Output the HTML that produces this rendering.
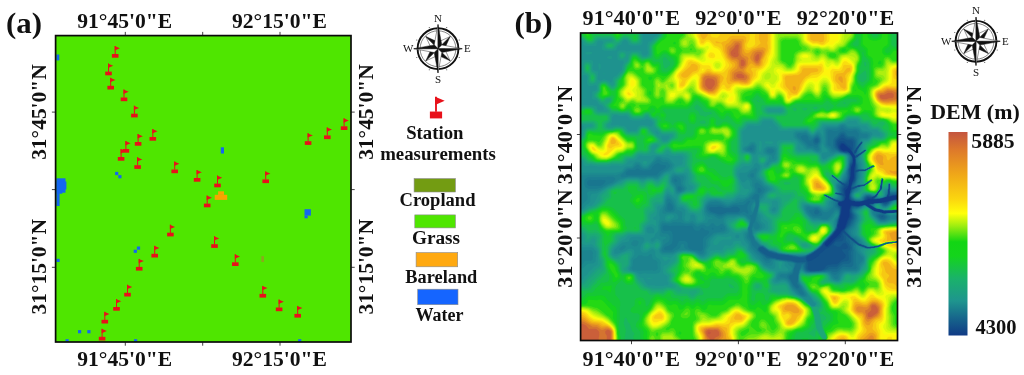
<!DOCTYPE html>
<html lang="en"><head><meta charset="utf-8"><title>Study area</title>
<style>html,body{margin:0;padding:0;background:#fff}svg{display:block}</style></head><body>
<svg width="1024" height="375" viewBox="0 0 1024 375">
<rect width="1024" height="375" fill="#fff"/>
<rect x="55.6" y="35.6" width="295.4" height="306.4" fill="#4fe600"/>
<rect x="56.4" y="54.5" width="2.9" height="5.9" fill="#1467f0"/>
<rect x="56.4" y="178.3" width="9.1" height="14.4" fill="#1467f0"/>
<rect x="56.4" y="181.5" width="10.0" height="8.0" fill="#1467f0"/>
<rect x="56.4" y="192.7" width="3.2" height="13.3" fill="#1467f0"/>
<rect x="56.4" y="190" width="5.9" height="3.7" fill="#1467f0"/>
<rect x="115.1" y="171.9" width="3.2" height="3.2" fill="#1467f0"/>
<rect x="118.3" y="175.1" width="3.2" height="3.2" fill="#1467f0"/>
<rect x="220.8" y="147.3" width="3.2" height="6.2" fill="#1467f0"/>
<rect x="304.5" y="209.2" width="6.4" height="6.4" fill="#1467f0"/>
<rect x="304.5" y="215.6" width="3.2" height="2.7" fill="#1467f0"/>
<rect x="136.9" y="246.5" width="3.2" height="3.2" fill="#1467f0"/>
<rect x="133.7" y="249.7" width="3.2" height="3.2" fill="#1467f0"/>
<rect x="56.4" y="258.8" width="3.2" height="3.2" fill="#1467f0"/>
<rect x="78" y="330.1" width="3.2" height="3.2" fill="#1467f0"/>
<rect x="87.3" y="330.1" width="3.2" height="3.2" fill="#1467f0"/>
<rect x="65.5" y="339.2" width="3.2" height="2.4" fill="#1467f0"/>
<rect x="134" y="339.2" width="3.2" height="2.4" fill="#1467f0"/>
<rect x="298.1" y="339.2" width="3.2" height="2.4" fill="#1467f0"/>
<rect x="214.7" y="194.8" width="12.5" height="5.1" fill="#f7a400"/><rect x="218.1" y="191.3" width="5.9" height="3.6" fill="#f7a400"/>
<rect x="261.3" y="256.1" width="2.7" height="5.9" fill="#8aaa1c"/>
<rect x="111.90" y="54.00" width="6.60" height="3.70" fill="#e8111a"/><rect x="114.70" y="46.00" width="1.00" height="8.20" fill="#e8111a"/><polygon points="114.70,46.00 119.90,48.20 114.70,50.40" fill="#e8111a"/>
<rect x="105.20" y="71.60" width="6.60" height="3.70" fill="#e8111a"/><rect x="108.00" y="63.60" width="1.00" height="8.20" fill="#e8111a"/><polygon points="108.00,63.60 113.20,65.80 108.00,68.00" fill="#e8111a"/>
<rect x="107.40" y="85.80" width="6.60" height="3.70" fill="#e8111a"/><rect x="110.20" y="77.80" width="1.00" height="8.20" fill="#e8111a"/><polygon points="110.20,77.80 115.40,80.00 110.20,82.20" fill="#e8111a"/>
<rect x="120.70" y="97.50" width="6.60" height="3.70" fill="#e8111a"/><rect x="123.50" y="89.50" width="1.00" height="8.20" fill="#e8111a"/><polygon points="123.50,89.50 128.70,91.70 123.50,93.90" fill="#e8111a"/>
<rect x="131.10" y="113.70" width="6.60" height="3.70" fill="#e8111a"/><rect x="133.90" y="105.70" width="1.00" height="8.20" fill="#e8111a"/><polygon points="133.90,105.70 139.10,107.90 133.90,110.10" fill="#e8111a"/>
<rect x="149.50" y="137.00" width="6.60" height="3.70" fill="#e8111a"/><rect x="152.30" y="129.00" width="1.00" height="8.20" fill="#e8111a"/><polygon points="152.30,129.00 157.50,131.20 152.30,133.40" fill="#e8111a"/>
<rect x="134.80" y="142.00" width="6.60" height="3.70" fill="#e8111a"/><rect x="137.60" y="134.00" width="1.00" height="8.20" fill="#e8111a"/><polygon points="137.60,134.00 142.80,136.20 137.60,138.40" fill="#e8111a"/>
<rect x="122.60" y="149.00" width="6.60" height="3.70" fill="#e8111a"/><rect x="125.40" y="141.00" width="1.00" height="8.20" fill="#e8111a"/><polygon points="125.40,141.00 130.60,143.20 125.40,145.40" fill="#e8111a"/>
<rect x="117.80" y="157.00" width="6.60" height="3.70" fill="#e8111a"/><rect x="120.60" y="149.00" width="1.00" height="8.20" fill="#e8111a"/><polygon points="120.60,149.00 125.80,151.20 120.60,153.40" fill="#e8111a"/>
<rect x="134.30" y="165.20" width="6.60" height="3.70" fill="#e8111a"/><rect x="137.10" y="157.20" width="1.00" height="8.20" fill="#e8111a"/><polygon points="137.10,157.20 142.30,159.40 137.10,161.60" fill="#e8111a"/>
<rect x="171.40" y="169.50" width="6.60" height="3.70" fill="#e8111a"/><rect x="174.20" y="161.50" width="1.00" height="8.20" fill="#e8111a"/><polygon points="174.20,161.50 179.40,163.70 174.20,165.90" fill="#e8111a"/>
<rect x="193.80" y="178.00" width="6.60" height="3.70" fill="#e8111a"/><rect x="196.60" y="170.00" width="1.00" height="8.20" fill="#e8111a"/><polygon points="196.60,170.00 201.80,172.20 196.60,174.40" fill="#e8111a"/>
<rect x="203.90" y="203.60" width="6.60" height="3.70" fill="#e8111a"/><rect x="206.70" y="195.60" width="1.00" height="8.20" fill="#e8111a"/><polygon points="206.70,195.60 211.90,197.80 206.70,200.00" fill="#e8111a"/>
<rect x="340.80" y="126.30" width="6.60" height="3.70" fill="#e8111a"/><rect x="343.60" y="118.30" width="1.00" height="8.20" fill="#e8111a"/><polygon points="343.60,118.30 348.80,120.50 343.60,122.70" fill="#e8111a"/>
<rect x="324.00" y="135.40" width="6.60" height="3.70" fill="#e8111a"/><rect x="326.80" y="127.40" width="1.00" height="8.20" fill="#e8111a"/><polygon points="326.80,127.40 332.00,129.60 326.80,131.80" fill="#e8111a"/>
<rect x="304.80" y="141.20" width="6.60" height="3.70" fill="#e8111a"/><rect x="307.60" y="133.20" width="1.00" height="8.20" fill="#e8111a"/><polygon points="307.60,133.20 312.80,135.40 307.60,137.60" fill="#e8111a"/>
<rect x="262.40" y="179.40" width="6.60" height="3.70" fill="#e8111a"/><rect x="265.20" y="171.40" width="1.00" height="8.20" fill="#e8111a"/><polygon points="265.20,171.40 270.40,173.60 265.20,175.80" fill="#e8111a"/>
<rect x="214.20" y="183.60" width="6.60" height="3.70" fill="#e8111a"/><rect x="217.00" y="175.60" width="1.00" height="8.20" fill="#e8111a"/><polygon points="217.00,175.60 222.20,177.80 217.00,180.00" fill="#e8111a"/>
<rect x="211.20" y="244.20" width="6.60" height="3.70" fill="#e8111a"/><rect x="214.00" y="236.20" width="1.00" height="8.20" fill="#e8111a"/><polygon points="214.00,236.20 219.20,238.40 214.00,240.60" fill="#e8111a"/>
<rect x="232.00" y="262.30" width="6.60" height="3.70" fill="#e8111a"/><rect x="234.80" y="254.30" width="1.00" height="8.20" fill="#e8111a"/><polygon points="234.80,254.30 240.00,256.50 234.80,258.70" fill="#e8111a"/>
<rect x="259.50" y="293.90" width="6.60" height="3.70" fill="#e8111a"/><rect x="262.30" y="285.90" width="1.00" height="8.20" fill="#e8111a"/><polygon points="262.30,285.90 267.50,288.10 262.30,290.30" fill="#e8111a"/>
<rect x="275.80" y="307.50" width="6.60" height="3.70" fill="#e8111a"/><rect x="278.60" y="299.50" width="1.00" height="8.20" fill="#e8111a"/><polygon points="278.60,299.50 283.80,301.70 278.60,303.90" fill="#e8111a"/>
<rect x="294.40" y="313.90" width="6.60" height="3.70" fill="#e8111a"/><rect x="297.20" y="305.90" width="1.00" height="8.20" fill="#e8111a"/><polygon points="297.20,305.90 302.40,308.10 297.20,310.30" fill="#e8111a"/>
<rect x="167.10" y="232.70" width="6.60" height="3.70" fill="#e8111a"/><rect x="169.90" y="224.70" width="1.00" height="8.20" fill="#e8111a"/><polygon points="169.90,224.70 175.10,226.90 169.90,229.10" fill="#e8111a"/>
<rect x="151.40" y="253.80" width="6.60" height="3.70" fill="#e8111a"/><rect x="154.20" y="245.80" width="1.00" height="8.20" fill="#e8111a"/><polygon points="154.20,245.80 159.40,248.00 154.20,250.20" fill="#e8111a"/>
<rect x="135.90" y="266.90" width="6.60" height="3.70" fill="#e8111a"/><rect x="138.70" y="258.90" width="1.00" height="8.20" fill="#e8111a"/><polygon points="138.70,258.90 143.90,261.10 138.70,263.30" fill="#e8111a"/>
<rect x="124.20" y="292.80" width="6.60" height="3.70" fill="#e8111a"/><rect x="127.00" y="284.80" width="1.00" height="8.20" fill="#e8111a"/><polygon points="127.00,284.80 132.20,287.00 127.00,289.20" fill="#e8111a"/>
<rect x="113.20" y="307.00" width="6.60" height="3.70" fill="#e8111a"/><rect x="116.00" y="299.00" width="1.00" height="8.20" fill="#e8111a"/><polygon points="116.00,299.00 121.20,301.20 116.00,303.40" fill="#e8111a"/>
<rect x="101.50" y="319.80" width="6.60" height="3.70" fill="#e8111a"/><rect x="104.30" y="311.80" width="1.00" height="8.20" fill="#e8111a"/><polygon points="104.30,311.80 109.50,314.00 104.30,316.20" fill="#e8111a"/>
<rect x="98.80" y="336.80" width="6.60" height="3.70" fill="#e8111a"/><rect x="101.60" y="328.80" width="1.00" height="8.20" fill="#e8111a"/><polygon points="101.60,328.80 106.80,331.00 101.60,333.20" fill="#e8111a"/>
<rect x="55.6" y="35.6" width="295.4" height="306.4" fill="none" stroke="#0a0a0a" stroke-width="1.7"/>
<line x1="125.3" y1="31.900000000000002" x2="125.3" y2="35.6" stroke="#111" stroke-width="0.8"/>
<line x1="125.3" y1="342.0" x2="125.3" y2="345.7" stroke="#111" stroke-width="0.8"/>
<line x1="202.7" y1="31.900000000000002" x2="202.7" y2="35.6" stroke="#111" stroke-width="0.8"/>
<line x1="202.7" y1="342.0" x2="202.7" y2="345.7" stroke="#111" stroke-width="0.8"/>
<line x1="280" y1="31.900000000000002" x2="280" y2="35.6" stroke="#111" stroke-width="0.8"/>
<line x1="280" y1="342.0" x2="280" y2="345.7" stroke="#111" stroke-width="0.8"/>
<line x1="51.9" y1="112.1" x2="55.6" y2="112.1" stroke="#111" stroke-width="0.8"/>
<line x1="351.0" y1="112.1" x2="354.7" y2="112.1" stroke="#111" stroke-width="0.8"/>
<line x1="51.9" y1="189.6" x2="55.6" y2="189.6" stroke="#111" stroke-width="0.8"/>
<line x1="351.0" y1="189.6" x2="354.7" y2="189.6" stroke="#111" stroke-width="0.8"/>
<line x1="51.9" y1="267.3" x2="55.6" y2="267.3" stroke="#111" stroke-width="0.8"/>
<line x1="351.0" y1="267.3" x2="354.7" y2="267.3" stroke="#111" stroke-width="0.8"/>
<text x="6.0" y="33.0" text-anchor="start" font-size="29.5" font-weight="bold" font-family="'Liberation Serif','DejaVu Serif',serif" fill="#111" textLength="36" lengthAdjust="spacingAndGlyphs">(a)</text>
<text x="124.7" y="27.6" text-anchor="middle" font-size="21" font-weight="bold" font-family="'Liberation Serif','DejaVu Serif',serif" fill="#111" textLength="95" lengthAdjust="spacingAndGlyphs">91°45'0&quot;E</text>
<text x="124.7" y="365.8" text-anchor="middle" font-size="21" font-weight="bold" font-family="'Liberation Serif','DejaVu Serif',serif" fill="#111" textLength="95" lengthAdjust="spacingAndGlyphs">91°45'0&quot;E</text>
<text x="279.5" y="27.6" text-anchor="middle" font-size="21" font-weight="bold" font-family="'Liberation Serif','DejaVu Serif',serif" fill="#111" textLength="95" lengthAdjust="spacingAndGlyphs">92°15'0&quot;E</text>
<text x="279.5" y="365.8" text-anchor="middle" font-size="21" font-weight="bold" font-family="'Liberation Serif','DejaVu Serif',serif" fill="#111" textLength="95" lengthAdjust="spacingAndGlyphs">92°15'0&quot;E</text>
<text x="46.2" y="112.1" text-anchor="middle" font-size="21" font-weight="bold" font-family="'Liberation Serif','DejaVu Serif',serif" fill="#111" textLength="95.5" lengthAdjust="spacingAndGlyphs" transform="rotate(-90 46.2 112.1)">31°45'0&quot;N</text>
<text x="373.2" y="112.1" text-anchor="middle" font-size="21" font-weight="bold" font-family="'Liberation Serif','DejaVu Serif',serif" fill="#111" textLength="95.5" lengthAdjust="spacingAndGlyphs" transform="rotate(-90 373.2 112.1)">31°45'0&quot;N</text>
<text x="46.2" y="266.8" text-anchor="middle" font-size="21" font-weight="bold" font-family="'Liberation Serif','DejaVu Serif',serif" fill="#111" textLength="95.5" lengthAdjust="spacingAndGlyphs" transform="rotate(-90 46.2 266.8)">31°15'0&quot;N</text>
<text x="373.2" y="266.8" text-anchor="middle" font-size="21" font-weight="bold" font-family="'Liberation Serif','DejaVu Serif',serif" fill="#111" textLength="95.5" lengthAdjust="spacingAndGlyphs" transform="rotate(-90 373.2 266.8)">31°15'0&quot;N</text>
<g transform="translate(438,48.7)">
<circle r="20.4" fill="#fff" stroke="#111" stroke-width="1.9"/>
<circle r="17.9" fill="none" stroke="#222" stroke-width="0.55"/>
<circle cx="8.76" cy="-21.16" r="0.5" fill="#333"/>
<circle cx="21.16" cy="-8.76" r="0.5" fill="#333"/>
<circle cx="21.16" cy="8.76" r="0.5" fill="#333"/>
<circle cx="8.76" cy="21.16" r="0.5" fill="#333"/>
<circle cx="-8.76" cy="21.16" r="0.5" fill="#333"/>
<circle cx="-21.16" cy="8.76" r="0.5" fill="#333"/>
<circle cx="-21.16" cy="-8.76" r="0.5" fill="#333"/>
<circle cx="-8.76" cy="-21.16" r="0.5" fill="#333"/>
<polygon points="0,0 0.00,-6.60 12.16,-12.16" fill="#fff" stroke="#111" stroke-width="0.45" stroke-linejoin="round"/><polygon points="0,0 6.60,-0.00 12.16,-12.16" fill="#111" stroke="#111" stroke-width="0.45" stroke-linejoin="round"/>
<polygon points="0,0 6.60,-0.00 12.16,12.16" fill="#fff" stroke="#111" stroke-width="0.45" stroke-linejoin="round"/><polygon points="0,0 0.00,6.60 12.16,12.16" fill="#111" stroke="#111" stroke-width="0.45" stroke-linejoin="round"/>
<polygon points="0,0 0.00,6.60 -12.16,12.16" fill="#fff" stroke="#111" stroke-width="0.45" stroke-linejoin="round"/><polygon points="0,0 -6.60,0.00 -12.16,12.16" fill="#111" stroke="#111" stroke-width="0.45" stroke-linejoin="round"/>
<polygon points="0,0 -6.60,0.00 -12.16,-12.16" fill="#fff" stroke="#111" stroke-width="0.45" stroke-linejoin="round"/><polygon points="0,0 -0.00,-6.60 -12.16,-12.16" fill="#111" stroke="#111" stroke-width="0.45" stroke-linejoin="round"/>
<polygon points="0,0 -3.82,-3.82 0.00,-24.20" fill="#fff" stroke="#111" stroke-width="0.45" stroke-linejoin="round"/><polygon points="0,0 3.82,-3.82 0.00,-24.20" fill="#111" stroke="#111" stroke-width="0.45" stroke-linejoin="round"/>
<polygon points="0,0 3.82,-3.82 24.20,-0.00" fill="#fff" stroke="#111" stroke-width="0.45" stroke-linejoin="round"/><polygon points="0,0 3.82,3.82 24.20,-0.00" fill="#111" stroke="#111" stroke-width="0.45" stroke-linejoin="round"/>
<polygon points="0,0 3.82,3.82 0.00,24.20" fill="#fff" stroke="#111" stroke-width="0.45" stroke-linejoin="round"/><polygon points="0,0 -3.82,3.82 0.00,24.20" fill="#111" stroke="#111" stroke-width="0.45" stroke-linejoin="round"/>
<polygon points="0,0 -3.82,3.82 -24.20,0.00" fill="#fff" stroke="#111" stroke-width="0.45" stroke-linejoin="round"/><polygon points="0,0 -3.82,-3.82 -24.20,0.00" fill="#111" stroke="#111" stroke-width="0.45" stroke-linejoin="round"/>
</g>
<text x="438" y="21.500000000000004" text-anchor="middle" font-size="11" font-family="'Liberation Serif','DejaVu Serif',serif" fill="#111">N</text>
<text x="438" y="82.9" text-anchor="middle" font-size="11" font-family="'Liberation Serif','DejaVu Serif',serif" fill="#111">S</text>
<text x="408.3" y="52.400000000000006" text-anchor="middle" font-size="11" font-family="'Liberation Serif','DejaVu Serif',serif" fill="#111">W</text>
<text x="467.3" y="52.400000000000006" text-anchor="middle" font-size="11" font-family="'Liberation Serif','DejaVu Serif',serif" fill="#111">E</text>
<rect x="429.89" y="111.56" width="12.21" height="6.85" fill="#e8111a"/><rect x="435.07" y="96.76" width="1.85" height="15.00" fill="#e8111a"/><polygon points="435.07,96.76 444.69,100.83 435.07,104.90" fill="#e8111a"/>
<text x="434.8" y="138.7" text-anchor="middle" font-size="18.5" font-weight="bold" font-family="'Liberation Serif','DejaVu Serif',serif" fill="#111" textLength="57.3" lengthAdjust="spacingAndGlyphs">Station</text>
<text x="438" y="160" text-anchor="middle" font-size="18.5" font-weight="bold" font-family="'Liberation Serif','DejaVu Serif',serif" fill="#111" textLength="115.6" lengthAdjust="spacingAndGlyphs">measurements</text>
<rect x="414.1" y="178.6" width="41.3" height="13.4" fill="#739c12" stroke="#8a8a8a" stroke-width="0.6"/>
<text x="437.5" y="205.5" text-anchor="middle" font-size="18.5" font-weight="bold" font-family="'Liberation Serif','DejaVu Serif',serif" fill="#111" textLength="76" lengthAdjust="spacingAndGlyphs">Cropland</text>
<rect x="414.8" y="214.9" width="40.6" height="13" fill="#4fe600" stroke="#8a8a8a" stroke-width="0.6"/>
<text x="436" y="244.1" text-anchor="middle" font-size="18.5" font-weight="bold" font-family="'Liberation Serif','DejaVu Serif',serif" fill="#111" textLength="48.2" lengthAdjust="spacingAndGlyphs">Grass</text>
<rect x="416.1" y="252.6" width="41.6" height="14.2" fill="#ffa910" stroke="#8a8a8a" stroke-width="0.6"/>
<text x="441.3" y="282.7" text-anchor="middle" font-size="18.5" font-weight="bold" font-family="'Liberation Serif','DejaVu Serif',serif" fill="#111" textLength="72" lengthAdjust="spacingAndGlyphs">Bareland</text>
<rect x="417.7" y="289.2" width="40.3" height="15.5" fill="#1565ff" stroke="#8a8a8a" stroke-width="0.6"/>
<text x="439.5" y="321.3" text-anchor="middle" font-size="18.5" font-weight="bold" font-family="'Liberation Serif','DejaVu Serif',serif" fill="#111" textLength="48" lengthAdjust="spacingAndGlyphs">Water</text>
<defs><linearGradient id="cb" x1="0" y1="0" x2="0" y2="1"><stop offset="0" stop-color="#c4553f"/><stop offset="0.09" stop-color="#de7a2a"/><stop offset="0.21" stop-color="#f0a818"/><stop offset="0.33" stop-color="#fbd60f"/><stop offset="0.40" stop-color="#ffff0a"/><stop offset="0.46" stop-color="#a0ee10"/><stop offset="0.54" stop-color="#12d614"/><stop offset="0.61" stop-color="#14d41c"/><stop offset="0.72" stop-color="#1ab26a"/><stop offset="0.83" stop-color="#1e958e"/><stop offset="0.91" stop-color="#17688c"/><stop offset="1" stop-color="#103a85"/></linearGradient></defs>
<defs><clipPath id="demclip"><rect x="580.6" y="33.0" width="316.9" height="307.5"/></clipPath></defs>
<g clip-path="url(#demclip)" fill-rule="evenodd">
<g transform="translate(580.25 33.25) scale(0.5)">
<rect width="640" height="620" fill="#103a85"/>
<path fill="#124587" d="M0 0l0 619 639 0 0-619zM526 221l15 13 8 12 0 5 1 1 0 12-2 6-1 19-6 18 1 2-5 18 0 5 6 4 17 1 1-1 12-2 3-2 6 0 1 1 1-1 10 0 1-1 11-1 4-2 3 0 2-2 4 1 6-2 10-1 3 3 0 2-2 2-5 2-14 2-9 3-21 2-1 1-8 0-1 1 7 4 3 3 7 3 3 0 9 3 29-1 1 3-1 1-7 0-1 1-15 0-1 1-3 0-17-5-1 1-20-13-12 2-1 1-14-2-2 1-2 3 0 3-1 1 0 14-4 8-5 15-8 7-1 3-6 7-7 6-13 14-2 0-3-4 1-2 16-17 9-12 0-6 2-4 0-4 5-17 1-12 1-1-2-2-3 0-3-3 0-2 3-3 4 0 6-3 2-6-1-13 6-7 0-3 2-5 0-5 3-10 1-17 4-10-1-10-5-8-7-5-7 0-5-4-1-5 3-5z"/>
<path fill="#124d88" d="M0 0l0 619 639 0 0-619zM589 326l1-1 1 1-1 1zM592 323l1 2-2 1-1-1zM592 323l1-1 1 1-1 1zM593 321l1-1 1 2-1 1zM594 320l1-1 1 1-1 1zM595 318l1-1 1 2-1 1zM596 317l1-1 1 1-1 1zM597 315l1-1 1 2-1 1zM598 314l1-1 1 1-1 1zM599 313l1-1 1 1-1 1zM601 309l1 1-1 3-1-1zM602 302l1 1 0 6-1 1-1-1 0-6zM618 301l1 1 0 10-1 1-1-1 0-10zM603 295l1 1 0 6-1 1-1-1 0-6zM604 291l1 1 0 3-1 1-1-1 0-3zM527 220l12 10 10 14 1 8 1 1 0 9-2 4-1 25-2 5-2 2-3 17-3 9 0 7 5 4 4 0 4 2 8 0 14-4 3-3 3 1 8-5 2 0 1 2-5 3 1 1 7 0 1-1 11-1 8-3 2-5 0-6 2-4 2 4-1 10 7-1 1-1 3 1 1-1 6 0 2 2 0 4-6 3-5 0-1 1-7 1-3 2-8 1-1 1-3-1-1 1-16 1-1 1-7 0-1 1 12 8 18 4 1 1 2-1 24 0 2 2-3 3-26 2-1-1-18-4-9-5-1-2-5-3-2 0-2-3-7 2-4 0-1 1-16-1-3 8 1 14-5 9 0 2-6 13-6 6-4 8-7 6-9 10-7 6-5 0-3-3 1-5 17-18 8-11 0-5 2-4 0-3 3-9 0-4 3-9 0-10-2 0-4-3 0-4 2-2 4 0 6-3 2-8-2-6 0-8 1-2 4-4 3-1 1-2 1-9 2-6 1-20 4-8-1-12-5-8-3-3-10-1-6-4-2-4 0-4 4-5z"/>
<path fill="#145489" d="M0 0l0 619 639 0 0-619zM573 429l1-1 6 0 1 1-1 1-6 0zM580 428l1-1 7 0 1 1-1 1-7 0zM570 428l1-1 3 1-1 1zM588 427l1-1 5 0 1 1-1 1-5 0zM568 427l1-1 2 1-1 1zM594 426l1-1 3 1-1 1zM565 426l1-1 3 1-1 1zM597 425l1-1 3 1-1 1zM562 425l1-1 3 1-1 1zM600 424l1-1 2 1-1 1zM560 424l1-1 2 1-1 1zM602 423l1-1 3 1-1 1zM557 423l1-1 3 1-1 1zM605 422l1-1 3 1-1 1zM555 422l1-1 2 1-1 1zM608 421l1-1 2 1-1 1zM554 421l1-1 1 1-1 1zM610 420l1-1 4 0 1 1-1 1-4 0zM553 420l1-1 1 1-1 1zM615 419l1-1 7 0 1 1-1 1-7 0zM552 419l1-1 1 1-1 1zM623 418l1-1 7 0 1 1-1 1-7 0zM550 418l1-1 2 1-1 1zM631 417l1-1 3 1-1 1zM549 417l1-1 1 1-1 1zM548 416l1-1 1 1-1 1zM547 415l1-1 1 1-1 1zM546 414l1-1 1 1-1 1zM544 413l1-1 2 1-1 1zM543 412l1-1 1 1-1 1zM542 411l1-1 1 1-1 1zM540 410l1-1 2 1-1 1zM539 409l1-1 1 1-1 1zM538 408l1-1 1 1-1 1zM537 407l1-1 1 1-1 1zM536 406l1-1 1 1-1 1zM535 405l1-1 1 1-1 1zM534 404l1-1 1 1-1 1zM533 403l1-1 1 1-1 1zM532 402l1-1 1 1-1 1zM531 401l1-1 1 1-1 1zM530 400l1-1 1 1-1 1zM529 399l1-1 1 1-1 1zM514 336l1-1 2 1-1 1zM511 335l1-1 3 1-1 1zM508 334l1-1 3 1-1 1zM506 333l1-1 2 1-1 1zM504 332l1-1 2 1-1 1zM502 331l1-1 2 1-1 1zM500 330l1-1 2 1-1 1zM498 329l1-1 2 1-1 1zM496 328l1-1 2 1-1 1zM494 327l1-1 2 1-1 1zM492 326l1-1 2 1-1 1zM490 325l1-1 2 1-1 1zM488 324l1-1 2 1-1 1zM518 322l1-1 4 0 1 1-1 1-4 0zM513 321l1-1 4 0 1 1-1 1-4 0zM510 320l1-1 3 1-1 1zM546 309l1-1 2 1-1 1zM548 308l1-1 3 1-1 1zM551 307l1-1 2 1-1 1zM553 306l1-1 3 0 1 1-1 1-3 0zM557 305l1-1 5 0 1 1-1 1-5 0zM563 304l1-1 4 0 1 1-1 1-4 0zM568 303l1-1 1 1-1 1zM569 302l1-1 2 1-1 1zM525 302l1-1 2 1-1 1zM571 301l1-1 1 1-1 1zM523 301l1-1 2 1-1 1zM572 300l1-1 2 1-1 1zM522 300l1-1 1 1-1 1zM574 299l1-1 1 1-1 1zM521 299l1-1 1 1-1 1zM575 298l1-1 2 1-1 1zM519 298l1-1 2 1-1 1zM577 297l1-1 1 1-1 1zM518 297l1-1 1 1-1 1zM578 296l1-1 2 1-1 1zM516 296l1-1 2 1-1 1zM580 295l1-1 1 1-1 1zM515 295l1-1 1 1-1 1zM581 294l1-1 1 1-1 1zM514 294l1-1 1 1-1 1zM513 293l1-1 1 1-1 1zM512 292l1-1 1 1-1 1zM511 291l1-1 1 1-1 1zM509 290l1-1 2 1-1 1zM508 289l1-1 1 1-1 1zM507 288l1-1 1 1-1 1zM506 287l1-1 1 1-1 1zM504 286l1-1 2 1-1 1zM503 285l1-1 1 1-1 1zM552 275l1-1 3 0 1 1-1 1-3 0zM556 274l1-1 13 0 1 1-1 1-13 0zM570 273l1-1 2 1-1 1zM572 272l1-1 2 1-1 1zM574 271l1-1 2 1-1 1zM576 270l1-1 2 1-1 1zM578 269l1-1 2 1-1 1zM580 268l1-1 2 1-1 1zM582 267l1-1 2 1-1 1zM584 266l1-1 3 1-1 1zM562 239l1-1 2 1-1 1zM564 238l1-1 1 1-1 1zM565 237l1-1 1 1-1 1zM566 236l1-1 2 1-1 1zM568 235l1-1 1 1-1 1zM569 234l1-1 1 1-1 1zM563 216l1 1 0 3-7 8-5 10-3 3-2-2 4-8zM527 216l2 1 6 7 3 1 5 5 0 5 7 11 10-7 3 1-5 5-8 5 1 2-1 22 3 2-3 2-1 15-4 6-3 8 0 2 4 0 1 1-3 1-3 3-2 7 0 8 2 4 3 2 5 0 1 1 14 0 8-4 3-4 7 1 2-2 2 0 3-2 10-13 1-9 1-1 0-6 1-1 0-3 2-2 2 2 0 3-1 1 0 6-1 1-1 9-3 3-6 10-8 6 4 0 1 1 2-1 6 0 14-4 2-6 1-19 2-2 2 2 0 10-1 1 0 10-1 3 6-2 12-1 3 5-3 4-12 2-13 5-23 1-4 2-5 0 0 1 12 7 14 3 1 1 20 0 1-1 7 0 3 3-2 3-23 1-1 1-3 0-1-1-18-4-14-8-6-5-12 4-11-1-1-1-2 1-3 7 0 5 2 4 0 6-5 8-7 15-3 3 3 4-2 1-3-2-4 11-3 3-8 4-13 14-6 2-7 7-6 4 0 2-2 2-14 9-5 1-4-3 0-5 19-12 13-11 2-5 17-17 9-13 0-4 3-8 0-3 4-13 0-4 1-1 0-10-3-1-3-5 2-5 8-1 2-1 1-2 0-7-2 0-3-2 4-2-1-9 3-5-2-4 1-1 5 1 3-2 1-2 0-4 2-6 0-16 1-1 1-8 4-7-1-9-5-8-5-3-8 0-4-2-4-4-2-4 0-7 3-4z"/>
<path fill="#155c8b" d="M0 0l0 619 639 0 0-619zM588 427l1-1 5 0 1 1-1 1-5 0zM594 426l1-1 3 1-1 1zM597 425l1-1 3 1-1 1zM600 424l1-1 2 1-1 1zM602 423l1-1 3 1-1 1zM605 422l1-1 3 1-1 1zM608 421l1-1 2 1-1 1zM610 420l1-1 4 0 1 1-1 1-4 0zM615 419l1-1 7 0 1 1-1 1-7 0zM623 418l1-1 7 0 1 1-1 1-7 0zM631 417l1-1 3 1-1 1zM496 328l1-1 2 1-1 1zM494 327l1-1 2 1-1 1zM492 326l1-1 2 1-1 1zM490 325l1-1 2 1-1 1zM488 324l1-1 2 1-1 1zM568 303l1-1 1 1-1 1zM569 302l1-1 2 1-1 1zM571 301l1-1 1 1-1 1zM572 300l1-1 2 1-1 1zM574 299l1-1 1 1-1 1zM575 298l1-1 2 1-1 1zM577 297l1-1 1 1-1 1zM578 296l1-1 2 1-1 1zM580 295l1-1 1 1-1 1zM581 294l1-1 1 1-1 1zM512 292l1-1 1 1-1 1zM511 291l1-1 1 1-1 1zM509 290l1-1 2 1-1 1zM508 289l1-1 1 1-1 1zM507 288l1-1 1 1-1 1zM506 287l1-1 1 1-1 1zM504 286l1-1 2 1-1 1zM503 285l1-1 1 1-1 1zM570 273l1-1 2 1-1 1zM572 272l1-1 2 1-1 1zM574 271l1-1 2 1-1 1zM576 270l1-1 2 1-1 1zM578 269l1-1 2 1-1 1zM580 268l1-1 2 1-1 1zM582 267l1-1 2 1-1 1zM584 266l1-1 3 1-1 1zM563 216l2 2-10 13 0 2-3 6-2 2-2 0-1-3 4-8zM525 209l8 5 8 0 4 3 1 22 4 6 3-2 2 0 15-11 2 2-8 7-14 9 1 2 0 22 6-2 12 0 2 2-3 2-11 0-6 2-1 15-1 3-5 6 0 3-1 1 0 2 2 0 9-4 9-1 1-1 2 0 3 2-6 3-9 1-11 5-2 3 0 3-2 5 2 7 3 3 6 2 10 0 1-1 7-1 6-7 9 1 7-4 9-12 1-9 1-1 0-6 1-1 0-3 2-2 2 2 0 3-1 1 0 6-1 1-1 9-3 3-6 10-5 4-1 2 15-1 10-4 2-5 1-19 2-2 2 2-1 23 7-2 2 1 2-1 6 0 3 3 0 3-5 4-8 1-4 2-4 0-5 4-3 1-5-2-2 1-5 0-1-1-1 1-6 0-4 2-7 0 8 6 7 3 3 0 9 3 29-1 2 2 0 2-2 2-23 1-1 1-3 0-1-1-18-4-14-8-5-4-3 0-9 3-11 0-2-1-3 3 0 3-1 1 0 3 3 7 0 6-7 13-8 11 0 2 12 13 5 3 10 9 18 7 10-1 5 2-3 2-12 1-6-3-10-3-18-13-14-13 0 6 1 1-1 7-3 3-12 1-5 7 5 1 2 2 7 0 6-7 3 0 1-1 5 7 0 4-6 2-5 0-1 2 8 10-1 5-9 6-5 5-4 2-9 0-1 1-5 0-5 2-4 6-6 3-4 0-1 1-15 0-5-2-2-2 0-5 1-2-1-1 0-5-2-2-2-5 1-3 4-4 9-4 15-11 7-10 17-17 9-13 0-5 5-15 0-4 2-5 0-13-5-4 0-5-1-1-5-1-8-4-3-3 1-1 5 1 5 3 12 4 3-1 3-4-1-6-15-3-1-3 3-1 1 1 10 1 1 1-1-10 3-6-10-7-4-5 1-1 4 2 6 5 4 1 2 2 5-4 2-6 0-4 1-1 0-15 1-1 1-8 4-6 0-8-7-10-9-1-8-3-3-3-4-10 1-6 4-4 5-3z"/>
<path fill="#16658c" d="M0 0l0 619 639 0 0-290 0 1-4 3-15 3-8 6-4 0-3-2-10 0-1 1-6 0-1 1-7 0 11 8 14 3 1 1 29-1 2 2 0 2-2 2-30 2-3-2-1 1-3-2-10-2-15-10-2 0-1-2-7 2-4 0-3 2-8-1-4 2-1 2 0 7 3 6 0 6-3 4-4 9-9 10 0 3 12 12 5 3 10 9 17 7 14-1 1-1 5 0 9-4 2 1 1 2-12 5-20 2-6-3-13-4-25-21 2 5-1 7 6 7 3 7-1 4-3 3 1 16-1 2-3 2-5 0-5 2-10 9-15 0-7 5-9 3-5 0-1 1-15 0-6-2-3-3 0-13-2-1-15 1-14-4-27-3-4-2-3 0-13-4-16-11 0-4 3-2 3 0 13 9 12 4 3 0 4 2 21 2 1 1 5 0 1 1 4 0 1 1 9 1 1 1 2-1 6 0 3-1 3-3 9-4 18-13 3-3 4-7 6-5 17-19 3-8 2-12 4-12 1-12-5-6 0-6-4-1-22-11-2-2 3-2 19 10 6 1 3 2 5 0 2-2 0-7-1-1-6-2-4 0-5-3 2-2 12 2-1-10 3-6-23-19 2-2 2 1 11 10 10 6 3 0 4-4 2-5 0-4 1-1 0-14 2-5 0-4 4-9 0-6-5-8-13-2-5-2-6-6-3-7 0-7 1-2 11-11 3 0 5 6 4 2 8 0 5 4 1 3-1 16 2-1 6-10 7-7 2 2-10 14-3 7-3 3 1 3 9-6 2 0 9-7 2 2-4 4-17 12 1 22 1 1 3-1 14 0 13-7 2 2-1 2-14 7-12 0-1 1-3 0-2 2-1 15-3 6-3 3-1 3 1 2 9-4 14-2 8-6 3 1-2 3-9 6-14 2-2 2-7 2-2 2 0 2-3 6 0 4 3 6 6 3 10 1 1-1 7-1 2-2 0-2 5-4 10 1 4-2 6-6 5-7 1-9 1-1 0-6 1-1 0-3 2-2 2 2 0 3-1 1 0 6-1 1-1 10-3 2-6 11-5 3-1 2 13-1 8-3 3 0 3-6 1-19 2-2 2 2 0 11-1 1 1 9 16-1 3 2 0-324zM605 422l1-1 3 1-1 1zM608 421l1-1 2 1-1 1zM610 420l1-1 4 0 1 1-1 1-4 0zM615 419l1-1 7 0 1 1-1 1-7 0zM623 418l1-1 7 0 1 1-1 1-7 0zM631 417l1-1 3 1-1 1zM602 366l2-1 2 2-3 1zM578 296l1-1 2 1-1 1zM580 295l1-1 1 1-1 1zM581 294l1-1 1 1-1 1zM584 266l1-1 3 1-1 1z"/>
<path fill="#186d8e" d="M0 0l0 619 639 0 0-289-3 3-8 1-9 3-3 4-6 3-5-2-2-2-15 1-4 2-3 0 13 8 8 1 5 2 28-1 2 2 0 2-2 2-22 1-3 2-2 0-12-4-7-1-20-13-16 5-5 0-4 3 0 5 4 7 0 6-8 15-7 7-1 5 10 11 5 3 10 9 18 7 5 0 1-1 13-1 9-4 5-1 3-2 4 0 1-1 7 0 1-1 7 0 1-1 2 0 2 2-5 3-20 2-3 2-5 1-9 4-21 2-18-7-19-15 4 9-1 1 4 9 0 6-2 4 0 5 1 1 0 11-1 3-4 3-10 0-4 2-10 9-16 0-1 1-3 0-5 2-5 0-1 1-22 1-7-2-2-2-2-6 1-6-3-2-3 1-9 0-15-5-21-2-1-1-5 0-4-2-13-1-5-2-2-3-9-6-4-4 0-4 3-3 6 0 13 9 12 4 3 0 4 2 21 2 1 1 5 0 1 1 11 1 1 1 11-1 11-6 2 0 18-13 5-5 2-4 18-18 5-7 3-6 0-3 7-25 0-9-4-5-1-6 1-1-2-2-5-1-6-4-13-6-2-2 3-2 17 9 8 2 3 2 1-1 2 1 2-2 0-4 1-1-2-4-8-1-5-3 2-2 8 1 1 1 2-1-2-5 0-6 3-5-21-18 2-2 2 1 11 10 5 2 3 3 4 0 3-3 3-7 1-17 5-18 0-9-6-5-9-1-8-3-7-7-2-4 0-11 13-14 5 0 4 5 4 3 11 1 5 6 0 14 2-1 9-12 3 1-1 4-9 11-4 11 3 0 16-11 2 2-10 9-11 7 1 3 0 8 1 1 1 10 1 1 1-1 14 0 15-8 2 0 2 2-2 2-2 0-15 8-12 0-5 3-1 15-6 12 4 0 7-3 11-1 14-10 2 2-4 4-12 8-13 2-10 5-4 9 0 4 2 4 7 5 14 0 3-2 2-5 4-3 7 0 1 1 5 0 2-1 11-14 1-8 1-1 0-6 1-1 0-3 2-2 2 2 0 3-1 1 0 7-1 1-1 9-3 3-6 10-5 4 1 1 14-2 8-3 3-8 1-17 1-1 3 1 0 12-1 1 1 7 19 0 0-321zM597 365l2-2 7 0 4 3 0 3-3 2-5 0-4-3zM473 210l3 2 0 5-2 2-3 0-2-2 0-3 1-2z"/>
<path fill="#19768f" d="M0 0l0 619 639 0 0-288-6 3-5 0-3 2-2 0-8 7-4 2-3 0-5-4-3-1-12 1-3 2-3 0 10 7 14 3 1 1 28-1 2 2 0 2-2 2-18 1-1 1-9 1-8-3-10-2-20-13-15 6-7 1-2 4 5 10 0 5-6 13-10 12 1 5 22 20 18 7 19-2 9-4 5-1 3-2 4 0 1-1 7 0 1-1 10-1 2 2-2 2-23 3-3 2-5 1-9 4-12 1-1 1-8 0-6-3-10-3-5-4-2 0-3-2-2 2 0 9 2 5-1 1 0 28-3 3-3 1-10-1-1-1-1 1-3 0-9 8-4 2-7 0-4-2-10 0-1 1-20 1-1 1-14-1-3-1-3-3-2-7 0-4-2-1-3 2-2 7-3 5 0 4-1 1-1 16-2 4 4 6 0 3-1 1-3 0-7-7-8-14 0-3 2-2 5-2 0-2 2-3 0-5 4-9 0-3-7-3-9-1-1-1-15-1-1-1-5 0-1-1-10-1-1-1-1 1-6 0-19-16-1-3 3-5 2-1 6 0 12 9 3 0 17 6 27 3 1 1 11 1 1 1 11-1 6-3 2 0 19-12 33-36 4-9 2-12 4-11 0-10-6-8 1-7-15-7-11-7 3-2 20 10 9 2 2-2 1-7-2 0-3-2-4 0-4-3 2-2 9 1-3-11 4-5 0-2-5-3-5-6-9-7 2-2 11 9 9 6 3 0 4-4 3-7 0-8 1-1 0-5 1-1 3-18 1-1 0-6-2-4-3-2-17-4-6-4-5-5-1-3 0-11 2-4 7-6 2-4 4-3 5-1 4 2 4 6 3 2 10 0 2 1 4 5 0 14 3-2 6-8 3 1-1 4-4 4-5 8 0 2-2 3 1 1-1 3 4-1 12-9 2 0 1 3-20 15 0 7 3 8 0 7 15 0 15-8 2 0 2 2-2 2-2 0-15 8-12 0-3 2-1 12-5 15 3 0 5-2 5 0 1-1 5 0 14-10 2 2-4 4-12 8-13 2-6 3-6 8-1 3 0 4 2 4 6 4 11 1 5-2 1-4 6-5 7 0 4 2 4-1 11-14 1-9 1-1 0-6 2-5 3 2-3 21-3 3-6 10-5 4 10 0 1-1 8-1 4-2 2-5 0-6 2-4 0-10 1-1 3 1 0 12-1 1 1 1 0 4 19 0 0-319zM594 364l4-3 6 0 7 3 2 2 0 3-5 4-6 0-7-6zM471 353l4 0 3 4 0 2-3 3-4 0-3-2 0-4zM258 350l2-2 14 0 1-1 6 0 8 3 10 0 7-3 8 0 5 4 0 4-4 3-21 0-11 4-6 0-15-5-4-4zM475 208l3 4 0 5-5 6-3 0-2-1-2-3 0-5 4-5z"/>
<path fill="#1a7d90" d="M0 0l0 619 639 0 0-288-5 3-11 2-9 9-3 1-4 0-2-1-3-4-3 0-1-1-2 1-7 0-5 3 2 1 1 2 6 3 3 0 13 4 2-1 1 1 23-1 2 2 0 3-1 1-7 0-3 2-14 0-2 1 6 4 0 3-6 5-9 0-2-1-7-7-1-4 2-2 7 0-12-3-18-12-3 0-10 5-8 2-2 2 0 3 5 9 0 5-6 13-9 11 1 5 4 7 8 4 8 9 2 0 4 3 5 1 6 3 19-2 9-4 5-1 3-2 4 0 1-1 7 0 1-1 10-1 2 2-2 2-23 3-3 2-5 1-9 4-12 1-1 1-8 0-6-3-9-2-8-5-3 5 4 12 0 21 1 1 0 7 1 1-3 4-25 0-14 11-3 0-9-6-44 1-5-2-2-2-2-4-1-6-1 0-7 14 0 3-1 1 0 16-1 1 5 7 3 8 4 5 0 3-1 1-3 0-3-2-4-5-11-10-5-10-6-8 0-3 2-2 8-4 4-11 1-8-5-2-9-1-1-1-20-2-6-2-8 0-4 3-5-1-5-5-2-4-11-10-1-4-2-1-6-7-4-12-3-4 0-13-1-1 0-2 3-5 0-4 2-6 0-8-2-3 1-1 3 0 4-5 0-3 4-11 0-8-2-5-5 0-1-2 7-8 5-1 2 2 0 6-1 1 1 10-2 7 0 6-4 12-1 8-2 5-2 2-4 12 1 1 1 11 3 5 0 2 2 4 9 9 8 2 13 9 13 3 4 2 10 1 6 2 17 1 6 2 9 0 15-5 15-10 9-8 2-4 17-17 2-4 5-5 0-2 2-3 0-3 2-5 0-5 4-10 1-9-1-2-7-6-1-3 1-8-16-8-7-5 3-2 20 10 5 0 1 1 2-1 2-4 0-3-3-2-7-1-1-3 1-1 4 0 1 1 3-1-3-12 1-2 4-3-18-15 0-2 1-1 3 1 4 4 2 0 6 6 7 4 5-6 3-7 0-7 3-9 3-20-1-1 0-3-3-3-14-3-8-4-6-1-4-4-2-4-3-1-3-3 0-9 1-1-1-3 0-12 3-3 4 0 5 2 5 0 5-2 6-5 2 0 3 3 9 4 6 0 6-2 3 1 5 6-2 20 2 1 5-6 3 1-1 4-6 7 0 2-2 2 0 7-1 2 5-2 9-7 3 1 0 2-3 3-11 7-5 6 0 4 3 8 0 8 3 1 10 0 16-8 2 0 2 2-2 2-2 0-14 8-12 0-3 2 0 9-5 17 16-2 15-10 2 2-15 12-14 2-5 4-6 7-1 3 0 4 5 6 6 2 9 0 5-8 5-3 6 0 5 2 5-1 10-13 1-9 1-1 0-6 2-5 3 1-2 19-1 3-3 3-9 14 3 0 1-1 1 1 3 0 12-4 3-6 0-7 2-2 0-10 1-1 3 1 0 17 19 0 0-318zM280 391l2-2 2 1-1 2zM265 389l2 2-3 2-1-2zM168 432l0-2 3-3 6-2 6-4 2-7 0-12-1-1 0-3-3-3-3-1-3 1-8 0-2-3 0-5 3-3 8 1 1 1 4 0 1-1 26 0 1 1 13-1 3 2 2 5 4 3 6 0 2-1 4-5 2 0 5 5 3 0 5 2-1 4-5 5-3 1-4 5 0 21-3 4-4 0-4-2-7 0-8-3-4-4 0-7-2-3-4-2-10 0-2 1-3 6 0 2-11 10-13 0zM458 354l1-1 5 0 6-3 4 0 7 6 3 7-2 2-4 0-1 1-8 0-3-1-6-6-2-3zM178 338l5 5 2 4 0 5-5 3-4-1-2-2 1-10zM340 336l-6 10 0 6 2 5 0 3-1 1-7-4-2 0-10 4-23 0-11 5-6 0-7-4-10-3-5-6 0-5 4-5 3 0 1-1 2 1 17 0 13 5 15-5 16 1 5-2 3-4 4-3zM356 309l4 1 3 4-1 3-4 3-3-1 0-9zM197 306l3 1 3 3 0 2-3 3-2 0-3-3 0-4zM14 302l0-5 3-3 3-1 2 1 21-1 1 1 5 0 2 2-6 7-4 2-24 0zM188 292l3-1 3 3 0 2-3 2-3-3zM171 265l0 3-3 3-9 5-7 8-59 0-2-2 1-4 5-4 12 0 5-4 7 4 3 0 1 1 14-1 4-3 1-3 5-5 5-3 3 0 4 3 9 1zM339 231l2-2 3 1-1 3-3 0zM441 207l4-3 7 0 3 3 2 6 2 2 2 0 10-9 3-1 2 1 3 4 1 3-1 6-3 4-1 4-2 2-2 0-6-4-6 0-2-1-8-8-5-3z"/>
<path fill="#1c848f" d="M348 336l-4 4-3 7 0 7 3 4 1 0 3-6 3-9-1-1 0-4zM0 0l0 619 639 0 0-249-6 0-3-3 2-2 7-1 0-32-7 3-7 1-11 10-3 1-6-1-5-5-9 0-5 3 0 1 5 4 18 4 1 1 1-1 5 0 1 1 18-1 2 2 0 3-3 2-21 1-1 1 5 2 3 3 0 2-3 3-9 4-5 0-5-2-8-8-4-7 0-3-17-11-4 1-4 3-10 4-2 2 0 2 4 7 1 6-7 17-6 8 1 8 3 3 6 3 6 6 1 2-1 2 11 4 7 4 18-2 23-8 7 0 1-1 7 0 1-1 2 0 2 2-5 3-20 2-16 7-13 1-1 1-12-1-12-4-4-3-2 2 0 5 2 6 4 6 1 0 7 8-1 5-7 7-1 9-4 4-25 0-8 6-3 5 0 3-2 2-4 0-11-12-3-1-41 1-5-2-5-5-1-3-2 0 0 2-4 6-2 16 1 1 0 6 5 6 2 5 7 11 0 2-2 2-4 0-6-3-15-15-5-10-5-6-5-3-9-1-1-1 0-2 3-3 10 0 11-5 4-10 0-6-1-1-7-2-4 0-1-1-4 0-5-2-7 0-1-1-6 0-1-1-6 0-5 6-6 1-6-5-9-11-4-3-11-12-2-4-1-7-6-8-1-6 3-6 0-8 3-7 0-7 1-1-1-3-7-7-8-3-3 0-1 1-24 0-8 3-5 4-5 1-5-2-7-5-9-2-5-6 0-9 1-3 4-4 4-2 13-1 9 3 9 5 5 0 8-4 12-2 1-1 6 0 4-2 5-4 3-1 13-12 2-4 0-3-2-5 0-6 3-2 3 0 14 13 0 2-3 5-6 6-2 4 0 3-1 1 1 1-1 12-2 5 0 6-1 1 0 5-2 6 0 7 6 7 1 5-5 4-4 0-2-2-1-4-4 6 1 1 1 10 5 11 6 7 4 3 6 1 12 9 3 0 17 6 20 2 1 1 6 0 1 1 6 0 1 1 13 0 1-1 4 0 7-4 2 0 2-2 2 0 10-7 33-36 4-9 1-12 5-11 0-5-3-4-5 0-10 13-6 5-8 0-6-3-12 0-6-4-7-8-2-7 4-3 6 2 12-1 4 2 9 8 7 0 12-10 0-10 1-2-4-3-13-6-3-3 3-2 18 9 3 0 1 1 2 0 4-5-1-3-8-3 1-3 4 0 1 1 2-1-3-7 0-7 4-5-16-13 0-2 1-1 4 1 11 10 4 2 2 0 2-2 5-9 1-7 4-13 1-19-1-2-3-2-7-2-4 0-7-3-11 0-3-3-2-4-7-6 0-23-1-2 1-1 0-4 3-3 18 0 12-7 9 7 3 0 1 1 14-1 4 2 6 7 2 1 8 0 4 3-2 4-2 1-6 0-1-1-1 1-3 0-3 4 0 7 4-4 2 0 1 3-7 10 0 9-1 2 6-3 6-5 3 1 0 2-3 3-8 5-5 5-1 8 3 7 0 8 11 1 16-8 2 0 2 2-2 2-2 0-14 8-13 1 0 8-5 18 14-1 15-10 2 2-15 12-10 1-2 2-2 0-11 12 0 6 6 5 3 1 9 0 3-5 6-5 6-1 9 3 3-1 10-13 1-9 1-1 0-6 2-5 3 1-2 19-1 3-3 3-8 13 9 0 7-2 2-2 2-6 2-2 0-5 2-4 0-7 1-1 3 1 0 8 1 1-1 6 3 1 16 0 0-317zM163 434l0-2 4-8 4-4 5-2 3-5 0-7-4-5-9-1-2-1-2-3-1-8 1-1 0-3 3-4 15 1 6-3 7 0 1 1 6-1 9 3 11 0 1-1 3 0 9 7 3 0 6-4 6 0 3 3 5 1 7-7 3 0 6 6 4 0 5-4 3-1 5 6 1 6-3 3-20 3-14 12-2 4 0 10-3 7-1 6-3 3-4 0-7-4-7-2-4 0-11-4-3-3 0-5-3-2-4 2-1 5-3 3-7 3-4 3-3 0-1 1-15 0-2-1zM175 331l3 0 5 5 5 9 1 9-3 3-4 0-1 1-9-1-3-4 3-10 1-9zM70 291l-1 3-4 4-9 3-14 8-7 1-1 1-18 0-6-4-2-6 1-8 6-5 38 0 1-1 10 0 3 1zM189 286l6 1 4 2 2 3 0 10 6 8 0 2-6 5-5 0-3-3-1-7-2-4-6-7 0-6zM346 280l1 1 0 6-3 2-4-3 0-3 3-3zM179 263l0 4-5 5-12 7-3 4-5 4-19-1-1 1-11 1-1-1-25-1-1 1-13 1-2-2 0-2 13-12 3-1 8 0 9-8 3 1 2 3 5 4 3 0 1 1 8-1 6-7 13-12 4 1 6 5 9 0zM373 235l3-4 7 0 4 3 0 3-3 3-5 0-4-2zM345 223l3 3 0 7-4 4-8-2-3-3 5-5zM433 203l4-3 5 0 1 1 2-1 7 0 7 8 2 1 4 0 8-6 3 0 5 7 0 8-3 6 0 8-2 2-4 0-7-5-10-1-4-5-17-16z"/>
<path fill="#1c8b8f" d="M349 339l-2 1-2 4 0 9 1 0 3-6 0-3 1-1zM639 363l0-30-6 2-4 0-4 2-7 7-7 4-5 0-7-7-10 1-1 1 0 4 3 2 14 3 1 1 15 0 1 1 3-1 11 0 1 1 0 4-2 2-22 1 10 4 8-1 1-1zM0 0l0 285 16-1 1-1 50 0 1 1 4 0 13-6 4-5 5-4 9 0 2-1 7-8 6 1 3 4 5 4 7 0 2-1 18-19 3-1 4 1 6 4 5 0 6 2 7 8-1 5-6 6-11 5-12 11-8-1-1-1-11 0-6 2-7 0-7-2-19 0-1 1-4 0-1 1-11 2-11 8-11 4-21 11-4 0-1 1-12 0-4 2-1 2 2 7-1 6-5 4-6 7-2 1-1-1 0 91 20-1 3 1 3 5-1 1 0 11-4 3-11 0-2 1-2 4-4 4-2 0 0 155 639 0 0-247-16-1-14 6-7 0-6-3-8-8-4-6-2-7-13-8-9 6-8 3-1 1 0 3 4 7 0 9-4 8-1 5-5 8 0 7 3 3 3 1 10 10 3 6 15 5 1-1 13-1 23-8 7 0 1-1 7 0 1-1 2 0 2 2-5 3-20 2-16 7-13 1-1 1-6 0-1 1-12-4-3-2-4 0-1 2 2 7 11 13 0 7-7 10-2 7-6 5-15 0-2-1-1 1-5 0-4 2-4 5-3 8-3 2-7-1-5-5-3-6-5-3-13-1-1 1-24 1-1-1-5 0-9-7-3 4 0 3-2 5 0 13 8 11 4 8 3 3 2 4 0 4-1 1-9-1-8-4-5-4-9-11-5-10-4-4-4-2-10 0-3 1-2-2 1-7 3-4 2-1 13 0 5-2 5-4 1-3-2-4-3-1-3-3-1-3-9-3-18-2-2 2-1 5-3 4-10-1-2-1-26-28-2-1-3-5-1-7-8-13 0-7 5-5 0-7 3-6 0-4 1-1-1-1 0-4-7-7-4-2-17 0-1 1-15 0-2 1-5 5-1 4 7 14 0 3 1 1-3 4-5 2-12 0-7 3-9 8-3 7 0 7-4 7-1 8-4 4-5 0-13-7-12-2-1-1-5 0-1-1-12 1-12 6-20 0-4-3-1-3 5-12 0-7 2-3 4-1 1-3-1-1-9 0-3-3 0-21 2-5 3-3 11 4 1-1 3 0 6-4 8-1 3-2 0-5-2-4-3-2-19 0-1 1-5 0-2-3 1-6 5-11 1-9 4-6 3 0 9 10 7 17 9 4 1 2-1 13 5 5 5 2 3 0 8-4 10 8 8-3 12-1 2-5 4-3 4 1 1-2-3-2-5 0-4-4-4-7 0-6 2-7 6-7 5-2 9-1 1 1 8 1 13 6 4 0 6-3 5-1 7-4 5 0 1-1 7-1 9-5 1-2 8-7 2-5-1-1 0-3-3-4 0-9-1-2-9-8 0-2 7-8 11-7 2 3-3 9 0 10 3 3 6 3 6 8 8 5 0 4-7 7-4 7-4 4-1 13-1 1 0 4-2 6 0 12 1 1 0 5 8 10 0 4-4 4-4 2-10 1 0 8 5 11 9 9 7 2 12 9 7 1 10 4 4 0 6 2 16 1 1 1 7 0 1 1 18 0 17-8 15-12 4-6 17-17 6-8 2-6 0-4-1-1 1-7 5-9 1-5-2-4-3 0-4 4-3 5-9 8-11 0-9-3-9 0-8-6-5-6-3-6 0-6 3-2 4 0 5 2 14 0 10 7 7 0 9-8 0-8 3-3-18-10 1-3 3 0 18 9 3 0 4-4 0-3-6-2-1-3 1-1 5 0-3-13 1-3 4-3-7-7-8-6 0-2 1-1 4 1 11 10 5 1 7-12 5-17 0-5 1-1 0-14-3-3-5-2-13-2-1-1-7 2-6 0-2-2-3-7-5-4-2-4 0-9 1-1 0-3-1-1 0-15 1-2 5-4 19 0 8-5 6 0 8 6 10 0 1-1 8 1 3 2 5 6 2 1 8 0 6 3 0 4-5 6-9 0-4 2-1 4 3-2 3 3-5 7-1 13 9-6 2 0 1 3-14 11-1 8 3 7 1 10 8 1 16-8 2 0 2 2-2 2-2 0-2 2-12 6-10 1-1 9-4 13 0 4 1-1 10 0 15-10 2 2-15 12-4 0-9 3-1 4-3 3-3 1-4 5 0 5 3 3 5 2 7 0 2-1 4-6 4-3 11 0 4 2 5-1 9-12 1-9 1-1 0-6 2-5 3 1-2 19-1 3-7 9-2 5-2 1 2 1 6 0 1-1 4 0 4-3 2-9 3-2 1-3 0-6 2-5 3 1 0 5 1 1 0 6-1 2 5 0 1 1 13-1 0-315zM155 459l-1 3 1 8-1 2-4 3-4 0-1-1-31 1-1-1-7 0-3-3 0-3 2-3 1-11 3-3 3-1 5-6 5 0 5 2 8 0 5-4 2 0 1 1 1 7 3 3 4 1zM91 426l-1 3-7 5-3 0-2-2 0-1 7-6 3-1zM107 414l5 0 5 3-2 6-3 3-4 0-6-3 1-5zM186 284l4-1 1 1 13 1 3 3 0 4-2 5 0 5 5 7 0 3-4 4-7 3-5 0-2-2-2-9-2-4-6-7 0-8zM372 230l4-2 7 0 5 2 2 2 1 5-1 1 0 3-3 5 1 3-2 2-2-1 0-4-2-2-8-3-4-4 0-4zM329 231l3-3 6-3 5-5 5 1 3 5 0 6-2 5-2 2-4 0-4-2-6-1-4-3zM430 201l3-3 14 0 1-1 3 0 10 9 5 0 7-5 4-1 3 3 3 8 0 6-3 9 0 3 1 1-1 4-5 3-12-6-9 0-5-6-19-18z"/>
<path fill="#1e928e" d="M188 365l-2-2-3 0-1-1-8 1-4 3-1 6 3 3 4 1 10-6 2-3zM349 343l-1 0-1 4zM639 362l0-27-10 1-4 2-8 8-6 3-6 0-7-8-8 1-1 2 0 3 5 3 8 1 5 2 19 0 1-1 1 1 8 0 2 3-3 4-19 1 5 2zM0 0l0 279 72 0 1-1 4 0 6-2 5-7 5-3 9 0 2-1 3-5 4-3 6 0 2 1 7 8 7 0 12-11 3-6 4-3 8 0 5 2 10 1 2 1 12 13-5 9-4 4-6 1-6 3-13 12-4 0-5-2-13 0-5 2-7 0-5-2-23 0-14 5-18 10-5 1-23 14-10 1-3 5 0 11-4 4-3 1-8 9-5 1 0 77 3 0 1-1 18 0 4 2 6 7 0 9-1 1 0 8-1 2-4 3-11 1-10 9-5 0 0 149 639 0 0-245-15-1-14 5-9 0-6-3-11-12-3-10-11-7-15 8-2 2 0 2 4 7 0 9-5 12 0 3-2 5 0 8 13 13 5 8 7 3 12 0 1-1 5 0 9-4 14-4 7 0 1-1 7 0 1-1 2 0 2 2-5 3-15 1-21 8-13 1-2 2-7 0-6-3-4 2-3 0 1 5 7 10 1 8-1 1 0 3-6 9-3 7-3 3-5 2-9 0-1-1-9 0-3 1-4 3-3 5-1 4-4 4-3 1-8-2-4-4-2-5-6-5-3 0-1-1-39 1-6-4-4-1-3 7 0 8-1 1 1 6 29 41 3 2 1 2-3 4-4 0-19-17-13-7-8-8-7-13-5-5-5-2-4 0-10 3-3-2 3-13 4-5 3-1 13 0 3-2 0-3-7-6 0-6-1-1-7-2-10 0-1 1 0 10-1 2-3 2-6-1-13-6-4-6-3-3-7-4-16-18-2-10-7-9-2-11 1-3 3-3 4-1 0-4 4-10 0-5-7-8-4-2-10-1-1 1-4 0-6 2-10 0-5 4 0 7 3 6 0 2 5 8-3 4-5 2-4 0-1 1-13 0-6 4-7 8 0 9-6 9 0 4-2 6-6 4-6-1-10-7-10-2-1-1-5 0-1-1-16 1-13 7-19 0-3-1-4-4 0-5 4-8 0-7-2-4-5-3-4 0-3 4-3 2-2 0-2-2 0-3 2-2 5-2 2-7 3-2 3-4 0-11 1-1 0-5 2-6 0-6-1-1 1-12 7-8 2-4 3-15 4-5 6 3 9 8 3 12 3 4 8 1 4 3 2 3 0 8-2 6 1 1 0 3 2 2 5 1 4-5 0-6 3-2 3 0 3 2 2 11 3 3 5 0 6-2 5-4 0-6-3-6 1-13 3-8 5-5 5-2 15 0 16 5 7 0 10-4 7-5 10 0 1-1 3 0 4-2 4-5 5-4 1-6-4-6-1-9-3-3-3 0-5 5-3 0-3-3-3-6-1-8 2-2 11 0 4-2 11-10 2-3 0-2 4-3 7 6 0 6-5 10 0 7 10 9 4 6 6 3 5 5 0 2-10 9-3 7-6 5-2 7 0 6-2 5 1 1-1 2 0 5 4 5 1 9 1 2 7 6 1 2 0 5-6 4-14 4-3 3 0 4 3 7 10 11 6 2 9 7 23 8 11 1 1 1 7 0 1 1 7 0 1 1 11 0 2 1 1-1 11 0 16-8 17-15 22-25 2-4-1-14 2-6 5-7 0-2-3-1-5 8-8 6-11 1-1-1-6 0-1-1-11 0-6-3-9-9-5-9-1-6 2-3 5-1 1 1 4 0 6 2 12 0 9 5 5 0 5-4 2-10 3-3 2 0-4-3-11-5-1-3 1-1 3 0 16 8 4 0 3-3 1-3-3-2-2 0-1-3 3-2 2 0-3-9 0-6 4-5-5-5-8-6 0-2 3-1 12 10 4 2 9-16 4-12 0-4 1-1 0-15-2-3-4-2-8-1-1-1-10 0-5 3-9 3-7 5-3 0-3-5 0-6 1-1 10-1 0-5-7-7-2-7-2 6 0 12-2 2-8-1-11-5-10 0-5-4-1-3-5-4-8-9-6-4-1-8 1-2 4-3 20-1 3 1 5 6 3 2 4 0 9-7 4 0 5 7 2 8 0-18 1-1 0-3 5-4 21 0 10-5 6 0 7 5 19 0 3 1 7 8 16 2 3 3 0 2-5 7-5 4-9 1-1 1 2 2 0 2-3 4 0 11-1 2 2 0 5-4 2 0 1 3-12 10 0 9 3 8 0 9 6 1 15-8 3 0 2 2-2 2-16 8-8 1-1 12-2 5 0 8 3 0 1-1 3 1 14-10 2 0 1 3-15 11-4 0-2 2-4 0-1 4-4 4-7 4-1 6 2 3 4 2 7 0 11-10 9 0 9 3 4-3 4-7 3-3 1-9 1-1 0-6 2-5 3 1-1 12-1 1 1 5-1 3-4 4-5 8-1 3 3 2 7-1 4-3 1-2 0-9 6-3 0-9 2-2 2 0 2 3 0 10 1 1 17 0 0-314zM69 433l15-14 12-2 2-2 1-4 3-3 3 0 1-1 15 0 1 1 3 0 3 3 0 4-6 8-2 7 1 5 4 4 8 0 10-7 2 0 4 3 1 2 0 8 2 3 7 5 2 5 0 3-1 1 1 11-1 3-4 4-3 0-1 1-19 0-1-1-6 0-6 2-9-5-6-1-4-2-2-2 0-2 3-6 0-10 1-3 5-7 0-9-1-2-3-2-7 0-9 5-14 5-5 0-1-1 0-5zM312 403l4 0 2 2 0 3-2 2-4 0-2-2 0-3zM133 391l5-4 4 0 5 4 1 2 0 5-2 2-5 0-1 1-1-1-3 0-3-3zM387 348l2 0 2 2 0 4-2 2-4 0-2-3zM184 281l3-1 6 2 14 0 4 3 1 5-2 7 0 6 4 7-5 6-14 6-2 0-2-2-3-12-5-6-3-6 1-10zM388 226l2 1 3 4-1 21-3 3-11 3-2 4-3 2-1-2 5-6 1-9-1-2-10-5-1-2 1-7 6-5zM342 217l6 0 5 6 0 13-2 5-3 2-10-5-7-1-5-4 0-3 4-4 4-1 5-6z"/>
<path fill="#1e998a" d="M132 489l0 1 5 2 9-2-1-1zM0 482l2 0 2-2-1-1-3 0zM397 457l-1 1 1 13 6 0-1-6 2-4 0-3zM125 432l1 2 2 1 5 0 4-2 4-4 5-1 4 4 5 1 4-5 1-8-3-4-3-1-10 7-10-7-7 6-2 4zM303 408l-2-3-9 3-15-2-4 2-7 8 0 5 1 2 5 1 4-3 3-5 7-3 15 0 2-2zM330 370l-4-2-10 0-13 5-5 0-2 1-2 3 1 7 10 14 5 2 11 0 4-3 8-3 4-9 0-5 1-1zM180 366l-4 0-2 2 0 3 4 0 2-2zM639 361l0-25-6 0-6 2-10 9-6 3-7 0-7-8-5 0-2 3 0 2 2 2 14 3 1 1 19 0 1-1 7 0 2 1 2 3-3 4-15 1 2 1zM0 355l0 50 4 2 0 7-1 2-3 2 0 2 11 4 12-2 10 10 2 5 0 25-3 3-5 2-3 4-8 7-1 3-4 4-3 1-2 4-4 4-2 0 0 125 639 0 0-244-16 0-12 4-11 0-4-2-13-13-3-8 0-3-8-6-3 0-13 9 0 4 3 6 0 7-4 9-1 12-1 1 1 8 12 13 4 6 5 4 5 0 1-1 6 1 1-1 5 0 9-4 5-1 3-2 4 0 1-1 20-2 1 3-4 2-20 2-17 7-5 0-4 2-5 0-1 1-10-1-4 4 0 3 4 8 0 10-1 1 0 3-8 14-4 4-8 3-6 0-6-2-8 2-3 3-5 10-4 3-6 0-8-3-3-3-2-6-4-4-3-1-40 1-7-4-3 0-3 6 0 11 18 27 9 10 2 4 5 4 0 4-4 4-5-1-17-15-6-4-11-5-6-6-4-6-1-4-3-5-6-4-8 0-4 2-8 0-3-3 0-2 5-8 0-6 1-1-2-4-7-1-15-7-10-11-8-4-4-4-4-7-8-8-2-6-3-3-2 0-3-2-2-3 0-2-2-2-13 1-2 3 0 2-5 4-11-1-6 10-13-1-1 1-9 1-4 8-9 6-4 0-16-10-3 0-5-2-6 0-1-1-7 0-1 1-8 1-4 2-12 10-7-3-9 0-1 1 5 7 4 0 5-3 3 1 0 2-6 7-7 3-1 2 0 5-1 1 1 8 2 2 2 0 4 4 0 9 2 3 0 3-2 2-5 0-1 1-19 0-1-1-10 0-3-1-6-7-3-7-4 0-4-2-3-4-6-5-10-3-3-3 0-2 4-8 0-10 4-9 0-5-3-3-5 0-11 4-14 7-6-3-1-2 0-5 4-7 16-15 6-2 6-7 3 0 1-1 26 0 3-1 1-3 0-9 1-3 4-4 9-2 7 4 1-1 0-10-1-2-3 0-2-2 0-2 5-3 2-4 0-3 1-1 0-10 3-3 5-1 3-2 2-4 1-9 2-6 5-6 2 0 7 6 2 0 2-2-1-11-7-9-2-7 1-2 0-6 1-1 0-2-2-3-6 0-2 1-14 13-5 0-7-3-9 0-10 4-12-4-17 0-7 2-26 13-9 3-12 8-6 6-8 16-5 5-6 1-4 2-6 6zM0 268l0 3 5-1-1-2zM128 255l-2 1-1 2 1 3 4 2 3-2 1-5zM369 218l1 2 2 1 5 0 1 1 6-1 2-2-2-3-13 0zM361 215l-3 1 0 9-1 1 1 12 3-2 2-5 0-13zM400 213l-5 2-2 3 0 5 2 6 0 14-1 1 1 5-1 1 0 3-4 4-6 1-9 8-6 1-3-2 8-10 0-3 1-1-1-4-3-2-10-2-2-2-3 2-2 4 1 10 2 3 7 6-7 14 0 6 13 16 8 4 5 5 0 3-7 4-5 5-2 10-5 3-4 1-2 13-1 1 0 6 7 7 3 8 4 2 4 4 1 12-3 3-3 1-5 0-4 2-7 1-5 4-1 3 3 7 3 2 8 9 5 2 11 8 10 2 9 4 3 0 5 2 6 0 1 1 10 0 1 1 29 0 11-5 16-12 4-4 2-4 17-17 5-8 0-5-1-1-1-7-2-3-5 0-1 1-15 0-1-1-14 0-4-2-13-14-5-11 0-5 2-2 9 0 5 2 12 0 1 1 4 0 6 3 6 0 4-5 1-6 5-4-3-3-10-5 1-3 3 0 11 6 6 2 4-3 1-3-4-3 0-2 2-2 2 0-3-9 0-8 4-3-4-5-8-6 0-2 3-1 12 10 3 1 10-18 3-9 0-3 1-1 0-16-1-2-7-3-14-1-9 5-6 2-5 4-6 2-4-4-1-7-4-3-8-2-6-3-25-1-3-3 0-11-3-4-4-2-5 0-1-1zM392 335l3 3 0 14-2 5-6 3-3-1-4-5 1-5 3-5-1-7 3-2zM382 188l-2-1-2 1 0 1 2 1 2-1zM8 129l0 1 4 0-1-2zM46 80l0 2 3 0 0-2zM39 60l-2 0-1 2 1 12 3-2 1-3 0-6zM53 48l1 2 5 2 4-1 1-4-2-2-4 0zM10 39l0 2 4 2 8-1 2-2 0-2-2-1-9 0zM3 57l0 19-1 1 0 3-2 1 0 18 2 0 1-2 0-11 2-2 5 0 2 1 2 3-1 12 3 5 2 1 6 0 4-2 3 0 2 2 0 6-3 3-5 1-2 3 1 2-1 10 3 2 3 0 4 2 3 6 2 2 5 2 3 3 1 4-2 2-8 0-3-3-1-5-10-3-19 0-1 1-3 0 0 41 5 0 2 2-3 7 0 5-1 2-3 2 0 53 3 0 2 2 1 4 3 4 9 0 1-1 14 1 1 1 23 0 7-2 13 0 1 1 4 0 10-4 6-7 8 0 7-3 1-3 4-4 5 0 1 1 17 0 3-2 26 0 3-2 3 0 2 2 7 2 17-1 4 5-2 5 1 5-3 4-5 0-7 4-3 4 0 4 2 2 5 2 11 0 7-2 3 4 0 4 1 1 0 14 1 2 6 2 2 2 0 3-3 3-7 1-17 8-4 4 0 10 1 1 0 3 3 4 8 2 7 7 3 6 2 1 8 0 4 2 4 4 0 5 2 4 5 0 2-1 3-4-2-6 0-10 2-3 2-9 2-4 5-5 7-2 11 0 1 1 5 0 5 2 19 0 14-10 3-1 9 1 4-2 5-7 0-2-2-2-7 0-7-9-8-20 1-6 12-10 10 0 5-2 2-3 1-8 1-1-1-7-5-5-6-2-6 0-4-4 0-7 2-5 0-4-1-1 0-16-1-1 1-3 5-4 7-8 10 0 1 1 12-1 2-1 2-6 4-3 14 0 3 3 1 3 9 8 1 5 4 2 23 0 5-2 19 0 1-1 6 1 8 8 5 0 7-7 7-2 3-5 4-4 25 0 9-4 11-1 6-4 3 1 8-1 3 2 1 3 3 3 5 2 9 0 7 8 3 1 11 0 2 1 5 5 1 2-1 3-6 0-1-1-7 1-9 9-5 2-3 0-3 4 0 14 6-2 1 3-4 3-7 8 4 14 1 11 5 0 13-7 4 0 1 1-1 3-2 0-17 9-4 0-1 14-1 1 0 9 3 0 1 1 14-10 2 0 1 3-15 11-8 2-2 6-2 2-7 3-3 3 0 4 5 4 7 0 8-9 3-1 7 0 1 1 4 0 7 2 10-12 1-9 1-1 0-6 2-5 3 1-1 12-1 1 1 1 0 5-1 3-3 2-4 6-2 6 6 1 5-2 2-5-1-1 0-7 4-3 4 0 0-8 3-3 3 3 0 10 3 1 15 0 0-313-485 0 0 2-2 3-4 2-7 8-5 2-2 5 0 13 1 1 0 4-3 4-6 0-2-2-2-6-4-2-17 0-4 2-4 0-3-2-11 0-5 3 0 14 1 2 4 2 7 0 1 3-3 6-1 9-5 4-6 8-4 1-3 3-1 8-1 1-2 0-2-2-10-4-3 0-7 3-4-3 1-16-4 0-6-3-1-2 0-5 1-1 0-8-1-2-4-2-14 0-2 1zM162 206l1-1 13 0 2 3-5 6-5 1-4-3zM150 196l1-1 2 1 4 5-2 1zM61 183l3-6 0-8 4-5 5 0 5 2 15-1 7 9 4 0 1 1 16 0 1-1 7 0 3-2 3 0 7 3 3 4-1 6-2 2-7-3-5 0-1-1-10 1-4 3-2 6-3 2-5 0-1-1-1 1-5 0-2-1-5-7-3-2-10-1-1-1-5 0-1 1-9 0zM0 0l0 16 3 0 2 2 1 5 2 2 3 0 1 1 20 0 2-8 3-3 6 0 3 3-3 7 0 6 1 2 3 2 16 1 1-1 6 0 2-1 3-7 2-2 5-2 2-3 0-2 4-4 3 0 4 4 1 4 4 3 20 0 3-2 2-5 0-18z"/>
<path fill="#1ca080" d="M156 419l-4 0-3 4 0 4 4 3 1 0 4-5 0-3zM137 420l-4-1-3 2-2 4 0 4 2 2 5 0 3-2 2-3 0-2zM337 379l-9-9-10-1-20 10 0 6 2 3 10 9 10 0 5-3 8-1 3-7zM591 347l2 2 9 2-5-8-4 0zM639 337l-9 1-6 3-10 9-7 2 2 1 25-1 4 3-1 4-1 1-7 0-1 1 2-1 9 0zM0 357l0 43 4 0 4 4 1 2 0 9 3 4 6-1 6-7 3 0 2 2 1 3 0 8 4 5 3 7 0 13 3 9-1 7-4 4-4 2-3 5-4 3-19 20-5 0 0 120 639 0 0-243-13 0-14 4-13 0-4-2-12-12-3-6-2-9-5-3-5 1-9 6-1 2 0 3 3 7 0 5-5 13 0 17 2 4 9 9 9 11 3 0 1-1 5 0 1 1 2-1 5 0 9-4 5-1 3-2 20-2 1-1 4 0 1 3-4 2-20 2-3 2-5 1-9 4-5 0-2 2-15 1-3 4 0 5 2 5-2 16-6 11-6 6-6 3-8 1-5-2-6 0-4 2-4 7 0 2-7 6-8 0-9-3-3-3-1-6-6-5-11-1-1 1-12 0-1 1-14 0-7-3-4 0-2 3 0 8-1 1 3 7 7 8 5 9 21 24 1 4-5 4-7 0-21-18-16-7-8-9 0-2-4-8-4-3-9 0-6 2-6 0-5-4 0-5 5-6 0-3 1-1-1-4-4-3-5-1-12-6-10-11-10-5-4-4-5-9-6-5-2-4-4-4-5-2-6-5-5 1-6 7-4 2-7 0-11 9-7-2-9 1-4 2-8 7-9 4-7-2-7-6-8-4-18-2-1 1-5 0-5 2-6 7 0 6-1 2-13 12-5 6 2 6 6 5-1 10 3 6 5 4-2 3-10 0-9 3-18 0-8-3-3 0-4-2-15-15-3-6-5-5-9-2-4-2-3-4 5-7 3-23-2-2-6 0-6 3-2 0-8 6-4 1-6-2-4-5 1-10 21-23 3-1 5-4 4-2 25 0 5-3 3-13 10-9 1-3 0-9 1-2 5-3 4-5 0-10 1-2 3-2 7 0 3-2 2-4 0-5 2-7 3-6 4-4 3 0 5 5 2 0 1-2-1-5-5-6-3-7 0-15-2-1-6 2-9 10-5 3-15-5-9 2-4 3-5 0-2-2-5-2-21 0-3 1-9 6-8 2-21 10-13 11-1 3 0 8-3 4-8 7-10 3-12 8zM358 248l-1 2 0 6 1 2 4 3 6-1 4-6 0-4-3-3-9 0zM406 216l-6 2-3 4-1 30-2 4-5 3-6 1-9 8-9 2-5 8 0 8 4 4 4 7 5 5 10 5 4 5 0 2-2 2-9 4-3 4 0 5 2 2 6 2 9-1 1-1 4 0 3 2 2 8-1 1-3 15-4 4-2 1-5 0-4-2-3-4 0-5 2-7-3-4-4-2-13 1-1 8-1 1 0 7 21 20 1 6-1 1 1 2 0 7-1 2-3 2-13 1-10 3-3 3 0 5 13 14 6 3 7 6 4 2 5 0 11 5 7 2 5 0 1 1 7 0 1 1 35 0 12-5 13-10 25-27 4-6 0-5-3-7-4-3-32 0-4-2-14-15-6-12 0-6 2-3 7 0 9 3 12 0 1 1 5 0 4 2 5 0 3-3 2-7 5-4-3-3-8-4 1-3 3 0 9 5 6 2 5-3 1-3-3-2 0-2 3-2-2-5-2-14 2-2 3 0-2-3-9-7 0-2 3-1 13 10 2-1 3-7 4-5 5-12 0-3 1-1 0-17-3-3-6-1-1-1-10 0-16 8-5 4-4 2-3 0-4-4-1-6-4-5-12-4-27 0-2-1-3-4 0-10-3-4-2-1-5 0-1-1zM11 57l-3 2-2 5 0 11 1 3 3 3 3 1 3 4 0 9 2 5 3 2 5 0 6-4 1-3 0-10-2-5-5-3-3-4 0-10-1-3-4-3zM82 37l-4 3-1 2 0 5 3 4 5 1 6-4 1-6-3-4zM0 146l0 36 11 0 1 1 9-1 3 2-2 3-7 0-4 2-4 5-2 10-2 2-3 0 0 46 4 1 6 7 4 2 10 0 1 1 8 0 1 1 19 0 1-1 7 0 1-1 23 0 4-2 7-8 9 0 3-1 4-5 5-4 16 1 6-2 4-6 0-8 5-4 4 0 1 1 0 3-6 7 0 4 5 4 5 0 1 1 8-1 9-7 8 7 4 0 1 1 3 0 1-1 11 0 3 1 4 4 0 16-1 1 0 3-1 1-11 0-3 1-3 3 0 4 4 2 8 0 4-2 3-5 3 0 3 3 2 5 1 8 1 1 0 8 1 2 7 6 1 4-1 3-4 4-9 1-11 4-5 3-3 4 0 7 3 7 10 4 10 11 15 5 5-1 6-11 3-12 2-3 5-4 21 0 6 2 20-1 5-2 13-12 1-9-4-14-5-11 1-10 11-12 13 1 5-4 1-3 0-10-2-3-7-3-9 0-3-4 0-39 12-13 2-1 19 0 3-1 3-4 6-5 14 0 3 1 18 19 4 0 1 1 8 0 1-1 37 0 11 9 3-1 7-7 4-2 8-9 27 0 8-3 7-1 9-6 16 0 8 9 3 1 9 0 8 9 3 1 9 0 11 9 1 4-4 3-15-1-10 9-6 2-3 5 0 10 3-2 2 2 0 2-9 8 0 6 4 12 1 10 5-1 11-6 4 0 1 1-1 3-2 0-14 7-2 2-3 0-1 11-1 1 0 12 5-1 11-8 2 0 1 3-15 11-6 2-2 6-3 3-9 4-1 5 4 3 6 0 3-2 1-3 4-4 3 0 1-1 15 2 4 2 9-11 2-10 1-1 0-6 2-5 3 1-1 19-1 3-7 8 0 2-2 3 6 1 5-3-1-11 4-4 6-1 0-7 3-2 3 3 0 8 1 1 3 0 1 1 13 0 0-312-482 0-2 6-16 14-2 4 0 18-4 4-6 1-2-1-7-8-3-1-12 0-5 4-2 4-1 9-7 8-2 6 0 4-2 4-10 11-5 3-2 5 0 7-2 2-2 0-6-6-7-3-9 1-5 4-1 2 0 11-1 2-6 5-1 6 1 2 5 4 8 9 3 1 9 10 1 3-2 2-15 0-2-1-7-8-4-2-5 0-1-1zM54 184l1-2 5-4 2-4 0-8 3-4 11 0 1 1 12 0 3-1 4 2 5 6 5 2 18 0 10-6 6 6 3 1 4 4 1 10 13 13 3 2 18 0 2 2 0 2-10 10-2 1-6 0-3-2-3-5-14-12-9-10-4-2-12 0-4 3-1 4-4 4-16 0-11-10-3 0-1-1-11 0-6 2-6 0-2-1zM375 153l4-2 3 1 14 0 1-1 3 0 4 2 0 3-3 2-4 0-1-1-19 0-2-2zM0 0l0 13 4 0 7 8 6 2 5 0 6-2 3-4 6-5 8 0 1 1 15-1 2 2-1 2-9 0-4 3-2 4 1 6 3 3 3 0 1 1 9 0 5-2 3-5 15-14 5 0 2 1 7 8 7 2 8-1 4-2 2-4 0-16z"/>
<path fill="#1ca778" d="M155 423l-2 0 1 3zM133 423l-1 1 0 3 3 0 1-3zM336 379l-11-9-6 0-5 2-9 6-3 3-1 3 3 5 8 6 7 0 3-2 11-2 3-6zM594 344l-1 1 0 3 5 2-1-5zM639 339l-8 0-7 3-8 8-4 2 1 1 22-1 3 3 0 3-1 1 2 0zM603 314l-6 8-1 3 5 1 4-3zM0 358l0 38 3 0 7 5 3 5 1 6 2 0 5-5 3-1 5 0 3 2 1 2 0 13 5 9 1 16 4 10 0 6-2 6-5 3-4 5-19 18-1 3-5 4-7 0 0 116 639 0 0-241-17 0-10 3-14 0-5-3-10-10-3-5-2-9-2-4-2-1-3 0-7 4-4 5 3 13-5 12 0 20 1 2 19 21 2-1 13 0 9-4 5-1 3-2 4 0 1-1 20-2 1 3-4 2-20 2-3 2-5 1-12 5-10 1-5 3-3 3 0 10-2 6-1 13-3 6-10 9-10 4-5 0-7-3-4 1-3 3-2 6-5 5-6 3-1-1-10-1-7-3-2-2 0-4-2-5-7-3-12 0-1 1-11 0-1 1-10 0-9-3-2 1-2 3 0 8 2 4 7 8 1 3 7 10 9 8 12 13 2 6-3 4-3-1-9 1-22-18-19-8-5-4-4-7-1-4-5-4-9 1-1 1-10 0-2-1-4-5 0-6 4-4 2-4-1-5-2-2-7-2-11-6-10-11-12-6-3-3-3-7-13-14-11-5-3 1-9 8-9 1-8 7-6 0-5-2-6 1-20 12-9-1-11-9-9-3-14-1-10 3-3 3-1 10-3 5-14 13 0 5 6 6-1 13 5 5 4 2 2 3 0 2-3 2-13-1-7 2-3 2-20 0-17-7-13-13-3-6 0-2-5-5-18-5-2-3 0-2 6-5 2-3 1-18-3-2-5 1-5 3-5 6-8-1-4-2-6-7 1-10 4-7 8-7 3-5 0-2 4-4 2 0 14-7 17 1 1-1 8-1 2-2 2-7 0-4 10-11 0-11 2-5 8-5 0-3 1-1-1-2 0-5 1-3 3-3 7 0 2 1 4-2 1-2 0-5 5-10 0-2 3-5 5-5 0-4-2-6 0-11-1-1-4 1-15 14-12-6-10 1-7 5-3 0-7-5-3 0-1-1-14 0-1 1-4 0-11 8-8 1-19 9-3 4-9 8 0 8-3 5-8 7-8 4-5 1-13 8zM195 274l1 1 6 0 1-2-1-1-5 0zM360 250l-1 6 3 3 4 0 4-4 0-4-2-2-6 0zM406 218l-5 2-2 3 0 3-1 1 0 20-1 1 0 6-4 5-9 2-6 6-6 3-5 1-3 3-2 5 0 5 5 7 2 5 7 6 9 4 6 7 0 3-1 1-12 4-3 4 1 3 3 2 10 0 5-3 5 0 4 5 0 12-3 5-4 12-4 3-7 1-6-3-3-4 0-10 1-1-3-5-3-1-10 0-1 1-1 10 16 15 3 1 4 4 1 2 0 14 1 2-1 3-3 3-3 1-11 0-1 1-9 1-4 3-1 4 13 14 8 4 5 5 13 3 8 5 7 2 6 0 1 1 18 0 1 1 21-1 11-4 15-11 11-13 12-12 4-6 0-5-4-8-4-2-17 0-1 1-8 1-8-3-13-13-9-16 0-8 2-3 3-1 15 5 12 0 7 2 7 0 3-3 0-2 3-6 4-2-10-6 1-3 3 0 12 6 4 0 4-5-1 0-2-3 1-2 2-1-1-1-2-12-4-8 0-2 1-1 6 1-10-9 2-2 2 0 12 9 3-2 3-7 4-5 4-10 0-3 1-1 0-16-2-3-5-2-11 0-12 6-10 7-7 2-5-4-2-9-3-3-9-3-30 0-5-4-1-3 0-9-2-3-6-2zM443 423l2-2 6 0 2 1 3 4-6 2-5-2zM13 59l-2 1-3 4 0 11 3 4 3 1 4 5 0 10 3 4 4 1 4-2 2-4 0-9-2-4-7-5-1-3 0-9-4-5zM87 40l-3-1-4 2-1 5 2 3 5 0 3-3 0-4zM0 148l0 32 24 0 4 4-1 3-3 2-12 2-4 6 0 4-2 5-2 2-4 1 0 41 3 0 4 2 1 2 7 6 8 0 1 1 6 0 1 1 24 0 7-2 22 0 2-1 7-8 14-2 6-7 4-2 8 0 1 1 10-1 4-5 1-9 3-3 5-2 6 0 2 2 0 2-7 8 0 4 2 3 3 1 8 0 4-2 5-6 4 0 8 7 3 0 1 1 3 0 1-1 13 0 3 1 5 4 1 3-1 15 10 22 0 8 1 3 8 8 0 2-3 7-3 3-13 2-12 5-3 4 0 7 1 3 3 3 9 4 9 10 4 2 12 1 5-5 3-5 3-13 6-6 37 2 4-2 8 0 3-1 10-9 2-3 0-11-1-1-1-9-5-11 0-8 2-6 11-11 5 0 4 2 4 0 4-3 2-5 0-6-3-4-5-2-10 1-3-3-1-3 0-40 13-14 2-1 19 0 12-10 15 0 1 1 3 0 6 7 13 12 3 0 1 1 6 0 1-1 20 0 1 1 16-1 3 1 8 8 3 0 10-9 9-10 30 0 1-1 4 0 7-2 10-7 17 0 4 3 3 5 4 2 9 0 11 10 9 0 2 1 11 10 1 2-1 4-5 3-16-1-10 9-3 1-4 5 0 7 4 3-8 8-1 3 5 18 0 8 6-2 9-5 4 0 1 1-1 3-2 0-18 10-1 13-1 1 1 9 3-1 11-8 2 0 1 3-16 12-2 0-4 9-3 3-3 0-5 2-2 2 0 2 4 3 4 0 3-2 2-5 5-3 11 1 1 1 4 0 7 2 8-10 1-9 4-13 3 1 0 11-1 1 0 7-1 2 5-5 6-1 0-5 2-2 2 0 2 2 0 7 3 2 15 0 0-310-480 0-1 5-16 15-3 5 0 18-4 4-3 1-8 0-6-7-4-2-10 0-5 5-3 12-6 6-4 14-16 17-1 10-2 3-4 1-8-8-4-2-8 0-6 5 0 10-1 3-6 7 0 5 11 11 5 2 3 3 1 3 8 9 0 3-1 1-21 0-2-1-8-9-6-2zM51 184l1-2 6-5 2-4 0-11 2-2 33 1 8 8 3 0 1 1 16 0 3-1 4-4 5-1 5 6 6 3 3 3 1 10 2 3 11 10 2 1 19 0 3 3 0 4-13 11-8 1-3-1-3-3-1-3-16-14-8-9-5-2-7 0-2 1-8 11-17 0-10-9-4-2-13 0-5 2-8 0-4-3zM371 153l3-3 3-1 10 0 1 1 1-1 12 0 3 1 3 3 0 4-5 3-27-1-4-4zM0 0l0 11 4 0 8 8 5 2 5 0 5-2 7-8 3-1 26 0 4 5-2 3-11 1-4 3 0 6 5 3 9 0 2-1 8-10 3-1 10-9 6 0 2 1 7 8 5 2 8-1 2-1 3-4 0-15z"/>
<path fill="#1aae6e" d="M91 448l-3 1 0 3 1 1 2-1zM336 381l-8-8-4-2-3 0-7 3-9 8 0 4 2 3 5 4 7 0 4-2 10-1 2-3zM360 345l0 4 4 4 5 3 3-1 1-8-2-2zM639 340l-11 1-5 3-9 8 1 1 20-1 3 3 0 4 1 0zM551 323l0 2 2 2 3 0 2-1 1-2-1-3-4 0zM392 322l-4-2-6 1-4 3 0 2 2 2 3 0 1 1 1-1 3 0 3-2zM602 315l-5 7 0 2 5 0 1-1zM0 360l0 33 6 1 10 9 15-1 2 1 4 5-1 15 4 9 0 11 2 7 3 5 0 13 1 1-1 5-27 26-4 6-3 1-11 0 0 112 639 0 0-240-15 0-1 1-5 0-6 2-15 0-5-3-12-13-2-5-1-7-1-2-3-2-4 1-4 3-2 3 0 6 1 1 1 7-6 15 0 13 1 1 0 3 8 9 3 5 9 8 8 0 1-1 4 1 9-4 5-1 3-2 4 0 1-1 20-2 1 3-4 2-20 2-3 2-13 4-2 2-10 1 1 1 0 3-7 6-3 6 0 3-2 5 0 7-1 1 0 7-1 2-11 10-9 4-2 4-5 4-3-1 0-6-2-2-4-1-4 3-1 6-10 7-7 1-18-5-2-2 0-8-1-2-5-2-16 0-1 1-9 0-1 1-7 0-1-1-9-1-2 1-1 2 1 9 9 11 5 9 9 9 8 6 8 11 1 5-6 8 4 12 4 24 9 18 0 2-3 3-2 0-4-4-10-18-1-8-1-1 0-5-1-1 0-7-6-18-16-15-14-8-13-4-10-6-19 0-1-1-4 0-3-3 0-7-4-7 0-5 5-6 1-6-3-3-4-1-13-7-11-12-10-4-5-5-3-7-7-8-8-6-9-1-7 7-5 2-6 0-9 7-3 0-8-3-6 1-16 10-6 2-9-3-11-9-6-2-16-1-8 3-3 5 0 8-2 4-13 12-1 4 6 7 0 5-2 3 0 5 1 2 8 5 12 12-2 3-4 0-7-4-7-2-8 0-10 5-21 0-6-4-10-3-3-2-9-9-8-16-7-3-11-1-3-1-3-3-1-3 0-10-3-3-14-7-6-5-2-5 2-12 2-4 9-9 2-8 3-3 7-1 14-6 18 1 1-1 3 0 4-4 1-10 9-10 0-3 1-1-1-3 0-10 2-3 5-2 3-4 0-11 5-5 6-3 5 0 7-8 8-16 0-6-1-1-1-7-4 1-11 10-5 0-8-6-9 0-10 8-3-1-5-5-4-2-16 0-1 1-3 0-9 8-9 1-17 7-3 4-1 6-7 6 0 3-2 4-11 10-5 3-10 3-14 8zM231 514l2 2 0 2-8 7-3-1-4-5 0-2 2-2zM363 251l-2 2 0 2 2 2 3 0 2-4-2-2zM406 220l-3 1-3 5-1 24-3 8-4 3-3 0-5 2-7 6-10 4-2 3-1 6 7 14 6 5 4 1 7 4 7 7 2 5 3 3 4 2 13 0 2-1 3 1 1 3-8 9-5 2-2 2-1 4-7 12 0 3-2 4-5 5-6 2-1 3 0 14 1 1-1 7-5 4-24 2-4 3 0 4 9 10 11 5 5 5 5 2 7 1 7 5 7 3 13 1 1 1 23 0 1-1 15-1 7-3 13-10 7-7 6-8 4-3 7-8 3-5 0-4-2-5-6-5-15 0-7 3-4 0-7-3-14-14-10-17 0-10 1-2 4-3 10 5 7 2 10 0 1 1 10 0 1 1 3-1 3-3 2-6 4-3-8-5 1-3 3 0 13 6 5-4-1-5 2-2-1-1-2-12-6-10 0-3 2-2 3 1-2-1-3-4 3-3 12 9 3-2 8-13 4-11 0-17-5-4-11 0-26 15-6 0-4-4-2-9-3-3-6-2-5 0-1-1-7 0-1 1-18 0-3-1-4-4 0-9-2-5-4-2zM440 422l2-3 8 0 8 4 2 3-3 3-5 1-7-2zM0 150l0 28 25 0 2 1 3 4 0 4-3 3-13 2-4 4-1 7-2 4-3 3-4 0 0 38 6 1 10 9 11 1 1 1 7 0 1 1 3 0 1-1 18 0 6-2 19 0 2-1 6-7 5-2 8 0 9-8 4-2 7 0 1 1 8 0 5-4 1-9 4-4 5-2 7-1 2-1 1-2-2-5-12-10-10-11-6-2-6 1-3 3-3 7-3 2-16 0-5-2-7-8-5-2-9 0-10 3-7-1-5-4 0-5 6-5 3-4 0-8-2-3-3 0-1-1-16 0-3-1-4-4-2-4-5-3-3 0-1-1-7 0-6 2zM13 61l-3 3-1 3 1 8 3 3 4 1 2 2 1 14 2 2 5 0 3-7-1-5-3-4-2 0-4-3 0-11-1-3-3-3zM83 42l-1 1 0 3 3 1 1-1 0-3zM52 27l3 2 9 0 3-3 1-4-5-2-6 0-5 3zM32 122l0 5 11 10 5 0 5-5 4 0 2 2-1 3-6 5 0 3 10 12 2 1 10 0 6 2 14-1 4 2 4 5 4 2 18 0 6-5 5-1 6 7 7 3 2 2 2 12 11 11 2 1 20 0 5 4-1 6-6 4-5 5-5 3-11 1-3 5-6 6-1 5 2 2 6 1 1-1 3 0 8-8 4 0 3 2 3 4 4 2 18-1 1 1 7 1 4 4 1 2-1 16 5 15 5 8 1 10 7 7 1 3-4 8-5 5-13 1-10 4-3 3-1 6 3 6 8 3 3 2 8 9 7 3 5 0 7-5 3-6 0-5 2-6 8-8 5 0 3 2 6 0 1 1 18 1 8-4 10-1 7-5 3-5 0-16-1-1 0-4-5-11 0-7 2-7 13-14 2 0 7 4 3 0 4-3 2-5 0-3-4-5-5-1-1 1-3 0-5 3-4-5 0-4-1-1 0-40 2-4 3-2 8-9 4-2 19 0 3-2 6-7 3-1 15 0 1 1 3 0 21 20 48 0 9 8 3 0 10-9 3-5 6-5 34 0 9-3 5-5 4-2 17 0 4 2 4 6 4 2 8 0 4 2 2 3 6 5 9 0 2 1 12 11 1 6-6 5-18 0-2 1-5 6-7 5-1 2 0 6 2 3-7 8 0 8 4 11 1 9 13-6 4 0 1 3-13 6-6 4-1 8-1 1 0 14 5-2 8-6 2 0 1 3-3 3-14 9-2 5 0 3 2 2 24 4 7-10 1-8 1-1 0-6 3-6 2 0 2 4-1 2-1 13 3-3 4-2 3 0 0-3 2-2 2 0 2 2 0 5 6 3 12 0 0-309-478 0-1 5-19 20 0 18-3 4-8 3-6 0-10-9-7-1-4 2-3 4-3 11-4 4-3 5-2 9-9 12-7 6-2 12-4 4-3 0-11-10-3-1-7 1-4 5 0 10zM369 152l2-3 7-2 3 1 18-1 7 2 3 3 1 4-3 4-5 2-27-1-6-5zM0 0l0 9 3 0 4 2 5 6 4 2 7 0 2-1 7-8 6-2 24 0 7 6 2 4 6-1 8-8 3-1 7 1 9 9 3 1 6 0 5-4 0-3 1-1 0-11z"/>
<path fill="#19b65f" d="M308 383l1 5 4 3 6 0 6-2 7 0 3-4-1-5-8-7-7 0-6 4zM617 352l1 1 17-1 3 3 0 3 1 0 0-16-10 0-4 2zM554 323l-1 1 2 1 1-1zM382 324l1 2 4-1-1-2zM601 319l-1-1-3 4 3 0zM0 362l0 28 5 0 11 9 11 0 1-1 8 2 4 5-1 18 3 9 0 12 5 10 0 9 2 7 0 5-1 2-17 16-2 4-3 2-9 10-6 2-11-1 0 109 639 0 0-239-14 0-1 1-5 0-7 2-16 0-4-2-5-6-6-5-3-5-1-7-3-6-5 1-4 4 0 6 2 5 0 5-6 11 0 17 1 3 6 6 3 5 11 10 14-1 14-6 4 0 1-1 20-2 1 3-4 2-20 2-3 2-10 3-2 2-10 2 2 3-1 4-9 7-4 7 0 3-1 1 0 15-1 2-10 10-5 2-5 6-7 6-3 0-1 1-13-1-10 5-8 0-13-4-11 0-1-2 5-6 0-4-4-3-19 0-1 1-7 0-1 1-16-1-2 2 0 4 2 5 7 8 5 9 6 7 7 4 10 10 4 7 0 4 1 1-1 1 0 3-4 3-1 4 3 8 4 24 8 18 0 4-2 2-4 0-4-4-10-17-1-8-1-1 0-6-1-1 1-2-1-1 0-4-5-16-3-5-15-13-12-6-21-7-17 0-1-1-12-2-3-3 1-10-3-6 0-5 5-6 1-6-19-10-11-12-12-5-4-4-2-7-9-10-5-3-7-1-2 1-7 8-2 1-8 0-9 6-4 0-7-3-4 0-7 3-15 9-9-1-5-3-9-8-6-2-16-1-1 1-3 0-4 3-1 2 0 10-2 4-4 5-8 7 0 4 5 6 0 3-3 5 0 5 3 3 7 4 5 5 8 4 6 0 1 1 21-1 4 3 0 4-13 11-5-1-8-7-18 0-9-7-3 0-1-1-10 1-7 5-6 0-1-1-15 1-5-4-15-6-10-11-3-7-1-6-3-3-5-2-15-1-5-6-1-8-3-5-11-8-3-1-5-5-1-2 0-13 3-7 7-7 2-4 1-7 3-3 9-1 11-5 5 0 1-1 1 1 15 0 5-3 1-10 1-2 6-5 3-6-1-9-1-1 0-4 2-5 8-6 1-2 0-9 4-5 3-1 7-6 8-1 3-3 6-13 0-7-2-2-3 0-10 8-4 0-9-7-7 0-2 1-7 8-5 0-6-7-4-2-14 0-1 1-3 0-9 9-12 1-11 4-4 5 0 8-8 7-1 3-10 9-6 4-12 4-14 8zM353 502l3 0 3 2 0 4-2 2-5 0-2-2 0-3zM333 242l-5 2-2 5 1 3 3 3 5 1 2-1 2-3 0-7-2-2zM406 222l-2 1-2 3 0 10-2 7 0 9-3 7-6 4-4 0-4 2-4 4-9 4-3 3-1 5 6 14 6 5 2 0 13 7 9 10 4 2 18-1 2 1 4 5-1 3-21 19-6 10 0 3-3 7-8 6-2 7 0 5 1 1-1 10-7 5-20 0-1 1-3 0-4 3 1 4 11 10 6 1 9 7 9 2 5 3 4 4 8 3 7 0 1 1 26 0 1-1 7 0 1-1 10-1 3-1 8-7 4-2 24-25 4-7 0-3-2-5-6-5-13 0-9 5-4 0-2-2-5-2-15-16-8-12-3-8 1-10 4-5 4 0 3 3 9 5 9 1 1 1 17 0 3-2 3-7 3-3-6-4 1-3 3 0 11 5 5-2 2-7-1-2 0-5-2-7-8-13 0-4 3-1 0-2 3-2 11 8 4-3 7-11 4-11 0-16-1-2-3-2-4 0-1-1-5 1-15 8-12 8-6 0-5-4-2-4 0-5-2-3-4-2-6 0-1-1-11 0-1 1-16 0-3-1-5-5 0-11-2-3-2-1zM434 415l2-1 3 2 4 0 1 1 4 0 6 2 2 2 5 2 3 4-5 4-10 0-3-1-7-6-3-7zM0 152l0 24 26 0 2 1 5 6-1 6-2 2-4 2-10 0-2 1-3 4-2 9-5 5-4 1 0 33 5 0 4 2 7 8 9 1 6 2 25 0 1-1 4 0 6-2 16 0 7-8 2-1 9 0 3-1 11-9 3-1 15 1 3-3 2-9 4-4 10-3 3-2-1-5-5-5-7-4-5-5-2-4-4-3-8 0-3 3-2 6-4 4-15 0-1-1-4 0-2-1-8-9-6-2-5 0-9 3-10 0-3-1-4-3-1-6 2-4 8-6 0-7-4-3-16 0-3-1-5-4-1-3-4-4-6-2zM23 83l-2 3 0 6 2 3 3 0 2-3 0-5-3-4zM14 63l-3 3 0 7 3 3 2 0 2-2 0-8-1-2zM54 25l4 3 3 0 2-1 2-3-3-2-5 0-2 1zM39 105l0 10-5 7 0 4 1 2 8 7 3 0 8-5 5 0 2 2 0 4-6 6-1 3 9 10 18 3 1 1 14-1 9 8 19 0 6-5 6 0 6 7 10 5 1 2 0 9 10 11 5 2 18-1 5 3 2 5-1 1 0 3-3 3-6 3-8 7-11 2-9 9-1 4 3 2 5 0 2-1 7-8 5 0 9 8 26 0 5 2 4 5 0 22 1 1 0 4 3 8 5 7 1 8 8 8 0 2-6 11-4 4-3 1-10 0-10 3-4 4 0 6 3 4 9 3 9 10 4 2 8 0 4-3 3-5 0-9 4-6 9-7 2 0 8 4 22 1 8-5 10-1 6-5 1-2 0-14 1-2-1-1 0-4-4-8-1-11 2-7 9-10 2-4 0-6-3-10 0-41 1-1 0-3 13-14 6-2 17 0 3-2 4-6 4-2 13 0 1-1 6 1 4 2 14 16 4 3 48 0 4 2 5 6 3 0 3-4 7-6 2-5 4-3 35 0 1-1 5 0 4-2 6-6 6-2 13 0 1 1 4 0 10 9 9 0 2 1 4 5 5 4 9 0 2 1 14 13 1 3-2 5-3 3-5 2-16 0-2 1-5 6-4 2-3 4 0 4-1 1 1 4-4 4-2 4 0 6 5 14 1 6 11-5 4 0 1 3-11 5-6 4-1 2-1 8-1 1 0 12 4-1 8-6 2 0 1 3-16 12-1 7 5 3 19 4 4-7 3-3 2-15 1-1 0-3 2-2 2 0 2 2-2 15 5-4 4-1 3-3 2 0 2 2 0 3 6 3 12 0 0-307-477 0 0 5-2 3-3 2-14 15 0 3-1 1 1 3 0 11-3 5-9 3-8 0-11-9-6 0-3 2-5 14-7 9 0 3-3 7-8 11-7 7-1 10-4 5-2 1-5-1-8-9-5-2-5 1zM366 151l6-5 31 0 3 1 6 6 0 5-5 5-5 0-1 1-26 0-7-5-2-4zM0 0l0 7 3 0 4 2 4 5 4 3 8 0 3-2 5-7 2-1 6 0 1-1 3 0 1 1 3 0 1-1 13 0 6 3 2 3 5 4 4-2 6-6 5-2 8 2 6 7 3 2 7 0 4-5 0-12z"/>
<path fill="#17c04a" d="M311 383l0 3 3 3 16-1 4-3-1-4-8-7-4 0-4 2zM619 352l2 1 3 0 1-1 10 0 3 2 0 3 1 0 0-14-9 0-5 2zM433 332l-3 0-3 2-9 9-4 2-8 9-2 5 0 7-1 2-7 5-3 4 0 15-2 5-4 4-2 1-19-1-1 1-5 0-4 3 1 3 7 7 5 2 6 0 2 1 6 6 10 3 7 7 7 3 6 0 1 1 27 0 1-1 5 0 5-2-1-2-2 0-6-3-17-18 0-2 4-2 5 1 5 4 12 4 10 5 5 4 4 1 4-2 24-25 3-6-3-9-4-3-4 0-1-1-8 1-4 2-8 7-2 0-5-5-3-1-4-4-4-8-7-7-2-4-8-9-2-5 0-10 1-1zM0 364l0 22 5 0 5 2 7 7 13-2 6 3 7 8 1 39 5 10 1 14 2 5 0 7-12 13-6 4-1 3-9 8-3 5-4 2-17 2 0 103 89 0 0-12 1-1 0-6 1-1 0-7-4-11 0-4 1-1 0-4 3-4 3 4 1 5 4 4 5 15 4 4 0 3-2 2 0 5 2 2 1 7 530 0 0-237-3-1-8 0-1 1-8 0-1 1-6 0-1 1-17 0-17-16-2-11-2-3-4 1-2 3 0 4 2 4 1 7-7 11 0 18 7 8 4 7 9 8 11-1 1-1 1 1 14-6 4 0 1-1 20-2 1 3-4 2-20 2-17 8-5 0 2 5-1 4-4 4-4 2-5 5-2 4 0 3-1 1 1 12-3 6-11 11-4 2-5 6-6 4-7 2-2-1-10 0-7 4-9 0-11-4-5 0-1-1-1 1-10 1-2-2 0-3 7-7 0-3-2-2-12-1-1 1-7 0-7 2-9 0-1-1-5 0-2 1 0 6 7 9 8 13 4 4 8 4 8 8 5 8 2 7 0 6-2 6-3 1 1 4 3-1 8 7 0 3-7 6 0 11 4 11 4 7-1 5-3 2-3 0-5-5-9-13-1 1-1 9-2 3-11-7 0-2 5-3 7-8-1-20-1-1-1-8-4-10-16-14-14-7-7-1-12-4-20 0-5-2-10-1-3-3 0-3 3-5 0-7-2-3 0-6 6-7 0-3-17-9-6-6-2-4-5-4-12-4-5-5-1-7-12-11-7 0-8 9-3 1-8 0-8 5-5 0-6-3-6 0-19 11-8 0-7-3-10-9-5-2-17-1-5 2-2 2 0 11-1 3-6 10-4 4 0 2 3 5 0 4-4 7 1 5 7 4 7 6 7 3 8 0 1 1 21-1 6 5 3 6-2 3-2 1-5 0-4 2-5 5-5 2-4-2-7-6-13 1-1-1-8-1-2-1-6-7-3-1-4 0-10 7-5 0-7-2-9 3-6 0-6-7-10-2-5-4-8-11-2-13-4-4-3-1-17 0-5-7-3-11-6-6-13-9-2-4 0-16 4-7 5-5 2-4 0-5 4-5 5-2 7 0 14-6 18 1 3-2 1-3-1-3 1-6 4-3 5-6-1-20 3-4 6-3 2-7 0-5 4-5 5-2 7-5 7-1 5-4 3-8 0-5-1-1-3 0-7 5-6 0-7-6-6-1-5 4-4 6-2 1-6 0-4-4-1-3-4-3-15 0-12 11-14 0-8 3-1 1 0 12-1 2-6 4-7 8-17 10-10 3-15 8zM296 502l3-1 5 3 4 5-1 1-7-1-2-2zM346 504l1-2 4-3 6 0 6 4 1 8-4 3-10 1-4-4zM331 244l-2 2 0 5 3 3 3 0 3-3 0-5-2-2zM368 278l4 14 4 5 23 10 5 6 2 1 22-1 5 4 3 9 8 0 2 1 4 6 5 4 6 2 4 0 1 1 16 0 5-4 2-5 2-2 0-1-4-3 1-3 3 0 6 3 6 1 3-2 2-5-3-15-6-8-4-8-3-3-1-5 2-2 3 0 5 5 4-1 9 7 3-1 6-9 6-14-1-17-2-2-3 0-1-1-5 1-13 7-11 8-4 2-6 0-8-7-1-2 0-5-2-3-2-1-37 0-5-2-3-3-1-3 1-10-1-2-2-1-16 0-2 2 0 9-1 1 0 4-2 6 0 7-4 8-3 3-8 1-8 6-6 2zM407 300l2-2 8 0 3 1 1 2-1 1-10 1-2-1zM0 154l0 20 17 0 1-1 5 0 1 1 5 0 4 2 3 4 0 9-3 4-7 2-4 0-1-1-6 1-3 4-3 11-4 4-5 1 0 28 6 0 4 2 3 3 1 3 4 3 14 4 23 0 10-3 16-1 7-8 2-1 12 0 8-7 7-4 4-1 6 2 5 0 3-4 0-5 6-6 7-2 5-3-1-4-7-6-7-3-2-2-3-7-3-2-6 0-4 5 0 3-2 5-3 2-14-1-1-1-8-1-8-9-4-2-10 0-5 2-15 0-5-2-2-3 0-10 4-4 6-2 1-2-1-5-3-1-12 1-1-1-7-1-3-3-2-6-5-4-10 0-4 2zM24 87l0 4 1 0 1-2-1-2zM14 67l-1 1 0 3 2 2 1-1 0-4zM40 106l0 10-4 6 0 4 3 4 5 3 2 0 6-4 9-1 3 5-3 6-4 4 0 3 6 7 6 2 6 0 9 3 1-1 11-1 11 9 15 0 9-6 5 0 3 2 5 7 8 1 3 3 0 12 8 9 4 2 22-1 5 4 2 5 0 5-1 2-7 4-4 1-11 10-7 0-2 1-7 7 0 2 1 1 5-1 3-4 7-6 5 3 9 8 5 0 1-1 21 0 1 1 3 0 5 3 1 2 0 7 1 1 0 8-2 6 1 12 8 10 2 8 8 7-1 5-4 4-4 8-5 4-11 0-1 1-8 1-5 4-1 3 2 5 4 2 4 0 5 2 4 6 7 5 3 0 6-4 1-2 0-11 1-2 15-12 2 0 7 5 3 0 1 1 5 0 1-1 2 1 10 0 9-7 9 0 4-3 1-2 1-20-5-10-1-10 3-8 10-11 0-8-3-10 0-24 1-1 0-18 1-1 0-3 4-4 3-1 3-5 5-4 5 0 1-1 10 0 1 1 1-1 4 0 3-3 3-6 3-2 2 0 2-2-3-7 0-7 2-3 38 0 7 3 6 7 0 7-4 4-3 1-14 0-2 1 1 4 9 8 2 4 3 2 45 0 7 2 6 5 9-8 2-6 3-2 3 0 1-1 39 0 4-2 9-8 22 0 1 1 3 0 6 7 10 0 4 2 6 7 5 0 6-5 7 0 4 3 0 2-4 4 0 3 1 2 5 2 4 4 1 6-2 4-5 5-4 2-16 1-2 1-5 6-6 3-2 5 0 3-6 12 1 8 4 9 1 6 7-2 3-2 4 0 1 1-1 3-6 2-9 6-2 10-1 1 0 12 11-7 2 0 1 3-14 11-1 7 2 2 8 3 12 2 7-9 3-19 3-3 3 3-2 13 9-6 5 0 4 4 5 2 11-1 0-304-475 0 0 4-2 4-5 4-12 13-1 3 1 16-1 1 0 3-2 2-13 2-1 1-5 0-11-9-6 0-3 3-3 10-6 8-4 11-8 12-6 6-3 13-6 6-6-1-5-6-6-5-6 0-2 1zM239 177l2-2 7-1 3 3 0 2-2 2-8 0-2-2zM444 151l2-2 7 0 1 1 0 2-4 3-4-1zM427 149l3 0 3 3 0 2-2 2-3 0-3-3 0-2zM465 149l3-2 5 0 2 2-3 3-4 0zM494 147l1-1 1 2-1 1zM229 146l5-4 8 7 5 7 5 2 8-1 4 3-2 2-7 2-4 3-2 0-3-2-5 0-2-2-3-7-5-3-3-3zM526 139l3-1 2 2-1 1-3 0zM353 134l2-1 4 4-3 1zM570 74l2 4 1 11-1 3-5 5-4 1-6-5-1-3 1-5zM569 57l3 2 0 5-2 2-2-2 0-6zM168 48l3 0 9 10-1 6-7 6-3 0-2-2 0-3-1-1-1-13zM0 0l0 5 5 1 10 9 3 1 5-1 2-2 2-5 3-3 3-1 28 0 6 3 6 6 5-1 6-6 4-2 6 0 5 2 8 9 5 0 3-4 0-11z"/>
<path fill="#15c834" d="M440 618l1 1 18 0 0-4-1-2-4-3-9 0-4 4 0 3zM467 566l-5-16-4-5-15-11-8-4-14-4-4 0-1-1-16 0-1 1-3 0-1-1-4 0-7-2-3 1-2 2-2 6-3 3-2 0-3-4 0-6-4-5-9-1-4 2-2 4 0 8-3 3-2 0-3-4 0-5 1-1-1-19 2-6 6-5 10 1 3 1 3 3 1 4 3 4 4 0 2-5-3-9 1-3 5-6 0-2-18-11-4-7-4-4-21-7-1-1 1-9-1-2-9-8-6 1-7 8-10 1-9 5-6 0-10-4-1 1-3 0-17 11-10-1-6-3-10-9-5-2-5 0-1-1-11 0-3 1-3 4 0 12-4 10 0 8-2 6-5 9 2 4 11 8 6 3 19 1 7-2 6 0 8 4 6 0 4-2 2-3 1-9 4-5 22 1 5-2 6 0 9 3 8 7 3 7 0 5-2 5-3 3-16 0-3 1-10 9-28 0-10 7-8-6-3 0-8 6-5-1-6-5-4 0-7 6-9-7-8 0-3-1-3-3-1-6-1-1-3 0-6 5-5 2-8-3-5 0-4 2-7 7-3 9-4 5-3-1-1-10-4-5-6-2-8 2-3 4 0 8-1 3-5 4-2 3 0 5 6 3 8 0 4 4-1 8-6 8-1 6 9 11 0 22 308 0 1-13 3-6 3-2 9 0 12-6 5-5 1-3 5-6zM108 388l1 3 3-1-1-2zM315 382l0 3 3 2 12-1 2-2-1-3-6-5-5 0zM639 383l-20 0-1 1-19 1-3 1-1-1-4 0-3-2-7-8-5-2-10 10-1 2 0 15 1 3 4 4 4 8 10 9 2 1 2-1 6 0 1-1 4 0 11-5 20-2 1-1 4 0 1 3-4 2-20 2-3 2-5 1-4 3-2 0-3 2-3 0 3 5 0 4-4 5-5 2-8 8-2 20-8 9-2 4-16 13-8 3-4 0-1-1-6 1-3 2 0 2-2 2-3 1-7-3-6-1-7-4-3 0-1-1-8 0-5 2-5-1-2-2 0-3 8-9-2-3-3-1-9 0-1 1-10 1-4 2-4 0-1-1-8 0-1 1 1 5 6 7 7 12 5 5 9 4 9 10 5 9 5 16 8 7 2 5-1 6-13 13 0 4 6 14 0 5-3 3-5 0-5-6-3-2 0 3-1 1 0 10 163 0zM500 389l-4-5-5-2-5 0-6 2-5 6-5 4-15 1-4-5 0-13-1-2-13-15-6-1-2 1-2 4-10 10-5 2-12 0-4 5 0 11-1 1 0 3-2 4-4 4-5 2-8-3-14 0-3 2 0 2 5 6 5 2 7-1 1-1 7 0 1 1 0 5 1 2 9 3 3 3 2 5 4 3 8 1 1 1 26 0 7-2 0-2-4-2-10-11-8-5-10 0-2-2 0-5 4-5 4-1 14 4 7 4 3 3 4 1 19 10 5 1 3-1 10-11 10-9 5-8zM572 357l-2 2 1 4 2 1 0-6zM56 346l-10 0-17 9-15 5-8 5-6 1 0 16 21 2 8-3 3 0 2 2 4 10 8 8 1 3 0 15 2 6-1 10-1 1 0 7 4 6 0 3 1 1 0 13 3 7 0 3 3 9 0 8-3 4-7 2-6 0-4 5-8 7-1 3-5 5-8 0-3 1-6 7-3 2-4 0 0 90 82 0-1-13-1-1-1-10-1-1 0-7-1-1 1-12 1-1 0-27 1-1 0-8-2-5-8-9 0-14 2-5 10-10 2 0 3 4 6 5 10 0 2-1 2-5 0-10-2-3-4-2-9 0-7 3-2-1-6-9-1-6-3-6-6-6-9-5-6-7 0-6-1-1-1-10 1-3 9-9 2-4 0-5 2-4 2-2 5-2 13-2 9-6 0-3-3-4 0-9-1-3-8-7-13-14-5-3zM621 351l0 1 2 1 2-1 11 0 3 4 0-11-11 0zM66 319l2 3 4-1 1-3-1-1-4 0zM284 317l-8 0-4-5-6-5-2 0-8 4-6-5-4-1-8 6-3 5 0 3-2 4-20 0-6 2-2 2-1 4 1 2 5 2 3 0 1-1 9 1 2 2 0 6 5 3 4-3 0-7-1-1 0-7 2-3 7 0 4-2 9-9 3 1 6 7 3 0 1 1 7-2 7 1 2-1zM97 306l-2 3 1 7 8 8-5 9 0 3 13 14 6 1 7-8 5-2 2-2 0-4 1-1 0-13-2-3-4-2-11 0-2-2-1-6-4-3-9 0zM135 308l0 10 3 5 6 0 9-5 8-1 2-2 2-6-1-2-8 3-4 0-10-6-4 0zM226 267l0 7 8 9 4 2 6-1 5 2 14 15 11 2 10 11 17 0 2-1 1-9 3-6 0-4-2-5-4-4-3 0-6 3-5 0-4-2-9-8-5-6-4-2-6 0-2-1-5-7-7-6-4 0-6 2-5 3zM332 245l-1 1 0 4 2 2 2 0 2-4-2-3zM371 276l-1 4 5 14 8 5 3 0 5 2 5 0 5-6 3-1 14 0 3-1 8-6 4 1 3 3 1 3 0 11 1 1 0 5 2 6 10 8 3 9 5 3 7 1 1 1 14 0 3-1 3-3 1-4 3-3-4-4 2-2 4 0 6 3 4 0 4-3 0-12-2-6-7-9-1-3-8-10 0-7 2-2 4 0 2 1 7 8 4 1 6 5 3-1 6-8 5-11 0-3 1-1-1-14-2-3-7 0-13 7-16 12-5 0-5-3-6-6-4-2-1 1-4 0-3-4-5-4-20 1-12-4-11-10 0-2 2-2 5 1 1-1 0-3-2-1-2 1-8-1-2 2 0 6-4 9-1 10-5 10-3 3-8 0zM113 212l-1-2-3-2-12-1-5-2-6-5-3-5-4-2-8 0-5 2-12 0-1 1-8 0-1 1-20 0-1-1-5 0-5 4-2 10-6 8 0 11 3 8 6 6 3 5 8 6 8 3 21 0 1-1 4 0 4-2 15-3 4-5 6-3 4 0 1-1 7 1 5-2 7-6 3-4zM125 192l-3 3 0 7 3 2 2 0 2 2 0 2-3 4 0 7 2 4 0 7 2 1 2-6 6-5 11-4 1-1 0-4-6-5-3-1-8 0-1-1 1-3-1-6-4-3zM409 180l1 1 2-1zM178 224l1 3 8 7 7 0 1-1 37 0 2 2 0 3-4 6 1 4 2 2 10 4 8-1 11-5 6 0 16 11 13 5 5 0 4-2 7-8 0-8-2-4-8-7-1-3 0-15 8-7 2-5 0-11-2-4-10-9-8-4-6 0-6 5-6 2-3-3 1-8-1-2-4-3-5 0-4 3-1 10-4 5-14-1-8 3-4 7 0 6-4 5-3 1-8 0-10 9-7 0-1-1-8 1-3 2zM221 158l-3 3-2 5 0 8 3 6 7 2 3-1 3-5 1-9-1-1 0-3-3-4-2-1zM0 157l0 5 4 0 4 2 12 0 3-2 1-3-2-5-4-2-7 0-9 5zM41 107l0 10-3 5 0 4 4 4 4 1 5-3 6-1 7-3 3 2-1 8-3 5-4 4 0 3 2 3 4 3 9 1 6 3 9 0 4-2 4 0 2 1 6 7 7 2 10-1 4-3 8-3 5 1 2 2 1 4 4 3 4 0 3-2 3 0 7 9-4 3-2 5 1 3 5 6 4 2 7 0 1-1 3 0 6-4 2 0 5 3 10 11 7 0 3-3 2-5 0-9-1-3-4-4-4-2-9 0-6 3-4 6-6-7-11-4 4-7 0-5-7-8 5-3 3 0 1 1 39 0 5-2 7-7 3-5 5-4 3 1 17 16 5 2 7 1 3 2 10 12 5 4 4 0 6-7 3 0 14 15 4 2 5-1 3-3 1-3 4-3 22 0 2-1 2-4-1-17-1-1 0-3-7-12 9-10 2 0 9 8 7 9 3 1 8 0 1-1 20 1 12 7 2 0 8-5 10-3 11 0 1 1 31 0 1 1 5 0 9-8 3 0 6 6 6 4-3 4-9 5-3 0-7-5-3 0-9 6-9 1-4 2-6 7-4 2-4 4-3 9 5 3 17 2 4-2 2-5 5-4 43 0 5-2 6-7 5-2 5 0 1-1 1 1 8 0 1 1 8 0 1-1 10-1 3 1 6 7 6 3 3 0 1 1 13 0 7 2 5 6 2 6 0 4 3 7 6 4-8 3-9 8-13 3-4 2-4 4-11 5-1 4-6 10 0 4-1 1 1 1 1 8 5 11 5-1 3-2 4 0 1 3-13 7-2 3-2 10-1 1 0 10 5-2 5-4 2 0 1 3-13 10 0 8 2 2 5 2 8 1 1 1 5 0 6-8 1-9 1-1 0-6 1-3 3-3 3 3-1 10 8-5 4 0 9 5 12 0 0-275-12 0-4-3-1-2 1-22-27 0 0 4-4 3-5 0-4-3 0-4-417 0 0 5-1 2-8 7-10 11-1 3 1 19 4 5 5 0 2-1 7-8 2-1 5 0 7 5 7 7 1 2 0 6-3 5-9 9-2 1-7 0-2-1-2-3-1-11-1-2-4-3-9 0-5-4-3 0-1-1-15 3-4-2-7-7-6 0-2 2-3 10-7 10 0 2-4 8-9 14-3 3-3 12-8 9-5-1-7-8-6-5-6 1zM554 135l-2 2-8 0-4 2-6 7-3 1-16 0-4-2 10-9 13-5 16 1zM565 37l2 3 0 4 8 9 3 7 0 31-1 3-11 11-3 0-7-7-2-4 0-9 5-9 1-9 3-7 1-12 1-1-1-9zM555 10l2 5 0 8-2 3-6 0-4-3 0-2zM109 0l0 2-2 3 0 5 3 2 2-2 0-2-3-6zM64 0l0 2 9 9 3 0 9-9 0-2zM4 0l0 2 11 11 4 1 4-3 1-2 0-9z"/>
<path fill="#13d21f" d="M119 535l-2 1-1 2 1 4 2 2 3-3 0-4zM0 537l0 82 79 0 0-7-1-1-2-20-1-1 0-5-2-7 0-25-1-1 0-3-4-4-3-1-3-4-8-7-5-7-7-2-10 1-1 1-15 0-9 8-5 3zM63 506l-1-2-6 2-10 0-3 7 9 0 8 6 2-4zM90 485l-2 3 0 3 3 6 3 2 6 0 4-3 1-2 0-7-1-2-4-2-6 0zM55 455l-1 2 1 10 3 6 0 2 6 11 1 11 2 1 5-2 6-5 1-2 0-5-5-10-1-6-4-6-9-7zM466 565l-5-16-4-4-6-3-8-7-10-5-3 0-9-3-4 0-1-1-10 0-1 1-7 0-1 1-12-1-2 2-2 5-5 5-8 5-3 0-2-2-4-8-12 10-4 0-2-2-3-7 1-29 4-9 4-4 21 1 5-5 1-4-7-6-4-2-6-6-2-5-3-3-15-5-5 0-4 2-6-1-2-3 0-4 2-2 2 0 5-3-1-4-5-5-4 0-7 8-12 1-9 5-6 0-9-4-4 0-12 7-4 6-10-2-9-4-12-10-8-1-1-1-11 0-4 3 0 14-2 5 0 11-8 15 1 4 7 6 7 4 3 0 1 1 17 0 21-6 0-4-4-1-3-3-2-4 1-3 3 0 4 4 2 5 5-1 9-8 4 0 8 4 7 0 7-2 3-2 5 0 3 2 9 2 4 2 5 6 2 5 0 16-2 4-4 4-18 0-12 10-28 0-10 8-3 0-7-6-3 0-7 6-3 0-7-6-3 0-7 6-3 0-9-8-3 0-1-1-3 1-9 0-8-6-5 0-7-3-5 0-2 1-6 7-2 6-5 9-5 5-7 4-5 17-3 5 0 5 5 5 4 7 0 4-1 1 1 16 295 0 0-10 2-6 6-6 4-2 9-1 11-5 3-3 3-9 6-6zM362 406l1 3 4 3 7-1 3-3 0-1-3-2-10 0zM639 384l-21 0-1 1-7 0-1 1-19 1-5-2-3-3-4-1-9 4 1 13 3 6 1 9 7 8 5 3 7 0 14-4 3-2 20-2 1-1 4 0 1 3-4 2-20 2-3 2-5 1-6 4-4 1 6 6 0 2-8 8-7 4-6 7 0 3-1 1 0 7 1 1-3 8-5 5-3 6-13 12-10 5-9 1-8 7-7 0-4-2-7-1-7-6-5-2-6 0-5 2-7 0-3-3 0-6 7-8-3-2-8 0-1 1-8 1-6 4-4 0-3-2-3 0-1 1 1 4 4 4 6 12 6 6 8 2 5 5 13 19 4 10 12 10 0 13-17 17 1 6 4 9-1 4-4 3-3 0-5-3-1-2-1 1 0 9 160 0zM319 381l1 3 8 0 1-1-4-5-3 0-2 1zM499 390l-3-5-5-2-6 0-6 3-3 5-4 4-2 1-6 0-10 3-4-3-5-12 0-7-8-10-4 1-3 4-14 7-11 0-3 1-3 3 0 10-6 14 0 6 3 4 5 2 2 2-2 7 1 3 3 3 7 1 1 1 23 0 1-1 4 0 1-2-10-11-7-4-7 0-6 2-3 0-3-2 0-4 4-10 4-4 2-1 7 0 7 4 5 1 6 3 7 6 17 9 9 1 2-1 7-7 3-5 11-10 2-4zM0 370l0 6 4 0 11 4 8 0 9-5 3 3 5 12 13 12 2 4 4-5 6-3 16-2 5-4-1-14-3-6-2-1-15-16-9-5-5 0-1-1-6 1-14 8-14 3-7 4-4 4zM623 352l13 0 2 3 1 0 0-8-3 0-1-1-8 1zM207 328l0 2 4 2 1-1 12-1 2-1 0-3-2-1-11 0zM122 322l-9 2-6 6-2 4 1 4 7 6 5-1 8-9 0-8-1-2zM143 313l0 2 2 2 5-1 3-2-5-2-4 0zM247 310l-4 0-3 2-2 3 1 5 5 1 4-4 1-5zM229 270l0 4 4 5 8 3 12 0 4 2 5 4 1 3 3 3 3 1 8 0 3 3 4 7 4 2 6 0 2-1 7-8 0-5-2-2-2 0-6 3-10 0-3-1-6-7-5-2-6-6-4 0-5-5-3-7-4-4-3-1-6 1-4 2zM522 248l-5 1-2 2-10 5-10 11 9 13 7 6 4 0 3-3 4-6 4-9 0-13-1-1 0-4zM373 277l0 5 2 4 1 6 4 4 7 1 1 1 5-1 2-3 3-2 19 0 4-2 6-7 3 0 10 4 2 4-1 2 0 12 1 1 0 3 1 2 10 9 2 4-1 2 0 6 7 5 4 0 1 1 12 0 1-1 3 0 2-2 2-6 3-2-3-2 3-4 7 3 5 0 2-1 2-3 0-10-2-6-7-10-9-10-4-15-6-6-6-3-4 0-1 1-6-1-7-6-18 0-7-4-6-1-4-2-7-6-3 0-3 4-2 10-4 8 0 6 3 4 0 3-6 5-2 0-3-3-2-7-1-1-4 0-8 4zM639 207l-19 1-5 3-4 4-5 2-7 1-6 5-12 5-4 4-6 11 1 13 4 7 1 4 7-3 4 0 1 3-5 2-7 5-4 10-1 13 2 0 7-5 3 1 0 2-12 10 0 6 2 3 6 3 13 1 6-10 0-6 1-1 1-10 3-2 3 2-1 9 4-3 6-2 1 1 4 0 6 3 12 0zM148 212l-4-4-3 0-1-1-1 1-3 0-6 5 0 5 4 2 13-5zM125 194l-1 1 0 4 1 1 4 0 1-4-2-2zM108 212l-5-2-7 0-5-3-8-9-5-4-26 3-9 4-16-1-1-1-8-1-2 1-2 3-1 8-5 8-1 7 2 7 8 11 12 11 6 2 18 0 20-6 9-7 13-4 8 0 6-4 3-4 0-11zM194 180l-3 4 1 4 4 3 5 6 5 1 3-3 0-3 1-1-2-8-6-4-6 0zM161 182l1 5 5 4 8-1 2-1 1-2 0-4-5-4-6 0-1 1-3 0zM309 196l-2-4-7-7-7-4-6 0-9 5-5 0-2-1-4-5 1-3-1-4-1-1-3 0-2 2 0 7-2 4-4 4-4 0-4-2-7 0-4 2-4 4-2 7 0 4-4 5-2 1-9 0-11 9-17-1-6 5 0 3 2 3 4 3 19-1 1-1 9 0 1-1 19 0 4 4 0 4-3 7 1 2 3 2 5 0 2 1 14-4 6 0 25 14 10 1 6-4 1-2 0-5-5-4-6-7-1-3 0-18 10-11 1-2zM223 162l-3 3-1 6 3 6 5 0 3-7-1-5-3-3zM161 160l0 5 4 3 3-2 0-3-2-2zM9 156l0 3 4 2 4 0 3-2 0-4-5-2-4 1zM48 103l-2 0-3 2-1 3 1 6-3 8 0 3 5 4 10-3 4-2 2-3-1-4-5-6-1-3zM62 143l0 4 5 3 5 0 10 5 5 0 8-4 4 0 4 6 6 5 11 0 7-5 11-2 5-6 3 0 3 3 1 3-2 3-4 2 0 3 2 2 2 0 4-5 2-1 5 0 1-6 2-3 3-2 48 0 9-6 8-12 5 0 8 7 4 2 4 4 3 5 3 2 12 3 7 6 6 7 4 0 7-7 4 0 4 4 1 3 11 11 4 0 7-8 3-1 9 1 1 1 7 0 4-2 1-2-1-17-4-10-5-7 5-4 7-8 3-1 3 1 7 8 3 1 3 3 2 5 3 2 4 0 1-1 11 0 1 1 9-1 6 5 7 3 3 0 14-7 7-1 1-1 2 1 43 0 8-9 5 2 4 4 5 3 6 0 9-5 2 0 13-6 18 1 2 1 4 5 0 3-4 4-9 0-3 1-10 8-25 1-13 5-3 0-6-3-5 0-8 4-7 1-16 14-1 2 0 5 3 2 9 0 5-2 3-4 4-2 44 0 1-1 3 0 7-8 8-4 8 0 4 2 11 0 7-4 6 0 5 2 4 6 7 5 9 1 1 1 7 0 6 2 6 6 3 6 0 6 3 4 3 0 1 1 11-1 0-166-16 0-2 2-2 5-5 3-5-4 1-5 8-6 0-3 1-1 0-22-19 0 0 5-5 5-3 1-5 0-5-2-3-4 0-5-17 0-1 25 5 4 5 6 1 9 7 8 2 4 0 12 1 1 0 20-1 1 0 4-14 16-3 0-8-7-4-8 0-8 5-13 0-8 5-11 0-10-1-1 0-3-2-5-4-5-12-4-3-3 1-3 9-10 2-7 0-4-383 0 0 4-2 4-16 15-2 4 0 15 3 5 4 0 9-8 3-1 6 1 5 5 8 4 3 3 1 10-2 4-6 8-10 8-7 0-1-1-3 0-4-4 0-11-2-3-3-1-1 1-4 0-10-8-6 0-6 3-4 0-11-9-4 0-4 6 0 3-3 8-6 7-2 5-4 5-7 13-2 10-8 11 0 12-4 9zM68 0l0 3 5 5 5-1 3-4 0-3zM8 0l1 4 6 6 3 1 2-2 1-9z"/>
<path fill="#24d914" d="M0 542l0 77 77 0 0-8-1-1-2-21-2-7-7-13 1-11-19-21-5-4-6 0-1 1-18-1-2 2 0 3-5 4zM94 485l-2 1-1 5 3 4 4 1 5-4 1-3-3-4zM59 460l-1 1 0 4 2 6 4 7 3 3 3 7 2 1 3-2 0-5-4-7-1-5-2-4-5-5zM123 581l1 1 0 3 10 11 0 11-1 1 1 2 0 9 75 0 1-3 1 3 204 0 0-8 1-1 1-8 2-2 14-7 7-1 11-5 3-3 2-10 6-5 2-3 0-7-4-10-22-16-8-3-8-1-1-1-5 0-1-1-13 1-1 1-4 0-1 1-4 0-6 2-11 11-2 5 0 6-2 4-3 0-4-5-7-5-3 0-4 5-9-1-2-1-3-4 0-3-2-5 0-17 1-1-1-12 1-1 0-3 5-7 0-2 5-8 3-1 7 3 7 0 3-1 3-3-5-6-6-4-2-7-4-5-12-4-5 0-8 3-3 0-5-4-3-6 0-2-2-2-3 0-1-1-9 1-8 5-7 0-9-4-4 0-3 1-6 5-1 2 0 10-3 3-3 0-3-6-4-4-14-6-9-8-4-2-16-1-2 1-2 3 0 3 1 1 0 21-9 17 0 4 6 6 5 3 7 1 1 1 10 0 9-3 3-3 0-7-5-6-1-5 5-4 5 1 15 7 7-6 3-1 5 1 6 6 9 0 4-2 4-4 4-1 5 5 4 2 6 0 5 2 6 7 2 4 0 26-2 5-5 4-19 0-10 9-5 2-20 0-1-1-5 0-3 4 0 3-5 4-6-2-2-3-5-4-3 0-7 6-3 0-6-6-5 0-7 7-6 1-2-2-2-6-4-3-5 0-4 2-4 0-4-2-7-7-4-2-7-1-3 1-6 5-6 12-12 13-4 8-1 9zM199 596l3 2 0 3-2 2-3-2 0-3zM405 428l0 3 4 3 23 1 6-2-5-8-8-5-8 1-5 3-4 1zM639 385l-32 1-1 1-6 0-5 2-13 1-2 4 2 4 0 3-6 7 0 6 4 5 6 4 7 1 14-4 3-2 20-2 1-1 4 0 1 3-4 2-20 2-3 2-2 0-2 2-2 0-2 2-5 1 8 6 0 2-3 4-7 6-4 2-9 10-1 3 0 8-2 6-7 9-2 6-3 4 0 2 4 5 0 4-4 5-3 0-5-6-7 0-9 5-2 0-11 5-9 0-5-2-6 0-2-1-7-8-3-1-17 3-6-5 0-6 5-5 1-2-1-1-9 0-6 3-1 5-2 2-3 1-1-1-1 6 4 7 4 4 2 1 5 0 6 5 16 22 4 9 6 4 8 1 4 3-1 13 3 7-2 2-9 3-6 8-4 1-5 3 3 9 0 5-4 4-9-1 0 6 158 0zM399 407l2 2 3-1 3-6 5-5 9-2 13 7 9 3 14 12 11 5 5 0 4-2 4-4 3-5 12-11 2-5 0-4-1-3-3-3-9-1-3 1-10 12-9 1-8 4-5 0-3-3-4-11-3-4-5-3-10-1-9 3-11 0-3 3 0 11-3 7zM24 362l-4 0-7 3-3 3 0 5 2 2 5 2 5 0 5-4 0-8zM37 358l-1 2 0 8-1 1 1 8 5 10 5 6 6 3 6 1 1-1 17-1 3-1 3-3 0-7-2-7-20-21-6-3-10 0zM627 350l0 1 7 0 5 3 0-6-8 0zM119 330l-2-1-3 1-3 3 0 3 2 2 3 0 3-3zM384 273l-1 1-3 0-4 3 0 5 2 4 1 6 2 2 6 1 3-2 1-5-3-6-1-5zM234 269l-1 5 2 3 4 2 9 0 2-1 1-2 0-4-2-4-5-4-5 1zM522 251l-4 0-9 4-5 5-3 6 1 6 4 8 6 5 3-1 4-4 6-12 0-9zM407 248l-6 14 0 5 5 6 0 3-7 7 0 4 5 3 10 1 5-2 2-2 1-4 3-4 7 2 3 2 6 1 4 4 0 4-1 1 0 10 1 3 13 16 1 5-2 2 0 3 3 3 6 2 10 0 1-1 3 0 3-3 1-4 3-3-1-2 3-3 5 2 5 0 4-2 1-2-1-13-10-14-7-7-5-15-5-5-5-2-12 1-13-6-12 0-10-5-7-1-7-5zM145 212l-3-2-3 0-4 2-1 3 1 1 5 0 4-2zM639 209l-18 1-4 2-6 6-10 1-8 6-12 5-6 8-3 6 0 9 6 13 5-2 5 0 1 1-1 3-2 0-7 5-6 15 0 5-1 1 1 3 8-5 3 1 0 2-10 8 0 9 3 3 6 2 9 0 3-3 4-9 1-10 1-1 0-3 2-2 2 0 2 2 0 5-1 2 8-4 5 0 9 3 11 0zM111 224l-1-1 0-3-3-5-12-2-12-11-3-5-5-2-8 1-1 1-12 1-5 2-7 5-16-1-5-3-3 0-3 4 0 6-6 10 0 6 7 12 15 14 6 2 16 0 1-1 4 0 12-5 9-7 9-2 7-4 8 0 6-4 2-5zM306 196l-3-5-4-4-5-3-8 0-9 4-4 0-6-3-4 0-8 7-2 0-6-3-7 0-2 1-4 5 0 12-5 6-3 0-1 1-7-1-3 1-7 7-4 2-8 0-1-1-7-1-2 1-2 3 3 4 6 0 1-1 6 0 1-1 10 0 1-1 11 0 1-1 16 0 3 3 0 3 1 1 0 4-1 1 0 6 3 2 9 0 1-1 7 0 1-1 9 1 9 6 2 0 11 6 4 0 1 1 5-3 0-3-4-3-5-6 0-5-1-1 0-20 9-9 2-4zM197 183l-1 1 0 3 6 6 3 0 1-1 0-5-3-4zM174 184l-4-2-1 1-3 0-1 3 3 2 4 0 2-2zM224 168l0 3 1 0 0-3zM536 155l-2-1-30 0-7 3-7 0-3-2-5 0-14 5-6 7-7 6-1 3 2 2 5 0 7-5 6-2 28 1 1 1 17-2 4-3 4-7zM45 105l-1 2-1 17 2 2 8-1 4-3 0-5-2-2-3-7-3-3zM66 144l0 1 6 1 5 5 6 3 3 0 4-2 7-7 3 0 2 2 2 7 3 5 4 2 7 0 4-2 5-5 7-1 5-7 6-2 1 1 3 0 5 6 2 0 0-1 7-6 8 0 1 1 16 0 1-1 8 0 1-1 5 0 5 2 7-1 8-7 3-8 3-3 4 0 6 3 6 5 5 2 4 4 1 5 3 3 5 2 9 0 3 1 2 3 6 5 2 0 4-4 10 0 3 1 4 4 1 5 6 6 3 0 4-5 3 0 1-1 6 0 1 1 13 0 1-1 1-8-1-1 0-11-1-3-5-6-5-3-2 0-3-3 0-2 3-2 10-2 4-6 7-3 6 1 5 6 7 2 3 4 1 5 3 2 16 0 6-4 4 4 1 3 5 5 3 1 4 0 16-8 9-1 1-1 22-1 1 1 13 1 5-3 1-5 4-5 15 12 3 1 5 0 6-2 17-8 20-2 7 3 3 4 0 10-5 4-12 0-3 1-5 8 1 2 8 5 8 1 3-1 9-7 3 1 8 0 3 3 1 6 4 5 4 2 8 1 1 1 6 0 8 3 10 11 1 6 2 2 11-1 0-158-12 0-7 9-12 0-4-5 0-6 1-3 4-4 3-1 3-4 0-21-11 0-1 9-4 4-7 2-6 0-7-2-4-5-1-8-9 0 0 22 9 8 1 2 0 10 2 3 4 2 4 4 0 5 1 1 0 6-1 1 0 35-10 7-2 5 0 4-2 7-2 1-2-5-2-2-9-5-5-10 0-16 4-10 0-9 5-10 0-12-4-8-4-4-8-3-7 0-2-2 3-6 9-9 3-7 0-5-377 0 0 6-1 2-5 5-5 3-8 8-2 4 1 13 3 1 7-6 4-2 5 0 8 8 4 2 6 0 3 3 1 3 0 9-3 7-14 16-5 3-6 1-11-4-1-2 0-4 1-1 0-7-1-2-6-1-4-2-6-7-4-1-9 5-2 0-12-9-4 0-3 6-1 10-8 7-5 7-5 10-1 12-6 6-4 6 0 16-3 7zM200 136l2 2-1 3-3-2zM139 115l3 2 0 5-2 2-3-2 0-4zM549 115l1-2 2 1-2 2zM138 87l5 0 1 1 0 2-3 4-2 0-3-3 0-2zM598 55l2 0 2 2 0 3-2 2-3 0-2-2zM522 35l2-3 3-1 4 0 1 2-5 4-3 0zM188 17l3 1 0 3-1 1-3 0-1-1 0-2zM72 0l0 3 3 2 2-2 0-3zM12 0l0 3 4 3 1-6z"/>
<path fill="#47df12" d="M216 550l-5 1-10 11 0 5 4 3 9 0 5-4 1-3 0-8zM0 545l0 74 75 0 0-14-1-1-1-14-3-8-12-15-4-2-13-11-8-5-3 0-9-3-4 0-1-1zM151 538l-3 3-7 12-10 11-4 9 0 8 2 4 6 6 4 7 0 5-2 5 0 11 65 0 0-6-1-2-9-8-1-7-4-6-6 0-5 4-4 0-1-1 0-2 3-3 3-1 4-5 1-5 6-11-1-6-2-2-5-2-4-4-4-7-8-7-5-2-3 0zM153 598l3 1 0 4-2 3-1 0-2-3 0-2zM462 556l-2-5-4-4-7-4-9-8-6-3-7-2-4 0-1-1-6 0-1-1-11 1-1 1-10 2-9 5-6 6-2 4 0 11 2 4 7 5 2 4 1 6 5 9-1 3-5 5-3 0-3-3-1-4-5-8-6-6-6-1-2 1-4 5 0 9 2 3 4 3 0 2-3 2-6 0-13-11 0-3 3-7 7-7 1-5-2-5-5-3-5-1-6-3-4-4-3-1-10-7-5 0-4 3-11 5-5 5-11 4-9 8-9 0-9-6-10-2-6-5-5-1-3 3-1 3 0 4 3 7 0 4-6 5-1 2 0 5-1 1 1 20 3 7 1 7 183 0 0-12 1-1 0-5 1-2 5-3 3 0 9-4 11-3 7-4 3-5 0-3 2-5 7-8zM336 590l2 2-1 5-8 7-6 2-3-5 2-4zM96 487l-1 1 0 3 1 1 3 0 2-3-1-2zM267 455l-2 4 1 6 3 5 5 2 2 2 2 5 2 2 4 0 7-6 6-1 3 2 3 4 4 2 8 1 5 3 5 5 3 5 0 2 3 3 3-1 3-3 3-9 6-6 2 0 3-2 2-6 0-4-2-4-9-4-9 0-6 3-5 0-2-1-5-5-3-7-3-2-7 0-7 5-5 2-6-1-8-4-4 0zM206 446l-2 2 0 2 3 5-1 11 3 5 0 3-3 2-9 12-1 5 6 7 7 3 16 0 3-1 4-4 0-5-7-9 1-5 6-4 7 0 3 2 6 1 2-1 2-3-1-7-3-5-13-6-11-9-3-1zM409 430l5 3 19 0 1-1-1-4-4-4-4-2-4 0-6 3zM408 389l0 2 5 0 1-1-1-2-4 0zM425 389l1 4 7 6 3 1 5 0 1-1 0-6-4-5-4-2-5 0zM639 385l-33 2-1 1-4 0-6 2-7 5-1 6-9 8-1 2 1 4 5 5 8 4 24-7 20-2 1 3-4 2-20 2-4 3-5 1-5 3 6 3 3 3 0 2-3 4-15 11-5 7-3 7 0 5-2 6-6 8-2 5 0 5 7 6 0 2-4 3-8 9-3 0-7-7-5 0-12 6-16 3-1-1-16-2-4-4-2-4-5-2-1 1-5 0-10 3-7-6-4-2-3 1-1-1-4 3 0 4 5 5 5 0 5 2 4 7 14 17 5 11 2 2 4 2 11 1 4 2 3 4 8 4 6 6 7 10 0 5-1 2-3 2-24-1-5 2-7 6-7 2-3 2 1 7 1 1-1 3-3 3-8 1 0 4 156 0 0-34-6-1-3-3-1-3 0-13-6-12 0-5 4-8 4-4 4-2 4 0zM496 389l-5-4-7 0-2 1-4 4-2 5-2 2-4 2-5 0-7 3-5 5 0 4 3 4 9 5 3 0 1 1 6-1 7-7 3-5 9-7 3-6zM17 366l-2 2 0 3 2 2 4 0 2-2 0-3-2-2zM39 360l-1 7-1 1 1 10 5 9 4 4 6 3 21-1 4-2 1-2 0-5-2-5-22-22-2-1-9 0zM242 267l-4 3-1 4 4 3 4 0 3-2 0-3-3-4zM520 254l-4 0-8 4-4 8 0 4 2 7 5 6 3 0 5-5 4-7 1-10-2-5zM404 258l-1 8 8 9-8 7-1 3 3 3 3 1 8 0 4-5 0-4-3-6 6-4 3 2 0 2 2 3 3 2 14 5 2 2 0 16 7 10 2 5 8 9-3 4 0 3 1 1 7 2 9-1 3-3 1-4 4-3 0-2 2-2 10 1 4-2 1-2 0-9-2-5-6-8-9-9-4-7-3-9-4-4-2-1-17 1-11-6-13 0-6 2-4-6-9-3-6 0zM639 211l-15 0-5 2-7 8-2-1-7 0-7 5-14 6-9 13 0 9 6 12 3 0 3-2 4 2 0 2-2 2-2 0-4 3-7 17 0 7 3-1 5-4 3 3-10 9 0 8 4 4 3 1 9 0 3-2 4-13 2-2 1-8 2-2 2 0 2 2 0 5 5-3 8 0 6 2 13 0zM109 222l-2-4-3-2-8 0-2-1-12-11-4-6-2-1-9 0-1 1-7 0-8 3-7 7-4 7-3 3-6-3-4 0-1-1-8 0-5 3-2 3 0 8 6 10 4 4 4 2 5 6 4 3 4 0 1 1 14 0 10-3 7-4 4-4 6-3 6-1 8-5 11-1 4-5zM237 194l0 7 3 2 6 0 3-1 3-3 0-4-4-4-5-1-3 1zM302 193l-5-5-4-2-7 0-7 3-8 0-5-2-5 2-4 6 0 4 3 3 7 1 1 1 14-1 4 3 2 5-4 3-1-1-6 0-1-1-12 0-1 1-6 0-7 3-3 3 0 3-1 1 0 11 2 7 2 1 23 0 9 5 9 1 2-5 0-19-3-9 2-2 5-2 5-5 2-6zM524 160l-1-2-2-1-7-1-1-1-8 0-11 4-7-2-7 0-10 4-4 4 0 5 27 0 1 1 6 0 1 1 13-1 1-1 3 0 4-3zM547 148l-1 6 1 2 4 3 7 0 5-6-1-4-3-2-6-1zM46 108l0 14 1 1 5 0 2-2 0-3-3-4-2-6zM97 75l-8 10-2 6 0 11-1 2-7 7-3 5 0 9 1 3 5 5 0 2-5 4-1 6 4 6 2 1 5 0 3-2 2-4 4-4 5-2 5 0 5 3 0 2-4 3 0 3-1 1 1 1 0 3 3 3 8 0 4-3 0-5-5-6 3-2 14 0 1-1 3 0 2-1 2-3 0-5-9-10 0-11-1-2-8-6-1-3 0-10-1-2-15-13zM106 57l0 10 1 3 3 3 6 0 3-1 5-4 2 4 1 7 4 3 3 1 10 0 5-2 3-5 0-5-1-2-6-3-6-7-3-2-5 1-4 4-2 4-3-2-3-5-6-4-4-1zM614 47l-1 1-3 0-3 3-1 11-3 4-2 1-9 0-4 3-1 3 0 12 2 5 6 5 0 2-4 5-11 5-2 2-2 7 0 11 5 16 5 8 1 12 3 4 7 3 15 2 14 10 13 0 0-128-13 1-2-1-4-5zM177 29l0 6 4 5 2 1 6 0 3-3 0-7-5-4-7 0zM146 96l0 8 1 1 0 3-1 1 0 16 2 4 5 3 3 0 8-5 2 2 2 11 4 2 14 0 3-1 4-5 5-4 6 1 7 8 4 0 7-6 3-10 2-2 4 0 6 3 2 0 8 6 6 2 3 3 1 6 3 4 8 1 5-4 6-2 3 1 8 8 3 1 9 0 1 1 1-1 6 0 5 2 6 8 3 1 14 0 3-1 2-4 0-8 1-1-1-1 0-4-5-7-12-3-2-2 0-6 1-3 4-4 7-3 11-2 7-3 4 0 12 8 5 5 2 6 4 3 9 0 8-7 2 0 4 4 3 8 4 4 3 0 1 1 1-1 3 0 12-7 9-2 4-2 7-7 6-3 6 1 6 7 3 2 6 0 3-2 3-9 4-5 2 0 4 5 1 3 6 6 5 3 12-1 9-3 9-5 5-1 3-3 1-10 4-9 1-16 3-7 1-13 5-11 0-6-3-8-6-6-5-2-6 1-7 6-3 1-10 0-2-2 0-3 3-3 11-4 5-7 10-10 2-4 0-6-341 0-1 4-5 4-4 5 0 5-1 1 1 2 0 5 8 9-3 2-5 6-1 16-3 7-4 4-3 5-20 19-2 0-4-5-4-2-3 0-5 4zM497 42l2-2 10 0 3 2 0 4-3 3-5 0-5-2-2-2zM472 36l3-1 2 3-1 1-3 0zM219 32l2-2 3 1-1 3-3 0zM431 12l5 4 2 8 5 5 0 2-2 2-4 1-7 4-3 5 0 6-1 1-1 9-5 6-2 0-8-7-5-2-3-3 0-36 4-4 3 0 1-1 3 1z"/>
<path fill="#6be512" d="M144 604l-4 5-1 10 11 0 0-7-3-6zM199 614l-1-2-8-7-2-6-3-3-4 0-4 2-13 0-5 7 1 14 39 0zM214 557l-5 4-1 2 1 1 5-1 1-2 0-3zM0 547l0 72 74 0-1-24-3-10-5-7-10-10-23-15-18-6zM159 539l-4 0-5 3-6 10-7 7-7 11 0 3-1 1 1 7 13 16 4 0 5-3 10-2 12-8 5-5 5-12 0-4-10-9-3-6-5-5zM459 553l-4-5-4-2-10-9-13-6-17-2-1 1-5 0-10 3-8 4-8 8-1 3 0 8 1 3 9 7 3 9 5 8 0 8-8 8-5 1-10-8 0-8-2-4-4-3-4 0-3 4 0 4 4 4 4 1 4 3-3 4-6 3-3 0-5 2-12 0-6 2-7 4-9 9-2-2-2-5 0-4-1-1 1-8 3-3 12-6 5-5 3-6 8-9 1-4-3-5-15-6-13-9-7 0-3 2-2 0-7 4-5 5-11 4-6 6-7 3-9 0-3-1-8-6-14-4-2 2 0 3 3 7 0 3-6 5-4 5 0 4-1 1 1 15 5 12 0 5 178 0 0-19 1-2 4-3 8-1 17-6 5-3 4-4 4-11 6-8zM464 505l0 3 1 1 5 0 1-1-2-3zM269 458l1 6 3 3 3 1 6 7 2 1 6-4 8 0 4 2 5 5 6 1 9 4 4 3 6 7 3-1 2-7 10-9 3-6-1-3-3-3-3-1-10 0-6 3-6 0-7-6-3-7-6-3-1 1-3 0-10 7-8 0-6-4-5 0zM219 448l-3 2 0 5-5 7 0 4 7 7 1 3-2 2-9 1-4 3-5 7 0 5 4 5 8 3 12 0 6-4 0-6-6-6-2-4 0-3 2-2 8-4 8 0 6 2 4-3 0-5-5-6-6-2-9-6-4-4zM417 428l1 3 3 0 1 1 4 0 4-2 0-2-4-3-5 0zM433 392l1 3 3-1-2-2zM639 386l-26 1-1 1-7 0-7 2-3 2-3 4-1 5-12 10 0 3 4 5 9 4 8-1 3-2 7-2 4 0 1-1 7 0 1-1 7 0 1-1 4 0 1 1 0 2-4 2-15 1-11 4-5 3-2 0 8 4 2 2 0 4-21 18-5 10-2 10-6 11 0 5 2 2 5 2 8 1 4 3 1 6-2 2-15-1-4 2-8 9-3 0-9-8-5 1-7 4-13 2-1 1-21-2-4-2-6-8-7 0-1 1-7 1-6 3 4 9 15 18 3 8 5 5 3 0 1 1 11 0 4 2 4 5 7 4 6 6 6 8 2 5-1 6-6 5-14-1-1-1-9 0-19 10-2 2 0 7-3 4-5 1-1 1 0 3 153 0 0-31-8-1-5-4-1-3 0-14-4-9 0-11 3-7 6-6 5-2 4 0zM494 388l-3-2-7 0-2 1-4 5-1 3-4 4-10 2-5 3-3 5 1 4 3 3 6 3 7 1 4-2 4-4 2-4 6-6 5-3 3-7zM41 361l-2 5 0 10 3 7 5 6 6 3 11 0 1-1 6 0 4-2 1-5-2-4-20-20-4-2-5 0zM405 284l1 2 7 2 4-2 1-4-1-2-2-1-5 0-3 2zM430 267l-1 6 5 6 9 2 6 3 1 2 0 3-1 1 0 10 1 3 4 5 3 8 11 10-3 6 3 2 9-1 2-5 4-4 5-3 3 0 1 1 5-1 5-4 0-8-2-5-8-10-9-9-2-6-5-9-3-2-9 0-4 2-5 0-5-4-7-3-8 0zM519 257l-6 0-5 4-2 5 1 9 2 4 3 2 2 0 3-2 5-9 1-6-1-1 0-3zM408 257l-3 3 0 6 5 4 3 0 1 1 3-1 4-5-1-5-5-3zM250 221l-1 2 0 13 2 3 5 2 21 0 7 4 2 0 3-2 2-6 0-11-4-8-7-3-11-1-1 1-11 1zM639 212l-12 0-1 1-3 0-5 4-1 3-3 3-11-1-6 4-14 6-7 9-2 4 0 7 4 9 3 4 4-2 2 0 2 2 0 2-2 2-2 0-3 2 0 4-3 4-4 10 0 6 5-2 2-2 3 3-9 8 1 10 4 3 7 1 5-3 2-6 0-5-2-4 0-3 3-2 5 1 0-3 2-2 2 0 2 2 0 3 5-2 9 0 7 2 11 0zM108 225l-1-1 0-3-3-3-8 0-2-1-20-19-14 1-6 2-6 6-3 6 0 2-5 8-4 0-4-4-7-3-9 1-4 5 0 5 5 9 6 6 3 1 8 8 7 2 12 0 7-2 6-3 10-8 9-2 9-6 12-2zM242 192l-3 3 0 2 2 3 5 0 3-4-2-3zM301 204l0-8-2-4-6-4-8 0-7 3-5 0-7-2-3 1-3 5 1 3 4 3 18 0 2 1 6 7 5 0 2-1zM520 161l-3-3-7-2-8 1-7 3-5 0-7-2-10 3-3 3 0 3 6 2 18 0 7 2 8 0 9-3 2-2zM549 151l0 4 4 3 4-1 3-3 0-2-3-3-6 0zM113 149l-4 3 0 3 4 3 3 0 3-2 0-4-2-2zM103 78l-6 0-2 1-3 4-3 7 0 12-2 4-7 7-2 4 1 9 7 7 0 3-7 6 0 5 3 3 5 0 6-9 10-5 3 0 7 4 22 0 2-1 2-3 0-3-2-3-1 0-6-7 0-8-1-3-4-3-4-5-1-12-2-3-8-7zM133 59l-3 3-2 6 0 4 2 5 4 3 4 0 1 1 8-2 2-3-1-6-4-2-7-8zM109 58l-1 2 0 6 2 3 2 1 6-1 1-1 0-6-5-4zM614 50l-4 3-2 11-4 5-10 1-4 3-1 3 1 9 2 3 6 3 2 3-1 3-5 6-11 5-3 3-2 12 1 1 0 4 2 6 8 16 0 12 4 5 9 3 5 0 1 1 7 1 8 6 5 2 11 0 0-123-14 0-8-6zM182 30l-2 2 1 5 3 2 4-1 1-1-1-6zM148 121l1 1 0 3 3 3 3 1 2-1 3-4 0-7 4-5 2 1 3 5 0 16 1 3 4 3 10 0 4-2 9-8 6 0 9 8 4 0 5-5 2-7 0-6 2-2 29 14 4 4 2 8 3 2 4 0 8-6 6 0 10 8 5 2 16 0 3 1 7 8 5 2 10-1 3-3 2-5 0-8-5-6-3-1-9 0-4-5 0-9 1-3 7-5 16-3 10-5 6 2 8 6 6 6 3 7 3 3 9 0 6-7 2-1 3 1 4 4 3 9 4 4 9-1 9-6 10-3 10-10 5-3 6 0 10 9 6 1 5-7 4-12 3-2 4 4 1 5 3 6 6 6 4 2 7 0 1-1 8-1 16-7 3-3 1-9 5-13 0-8 4-12 1-14 4-7 0-10-5-8-7-4-5 1-8 6-9 1-6 2-2 5-3 3-8 0-6-2-4-4-2-6 2-2 15 1 4-2 6-7 8-2 3-2 6-8 9-9 2-5 0-3-337 0 0 3-2 4-8 7-1 3 1 8 5 4 6 1 1-1 3 0 7-8 2 0 9 15-2 2-12 0-1 1-13 0-2 1-4 5-1 14-3 7-12 15-15 16-4 1-2-1-5-6-5 0-3 4 0 22-1 1zM468 35l4-3 4 0 5 4 0 3-5 4-4 0-3-3zM404 10l4 0 1-1 8 0 1 1 2-1 11 0 3 1 5 5 2 6 4 4 5 2 4 4 0 1-3 2-14 3-6 5-2 6 0 6-2 7-6 7-5 0-3-2-3-4-6-3-5-6 0-38 1-2z"/>
<path fill="#8eeb10" d="M143 611l-2 4 0 4 7 0-1-6-2-2zM162 605l0 14 35 0-1-5-7-6-5-8-17 1-3 1zM365 582l-1 2 3 1 1-1zM0 548l0 71 73 0 0-15-1-1 0-8-2-7-2-4-12-13-22-14-9-3-7-4-7-1-1-1zM345 561l-5-3-5-1-6-3-12-8-6 0-9 4-8 7-10 4-6 6-8 3-14 0-9-7-6 0-1 1 0 8-1 2-6 4-5 6 0 13 1 1 1 7 4 8 0 6 80 0 0-16-1-2 2-6 3-3 10-4 5-4 6-9 6-6 1-2zM160 542l-6 0-2 1-7 10-7 7-6 10 0 3-1 1 1 5 4 7 7 7 7 0 12-4 11-7 4-4 3-6 1-8-2-3-4-3-5-8-5-5zM455 550l-7-5-7-7-12-6-18-2-1 1-5 0-15 6-9 8-2 7 2 6 10 8 1 5 7 13 1 6-2 5-4 4-8 5-5-1-5-3-7 0-22 9-9 0-3 1-5 5 0 4 77 0 0-8 1-1-1-11 3-4 5-2 6 0 10-3 12-6 4-4 4-8 0-2 6-9 0-7zM201 490l1 6 7 4 10 1 1-1 3 0 4-3 0-4-8-10-3-2-8 1zM285 465l0 3 2 1 13 1 9 7 8 2 12 6 3 0 6-4 6-6 2-4-1-3-3-2-8 0-6 3-8 0-7-5-4-9-3-2-5 1-4 4-10 5zM220 451l-2 7-2 3 0 5 5 6 2 1 4 0 5-2 13 1 2-2 0-3-4-5-9-4-9-7zM639 387l-29 1-1 1-8 1-6 5-1 6-5 5-5 2-3 3 0 4 4 4 9 4 22-7 5 0 1 1 1-1 7 0 1-1 4 0 1 1 0 2-4 2-8 1-1 1-12 1-5 3-4 1 1 2 5 2 4 4 0 2-4 5-11 7-7 7-5 10-3 9 0 4-2 4 0 5 1 2 11 5 4 4 1 2 0 7-3 3-4 0-4-2-10 1-5 6-6 5-3-1-7-7-5 0-9 4-5 0-6 2-10 0-1-1-13-1-4-2-4-6-3-2-5 0-7 2-4 4 2 6 13 15 4 7 1 4 4 4 2 1 6 0 1 1 1-1 9 0 9 10 4 2 5 5 9 13-1 10-5 5-5 1-1-1-13-1-1-1-4 0-7 2-2 2-9 4-5 4-1 6-6 5 0 3 150 0 0-29-11-1-5-4-1-2 0-5-1-1 0-13-2-5 0-13 3-9 8-7 9-1 0-81-1 1-2-2 1-2 2 0zM491 387l-7 0-3 2-4 8-3 3-12 3-5 6 2 6 3 2 7 2 5-1 6-6 1-3 12-10 1-2 0-6zM42 363l-2 5 0 7 3 7 7 7 8 2 1-1 9-1 4-2-1-6-15-16-6-4-6 0zM409 283l0 2 2 1 4-1-1-3-4 0zM432 269l0 5 1 2 5 3 12 2 2 2-1 17 5 8 2 7 2 3 4 3 5 2 5 4 10-5 12-2 4-3 1-2-1-9-5-7-12-12-6-13-5-4-7 0-9 4-8-7-5-2-6 0zM518 259l-5 0-2 1-3 6 0 6 2 5 2 2 2 0 3-2 4-8 0-7zM408 260l-1 5 4 3 6-1 1-4-2-3-3-1zM251 224l0 10 4 5 3 0 1 1 19-1 3 2 5 0 3-6 0-8-1-3-4-5-4-2-3 0-1-1-16 1-6 3zM639 214l-15 0-4 3-2 5-4 4-6-2-6 0-9 5-2 0-6 3-5 5-4 6-1 9 3 7 4 5 5-1 3 3-3 3-3 1 0 4-5 8-3 8 0 5 6-4 3 3-4 5-4 2 1 2 0 8 2 2 7 2 5-3 1-8-3-6 0-3 1-2 4-3 6 2 2-3 2 0 2 3 3 0 1-1 10 0 1 1 7 0 1 1 9 0zM106 223l-3-3-6 0-6-3-15-16-5-2-5 0-1 1-8 1-6 5-8 18-3 2-5-1-6-6-3-1-8 0-4 3-1 4 1 1 0 3 5 8 9 6 6 6 9 3 10 0 12-5 8-7 4-2 7-1 11-7 9-1 2-3zM243 195l0 1 2 0 0-1zM299 203l0-7-4-5-3-1-7 0-8 3-9-1-1-1-3 1-1 4 4 3 8 0 1-1 8 1 9 8 4-1zM518 163l-3-4-7-1-1-1-1 1-7 1-6 3-7-2-5 0-6 2-2 2 0 2 2 1 7 0 1 1 1-1 8 0 8 3 9 0 6-2zM113 153l0 2 3-1zM552 153l1 2 3 0 0-3-3 0zM87 141l-2 0-3 2 0 4 1 1 3 0 2-3 0-3zM97 80l-4 4-2 5 0 12-1 3-8 9-2 4 0 6 1 2 6 6 3 7 5 0 8-4 4 0 7 4 18 0 3-1 1-4-8-8-1-10-8-10-1-12-5-6-8-6zM133 62l-2 3 0 9 1 2 3 2 9 0 2-2 0-4-10-10zM111 61l-1 2 1 3 3 2 3-2-1-4-1-1zM613 54l-2 4 0 4-2 6-5 4-7 0-5 3 0 8 3 3 6 2 3 3 0 3-10 11-9 4-3 3-2 5 0 7 5 14 6 9 0 14 5 6 22 5 5 4 5 2 8 0 3-1 0-119-14 1-5-2-3-3zM184 34l0 1 1 0 0-1zM151 98l0 4 1 1-1 20 2 2 3 0 1-1 1-11 3-3 5-1 4 4 1 3 0 16 1 3 4 3 7 0 14-10 6 0 9 7 5 0 4-6 0-8-4-5 0-3 3-3 3 0 4 5 7 6 7 2 4 3 11 5 4 4 3 8 4 0 7-5 7 0 4 2 7 6 5 2 15 0 1 1 3 0 7 8 5 2 3 0 1-1 3 0 4-3 2-5 0-5-2-4-6-3-10 1-4-5 0-16 5-4 21-4 10-6 5 1 13 11 3 4 3 7 4 3 5 0 2-1 3-5 4-3 6 2 4 6 3 9 3 2 5 0 11-7 5-1 6-3 8-9 9-6 5 2 9 8 5 1 2-1 2-3 3-9 0-4 4-5 3 0 3 2 5 15 2 3 5 4 3 0 1 1 12-1 1-1 3 0 9-5 4-1 3-4 1-10 5-13 0-6 4-11 0-10 1-1 1-7 3-6 0-4-2-5-4-5-3-2-5 0-7 5-15 3-6 10-5 0-1-1-11-2-6-7-5-4-5 2-5 4-4 0-9-10 1-3 8-3 6 1 8 4 7-2 8 3 7 0 9-8 8-2 3-2 6-8 10-10 1-6-332 0-2 8-7 5-2 3 0 7 5 4 5 0 4-3 2-8 2-2 4 0 4 6 3 9 3 3 6 2 2 2 0 3-4 4-3 1-8-3-20 0-3 1-3 4-1 12-4 9-23 28-7 6-4-1-6-6-3 0zM179 104l2-3 3 0 2 2 0 3-2 2-2 0zM401 7l6 0 1-1 24 0 3 1 5 5 3 7 4 4 8 4 6 7-3 2-15 1-7 3-4 5 0 5-1 1 0 4-4 10-5 5-7 0-2-1-7-7-5-2-4-4-1-3 0-38 2-5z"/>
<path fill="#acf00f" d="M165 607l0 12 28 0 0-3-7-6-1-3-3-3-15 1zM405 605l-3-5-3 0-12 7-4 0-8-4-7 0-8 3-10 8-6 3-1 2 62 0zM0 549l0 70 72 0 0-17-1-1 0-7-2-6-5-7-8-8-9-6-23-11-8-5-8-1-1-1zM343 562l-17-8-9-6-7 0-8 4-5 5-11 5-8 7-5 2-11 1-1 1-7 0-7-4-2 0-1 3-5 5-5 2-3 3-2 5 1 13 5 10 1 9 76 0 0-14-1-1 0-7 1-2 5-5 9-3 7-6 3-5 8-9zM159 544l-5 0-4 4-3 5-9 9-4 8-1 5 2 6 5 7 5 3 9-1 9-4 8-5 5-5 2-4 1-6-2-4-5-5-5-8zM438 537l-13-5-13-1-1 1-5 0-11 5-2 0-5 3-5 5-2 4 0 5 5 6 3 1 3 3 3 9 5 8 1 5 3 6 5 1 1-1 9 0 1-1 8-1 12-6 7-7 1-4 6-10 1-10-3-4zM203 491l1 4 6 4 11 0 2-1 2-3-4-7-7-5-5 1zM293 463l0 3 12 3 7 6 17 6 4-1 5-3 3-5-2-3-6 0-7 3-8-1-7-4-2-4 0-3-2-4-2-1-3 1zM222 454l-3 7 0 3 5 6 19 0 2-3-3-4-18-10zM639 388l-18 0-1 1-11 0-1 1-7 1-4 4-1 7-4 4-8 4-2 3 2 4 3 2 7 2 2 2 6-3 3 0 6-3 4 0 1-1 7 0 1-1 10-1 3 3-3 3-3 1-20 2-2 2-7 2 7 3 5 5 0 4-3 3-11 6-8 8-7 15-1 9-1 1 2 7 7 4 6 7 1 10-4 5-3 0-6-3-8 0-2 1-10 11-3 0-9-8-4 0-7 3-5 0-7 2-12 0-1-1-13-1-4-2-7-8-8 1-5 4 1 5 13 15 5 11 4 4 2 1 11 0 10-5 2 2-1 3 1 6 14 13 5 6 3 6 0 8-1 3-5 6-2 1-6 0-1-1-10-1-1-1-7 0-6 2-13 8-6 9-1 5 147 0 0-27-10 0-5-2-4-4-2-7 0-16-1-1 0-15 1-1 1-8 2-4 7-6 11-1 0-74-4-1-4-4 0-4 2-2 6-1zM493 391l-3-3-6 0-4 4-2 6-4 4-4 0-7 2-4 4 0 5 5 4 4 0 1 1 1-1 3 0 3-2 6-10 3-2 2 0 5-4 1-2zM45 363l-2 2-2 5 0 4 3 7 7 7 3 1 6 0 6-2 2-2 0-3-5-7-9-9-5-3zM461 275l-5 7-4 12 2 8 3 5 3 9 3 3 10 4 15-2 9-3 3-4-1-7-6-9-12-12-4-9-6-5-4 0zM434 271l1 4 5 3 9 0 2-2-1-4-4-4-3-1-5 0-2 1zM410 263l1 2 3 0-1-3zM517 261l-4 0-3 4 0 7 2 4 3 0 4-5 1-6zM286 224l-4-4-4-2-6 0-1-1-1 1-7 0-7 3-2 2-2 7 1 1 0 3 4 4 3 1 7 0 6-2 10 1 2-1 2-5zM639 215l-13 0-4 2-4 8-4 3-6-2-6 0-6 3-5 1-4 2-9 10-2 5 1 8 6 9 1-1 3 0 3 3-5 4 1 2-1 4-5 7-2 5 0 5 3-2 2 0 2 2 0 2-6 5 1 3-1 5 3 5 4 1 3-1 2-3 0-5-3-5 0-6 1-2 5-4 6 2 5-1 2 2 3-1 11 0 1 1 7 0 1 1 9 0zM103 223l-1-1-6 0-2-1-21-20-8-1-1 1-4 0-7 5-7 15 0 2-4 5-4 0-4-2-5-5-4-2-5 0-4 2-1 2 0 5 4 7 5 5 5 2 8 7 7 2 9 0 8-3 11-9 15-5 7-6 8-1 1-1zM267 195l1 1 3-1-3-1zM283 194l0 1 10 9 2 0 2-2 0-5-3-4-7-1zM478 165l9 0 1-1-6-2-3 1zM492 165l8 4 9 0 3-1 3-3 0-3-4-3-9 0zM157 100l-2 0 0 6 1 2 4-2 0-3zM96 83l-3 5 0 12-1 1 0 3-10 13 0 6 7 9 5 4 10-4 6 1 4 3 16-1 1-2-6-8-1-10-6-7-1-3 0-8-2-5-6-6-7-4zM135 65l-2 2 0 6 4 3 5 0 1-1-1-4zM615 58l-2 3-1 7-4 6-4 2-5-1-4 2 0 4 1 1 9 2 3 3 1 3-1 3-13 13-7 3-4 3-2 4 0 10 6 14 6 8-1 13 4 5 5 2 14 2 12 6 11 0 0-116-17 0-4-2zM212 14l-3 0-4 3 0 5 1 1 4 1 3-2 0-7zM435 0l0 2 6 7 3 8 4 4 6 3 8 6 15-1 7 3 11-1 6 3 6 0 9-8 6-1 4-2 9-13 7-7 0-3zM170 104l3 10 0 17 1 3 3 2 8-1 7-6 8-4 4 1 8 7 4 0 3-3 1-6-1-3-6-6 0-2 8-7 4 0 2 2 2 6 5 5 6 3 2 0 6 4 9 4 5 4 3 5 5-1 3-2 9 0 5 3 5 5 5 2 17 0 1 1 3 0 8 9 5 1 5-2 2-2 2-5-1-5-4-3-7 0-5 2-5-4-1-2 0-8-1-1-1-10 1-2 3-2 25-4 10-7 6 0 16 15 4 9 4 3 6-2 2-4 4-4 3 0 4 2 5 7 0 3 2 5 4 3 6-1 5-4 13-5 4-5 14-13 4 0 11 11 2 1 4-1 4-8 1-9 1-2 5-4 4 1 3 3 2 5 1 8 2 4 4 4 5 2 8 0 14-4 6-3 3-4 1-10 4-9 1-9 4-12 0-12 1-1 0-4 3-6 0-4-2-4-4-4-5-1-7 4-11 1-4 2-3 5-1 4-2 2-4 0-6-3-9-1-9-9-4 0-7 5-5 0-6-7-4-3-3-1-12 0-8 3-4 5 0 6-6 15-6 5-8 0-9-8-7-3-5-6 0-8 1-1 0-37 1-1 0-6 1-2-180 0 0 6 1 2 5 1 5 4 2 3 3 11 5 4 6 1 3 3 0 3-7 8-3 1-7-2-3-2-18 0-2 1-3 4-1 9-5 11-6 6-15 22 0 2 2-1 5 0 2 1 3 4 0 6-3 3-5 0-5-4-1-5z"/>
<path fill="#c4f40e" d="M356 619l46 0 0-9-3-4-12 4-5 0-10-4-4 0-5 2-6 6zM342 564l-3-3-11-4-11-7-8 0-6 3-8 7-9 4-7 7-7 2-4 0-1 1-4 0-1 1-4 0-1 1-11-1-12 6-3 4 0 4-1 1 1 1 0 7 5 10 2 11 73 0-1-15-1-1 1-10 3-3 6-3 3 0 7-4 5-7 6-6zM0 550l0 69 71 0 0-20-1-1-1-8-3-5-10-10-7-5-21-9-11-8-6-2zM161 547l-3-1-4 1-5 6-6 5-7 11 0 3-1 1 1 6 3 5 6 5 6 0 10-4 10-6 5-7 0-8-7-10zM412 532l-1 1-4 0-6 2-12 6-4 4-2 4 0 6 2 2 5 2 4 4 3 10 3 4 4 10 3 3 3 1 8 0 1-1 5 0 6-2 9-5 6-6 8-16 1-5-2-5-16-14-10-4zM206 490l0 4 2 2 5 2 4 0 5-3-1-4-5-5-6 0zM305 460l-2-1-3 3 0 2 4 0 1-1zM223 459l0 5 1 2 3 2 13 0 2-2-4-4-11-5-3 0zM639 389l-21 0-1 1-10 0-3 1-5 4-1 2 0 6-4 4-7 3-3 3 2 4 11 5 19-6 7 0 1-1 10-1 3 3-3 3-3 1-15 1-12 4 9 5 4 4 1 3-5 5-11 5-9 9-6 14-1 12 2 4 6 4 4 4 2 4 1 12-1 3-3 3-4 0-6-4-6-1-5 2-8 10-5 1-10-8-3 0-5 2-5 0-1 1-6 0-1 1-14 0-1-1-13-1-5-3-5-6-7 0-4 3 0 4 10 11 10 18 4 2 7 0 5-2 6-6 6-1 3 4-3 8 1 4 16 16 5 9 0 9-3 6-5 5-4 1-4-2-8-1-1-1-11 0-11 5-6 5-4 7-1 5 144 0 0-24-13-1-6-2-4-5 0-6-1-1 0-7 1-1 0-6-1-1 0-17 1-1 0-5 1-1 1-7 2-4 6-4 13-1 0-70-6-1-6-8 0-3 3-3 9-1zM491 390l-2-1-5 0-4 5 0 3-2 5-5 2-7 0-2 1-4 5 1 3 4 3 7 0 3-2 2-3 1-5 3-3 5-1 5-4 1-2zM46 365l-3 3 0 8 2 4 8 7 8 0 3-3 0-3-2-4-6-7-4-3zM466 275l-4 4-6 9-2 5 1 7 3 5 2 9 4 4 8 3 10 0 1-1 9-1 4-2 2-2 1-4-1-1 0-3-3-5-14-14-7-12-2-1zM437 271l0 3 6 3 4-1 1-2-1-2-4-3-3 0zM517 264l-3 0-2 2 0 5 1 2 2 0 2-2 1-3zM254 227l1 7 3 3 3 1 6 0 7-3 5 0 5-3 0-7-1-2-7-4-11 0-1 1-3 0-2 1zM639 217l-5 0-1-1-8 1-3 3-2 5-4 4-16-1-11 4-3 2-6 7-3 7 1 6 4 7 2 2 3 0 3 3 0 1-3 2 0 7-5 7-2 5 0 4 3-1 2 2 0 2-3 3 1 2-1 11 5 1 2-2 0-3-5-7 0-4 3-5 7-5 9 3 18 0 1 1 7 0 1 1 9 0zM94 224l-5-6-16-15-5-2-3 0-7 2-4 4-6 13-1 5-4 5-7-1-9-8-3 0-1-1-6 2-1 5 2 5 5 6 10 5 5 5 7 2 7 0 10-4 12-10 7-1 5-2 7-6zM497 164l0 2 4 2 8 0 4-3-1-4-2-1-8 0zM330 141l-4 2-3 3 1 5 3 3 7 0 2-1 2-3 0-6-3-3zM98 85l-3 4-1 14-2 4-8 10 0 5 2 4 9 8 11-4 5 1 6 3 5-2 0-4-2-4 1-5-6-13 0-10-2-4-9-7zM639 61l-5 0-1 1-16 0-2 2-2 10-1 1 0 17-1 2-15 13-10 5-3 6 0 6 3 9 11 16 0 5-1 1 0 7 1 2 6 3 14 2 7 4 3 0 1 1 11 0zM612 154l1-1 3 1-1 1zM442 0l0 5 4 11 4 4 13 8 15 0 4 2 13-1 6 3 6 0 8-8 9-3 4-10 0-11zM175 130l2 3 5 1 6-3 10-8 5 0 9 8 4 0 2-3 0-5-8-7 1-4 12-11 3 0 3 4 1 6 2 4 3 3 12 5 20 12 4 0 1-1 11-2 2 3 9 8 3 1 16 0 3-2-2-8 0-12-2-6 4-5 9 0 1-1 13-1 7-3 7-6 8-1 16 17 3 8 3 3 6-1 3-6 3-3 4 0 8 6 4 12 2 2 4 1 9-6 11-4 18-20 4-2 5 4 2 5 4 4 6 1 3-5 1-11 2-4 5-4 3 0 4 2 3 4 2 6 1 9 4 5 5 2 12 0 12-4 6-5 1-12 4-9 2-12 3-7 0-20 1-1 0-4-4-3-7-2-10 0-1 1-3 0-2 1-3 4-2 6-3 3-4 0-6-4-8 0-2-1-8-8-4 0-7 5-5 1-6-5-1-3-4-4-3-1-13 0-7 5 0 7-6 11-2 6-3 3-5 2-8 0-5-3-5-5-5-2-7-1-3-4 0-3 3-8 0-48-170 0 1 5 7 7 2 4 2 9 4 4 9 2 3 4-1 4-8 10-6 0-8-4-16 0-4 2-1 6-4 11-12 15-6 12 1 3 6 7 0 8-6 5-5 0-1-1-3 2zM287 123l2 3-4 4-2-2 0-2zM379 79l2 3 0 6-4 4-6 1-3-3 1-6 5-5z"/>
<path fill="#dbf90c" d="M362 619l36 0 0-4-1-2-2-1-4 0-1 1-13 0-4-2-6 0-3 2zM0 552l0 67 71 0-1-22-2-7-13-14-9-6-13-4-8-4-8-7-4-2zM339 563l-5-3-7-2-9-6-7-1-8 4-5 5-10 5-5 6-4 2-12 2-9 3-14 0-9 4-3 4 0 10 6 13 1 10 70 0 0-10-2-6 0-9 1-2 4-4 14-5 12-13 2-4zM160 549l-5 0-13 12-4 7 0 3-1 1 1 6 2 4 5 5 7 0 9-4 2-2 5-2 6-7 0-7-6-10-4-4zM395 539l-7 5-3 5 0 5 5 3 2 0 3 3 4 13 6 12 5 4 13 0 12-5 8-7 8-15 1-7-1-3-15-14-10-4-13-1zM209 490l0 4 1 1 6 1 3-2-1-3-4-3-2 0zM228 462l0 2 3 2 5 0 1-1-4-3-3-1zM639 457l-5 0-3-2-9-11-7 0-9 3-6 4-6 7-5 13-1 10 1 3 10 10 3 7 1 14-1 3-4 3-3 0-11-7-4 0-6 5-4 6-3 2-5 0-10-8-9 1-1 1-7 0-7 2-6 0-6-2-6 0-1-1-8-1-3-2-4-5-3-1-6 2 0 4 6 6 7 10 4 10 4 3 3 1 6-1 11-10 2-1 6 1 2 3 0 7-2 4 0 4 17 18 4 8 0 9-5 10-4 4-4 1-5-3-6-2-6 0-1-1-8 1-10 5-5 5-3 7 0 3 141 0 0-22-19-1-5-2-3-4 1-40 1-1 2-20 6-5 3 0 1-1 13 0zM475 407l-3-2-7 1-3 3 0 3 1 2 2 1 6 0 3-3zM586 414l1 2 6 3 2 0 4 3 11-5 24-3 3 3-3 3-22 3-7 3 8 3 10 8 3 1 13-1 0-47-23 0-1 1-8 0-5 2-2 3 0 8-3 3-9 4zM490 391l-2-1-5 1-2 3 0 6 2 1 4-1 4-5zM46 368l-2 3 0 4 2 4 6 6 5 1 4-2 0-4-3-5-8-7zM466 279l-10 14 0 4 6 18 4 3 7 1 1 1 14-1 6-2 3-3 0-6-2-4-17-18-4-7-2-1zM256 227l0 5 1 2 5 3 4 0 15-6 1-2-1-5-2-2-5-2-11 1-4 2zM639 218l-12 0-4 3-2 5-6 5-6 0-1-1-10 0-1 1-3 0-6 3-6 6-3 5 0 9 6 9 3 0 2 2 0 2-2 2 1 7-6 10 0 3 4-1 3-3 6-1 9 4 15 0 1 1 8 0 1 1 9 0zM91 224l-4-6-15-14-7-2-6 2-4 4-6 14-2 8-2 2-6 0-4-2-9-8-6 0-2 2 0 5 2 4 5 5 9 4 4 4 4 2 10 1 9-4 10-9 4-2 10-2 5-5zM499 164l0 1 3 2 6 0 3-2 0-2-3-2-5 0zM334 142l-5 1-2 2-1 3 3 4 5 0 3-3 0-4zM209 120l-1 1 1 5 3 3 3 0 1-1 0-5zM103 87l-3 0-2 2-2 7 0 7-10 14 0 5 3 5 4 4 6 0 4-2 4 0 6-2 0-10-1-1 0-4 1-1 0-15-6-7zM627 63l-1 1-6 0-3 3-1 10-1 1 0 14-2 4-7 4-9 8-10 5-2 3-1 6 1 1 1 7 3 6 12 13 2 1 14 0 5 3 0 2-3 3-3 0-1 1-9-3-5 0-2 1-1 4 3 4 7 2 10 1 10 4 11 0 0-109zM368 99l0 5 1 2 8 7 2 3 2 7 3 3 4-1 3-7 3-3 4 0 6 3 4 4 2 4 1 7 3 3 5 0 6-5 10-3 3-2 4-6 6-6 2-4 8-8 5 0 3 3 2 9 4 4 3 0 3-5 1-12 2-4 5-4 6 0 6 6 2 5 1 11 5 6 3 1 14 0 13-5 2-3 1-12 3-6 2-11 4-10 0-14-2-5-9-8-3 0-1-1-8 1-2 2-4 9-4 4-4 0-5-4-3-1-6 3-2 0-6-9-3-2-4 0-6 5-3 1-8-1-2-1-2-3 0-5-1-2-8-3-5 0-5 2-2 2 0 5 4 4-6 3-4 4-2 6-4 6-8 3-6 0-6-2-4-4-4-2-9 0-2 1-2 3 0 6 2 4 4 3 1 2 0 5-7 10-3 1-7-6-6 0zM445 0l1 11 2 5 2 2 13 8 12 0 9 3 12-2 6 3 4 0 8-8 5-2 3-3 1-11 1-1 0-5zM177 128l2 3 5 0 5-3 7-7 9-3 2-4 16-17 4-1 3 3 2 12 2 4 4 3 28 14 7 0 4-2 3-6 4-4 5 0 5 4-1 3-4 5 0 4 4 4 4 2 8 0 6-2 1-2 0-14-2-4 0-7 4-4 18 0 1-1 5 0 7-3 6-6 10-4 2-3 1-7 3-5 14-11 2-5 0-6 6-13 0-45-164 0 1 5 6 9 3 11 4 3 10 2 2 2 0 5-4 7-1 6-3 3-6-1-12-5-13 0-4 2-7 18-9 10-5 9 0 6 5 9 0 8-1 3-5 4-5 0-4 3zM273 59l5 1 2 3-1 4-4 3-3-1-3-4 1-4z"/>
<path fill="#f3fd0b" d="M338 565l-3-3-7-2-12-7-6 0-6 3-6 6-5 2-8 9-4 2-10 1-13 4-14 0-8 3-3 4 0 7 7 16 0 9 68 0-1-11-2-6 0-9 1-2 5-5 15-5 10-11zM0 553l0 66 70 0 0-13-1-1-1-13-3-5-6-6-15-10-6-1-11-4-6-4-6-6-4-2zM160 551l-4 0-14 12-2 4-1 8 4 8 3 2 9-1 13-7 4-5 0-7-3-6-5-6zM413 534l-10 3-10 5-4 4-1 6 8 5 3 11 8 17 5 3 10 0 10-4 11-10 3-5 0-2 3-4 1-9-1-2-15-14-4-2-8-1-1-1zM639 460l-6-1-13-12-9 0-6 2-8 7-4 8 0 3-2 5 0 10 8 9 3 5 2 7 1 10 2 5 0 4-2 2-7 1-5-2-7-6-5-1-7 6-4 6-5 2-5-2-5-5-4-2-12 1-7 2-12 0-5-2-15-2-7-6-5 0-1 1 1 3 6 6 6 10 3 8 4 3 7 0 2-1 3-4 9-8 5 0 2 1 3 4 0 9-2 7 7 9 11 11 3 7 0 11-3 6-8 11-3 0-6-5-5-2-13-1-8 3-8 7-2 5 0 4 138 0 0-19-23-1-5-2-5-8 0-4 4-7 0-3 1-1 0-23 2-7-1-10-2-7 2-3 5-2 4 0 1-1 17 0zM472 408l-4-1-4 3 0 2 4 2 4-3zM487 391l-3 1-2 3 0 2 2 2 4-1 1-2 0-3zM639 390l-32 2-5 3 0 10-3 3-9 4-1 3 12 6 9-4 25-3 2 2 0 2-2 2-10 1-1 1-7 0-10 3 20 10 12 0zM47 371l-1 1 0 3 3 5 4 3 4 0 1-1 0-3-6-7zM468 282l-10 11 0 5 3 7 0 4 2 5 2 2 5 2 18 0 5-2 3-4 0-3-3-6-21-22zM258 232l1 2 5 2 1-1 3 0 8-4 3-3 0-3-4-3-11 0-6 5zM639 221l-12-1-4 4-1 4-4 4-3 0-1 1-10-1-1-1-8 1-5 2-5 4-4 6-1 9 5 8 5 4-1 4 1 1 1 10 1 1 5 1 7 4 3 0 1 1 12 0 1 1 7 0 1 1 10 0zM88 222l-2-3-15-14-2-1-8 0-3 2-2 3 0 2-6 13-1 7-2 3-6 1-7-4-9-8-4 0-2 2 1 6 4 5 10 4 6 5 4 2 11 0 5-3 11-10 4-2 5 0 5-2 3-4zM508 163l-3-1-2 1-1 2 4 1 2-1zM639 169l0-10-13-1-7 3-7 0-5-2-4 0-1 1 0 3 3 2 12 1 8 3zM331 144l-2 2 0 2 2 2 2 0 2-2 0-3-1-1zM213 124l-1 1 1 1 1-1zM191 119l-9 0-3 4 1 4 1 1 6-1 2-2zM105 90l-4 0-1 1-2 6 0 7-2 4-8 9 0 5 6 7 6 0 9-4 0-4-5-6 0-2 7-8 0-9-1-2zM639 64l-13 1-5 2-3 7 0 17-1 1 0 3-5 5-6 2-10 8-2 0-5 3-3 4 0 9 5 11 12 10 3 0 1 1 11 0 8 3 13 0zM547 63l-5-7-6-5-5-2-5 1-2 2-4 9-5 5-3 0-7-4-2 0-7 6-2 0-2-2-2-4 0-3-4-6-3 0-8 5-34 1-3 1-3 3-3 9-5 4-3 0-1 1-14 0-12-6-3 1-2 2 0 2 5 7 1 9-1 3-5 6-2 6-2 2-6 0-6-8-3 0-1 1 0 3 7 6 3 11 2 2 2 0 2-2 2-8 2-2 5 0 7 4 6 6 3 12 1 1 4 0 6-5 12-4 10-12 7-12 5-4 6 0 5 5 0 8 3 4 3 0 1-2 0-11 3-7 7-6 6 0 4 3 4 6 0 2 2 3 0 9 2 5 2 2 3 1 15 0 10-3 3-4 1-12 3-7 1-8 5-12zM443 46l0 1 3 2 8 0 2-1 0-3-4-2-5 0zM448 0l0 11 1 3 5 5 11 6 12 0 4 2 8 0 4-2 4 0 4 2 4 0 7-7 3-1 3-3 2-6 0-10zM194 115l1 1 3 0 6-2 12-11 2-4 6-6 5-1 3 3 2 17 5 5 20 10 9 3 7-2 3-5 5-5 2-1 6 1 6 5 0 4-4 4-1 5 3 3 3 1 4 0 5-2 2-3 0-4 1-1-1-7-2-4 0-6 1-2 4-4 17 1 1-1 6 0 6-2 3-2 4-5 10-6 4-12 7-6 8-9 3-11 5-9 0-3 1-1 0-38-1-3-158 0 1 6 5 8 1 7 4 5 2 1 8 0 6-2 2 2 0 3-3 4 0 2-4 7 1 11-3 3-5 0-15-7-7-1-1-1-2 1-5 0-3 2-8 17-9 10-4 8 0 4 4 7zM270 56l8 0 4 4 1 4-2 5-4 3-5 0-4-3-2-5 0-4z"/>
<path fill="#fdf40c" d="M541 613l-1-3-5-6-5-2-7-1-1 1-7 1-5 3-4 4-2 4 0 5 37 0zM335 564l-6-3-2 0-10-6-5-1-5 2-6 6-7 4-4 7-5 4-14 1-14 4-13 0-8 3-1 2 0 9 6 11 1 12 64 0 0-8-4-14 2-8 7-6 11-2 4-2 8-9zM162 554l-6 0-10 7-4 5-1 7 1 1 0 3 4 5 3 1 4-1 13-6 4-5 0-6-3-6zM0 554l0 65 69 0 0-18-1-1 0-5-2-5-9-9-13-8-7-2-4 0-8-3-14-12zM415 535l-1 1-7 1-11 5-4 4 0 4 5 4 2 4 2 10 5 9 2 6 5 4 8 0 10-4 9-8 8-14 1-6-14-15-9-4zM496 522l1 5 4 6 0 2 3 6 4 3 6-1 12-15-12-5zM531 527l0 1 6 3 3 4-1 19 16 17 2 3 2 6 0 4 1 1-1 8-9 14-2 7 0 5 91 0 0-14-12-2-1-1-18 1-3-4-1-5-3-6 0-4 6-7 2-5 0-21 1-1 1-7-3-9-4-4-11-4-9-7-5 1-3 3-1 3-7 6-5 0-4-2-7-6-14 0zM603 452l-4 4-3 5-1 7-1 1 0 13 8 10 2 4 3 14 5 7 6 2 21 0 0-57-3 0-5-2-9-9-4-2-8 0zM485 393l-1 3 2 1 1-3zM639 391l-25 1-1 1-6 0-2 1-2 3 2 7-1 3-2 2-8 3-1 3 8 5 3 0 6-3 4 0 1-1 20-2 2 2 0 2-2 2-10 1-1 1-7 0-1 1-4 0-3 2 7 2 13 6 10 1zM461 292l-1 6 2 5 0 5 2 5 2 2 6 2 15 0 5-2 2-2 0-6-2-3-17-18-6-1zM585 240l-3 5 0 3-1 1 1 5 8 11 3 12 2 2 16 7 9 0 1 1 7 0 1 1 10 0 0-64-12-1-2 2-1 5-5 4-9 1-1-1-13-1-7 3zM276 225l-4-2-8 1-4 3 0 5 2 2 5 0 4-2 5-5zM86 223l-16-17-2-1-6 0-3 2-7 15-1 12-5 4-6 0-2-1-12-12-4 0-1 1 0 4 5 6 6 2 4 0 2 1 4 5 4 2 7 0 4-2 7-7 8-6 11-2 3-3zM623 165l3 0 1 1 12-1 0-1-7 0-1-1-7 0zM304 125l-7 6-1 5 5 1 4-2 1-2 0-5zM384 115l-1 1 0 3 1 2 2 0 1-3-1-3zM91 116l-1 3 1 4 4 4 5 0 5-2 1-2-8-11-4 1zM105 93l-2 0-2 2-1 8 2 4 4-1 3-4 0-5zM639 66l-9 0-6 2-3 5-1 22-1 2-4 4-9 3-6 5-9 4-3 3-1 9 4 10 6 6 7 4 19 2 1 1 15 0zM546 65l-4-6-10-7-4 0-3 2-5 11-3 3-5 1-6-3-2 0-8 7-3 0-2-2-3-6-1-6-2-2-4 0-8 4-29 0-1 1-3 0-3 2-2 5 0 3-5 5-7 1-1 1-15 0-1-1-5 1-1 2 0 14-5 8 0 4 15 12 2 4 1 8 2 2 3 0 6-5 10-2 10-12 7-14 5-5 2-1 6 0 6 3 3 0 10-11 4-2 6 0 5 5 4 8 0 2 2 3 0 10 3 5 2 1 17 0 1-1 4 0 5-4 1-14 1-1 3-14 4-7zM450 5l1 8 2 3 4 3 8 4 9 0 10 3 12-4 8 1 7-7 3-1 2-4-1-11-64 0 0 4zM196 110l2 2 7-1 8-7 6-10 9-7 4 0 2 2 1 20 1 3 4 4 9 4 2 2 13 5 7 0 2-1 10-11 6 0 11 5 3 0 3-11 5-4 24 1 7-3 9-9 5-3 4-12 12-11 5-8 3-12 2-2 2-5 0-41-153 0 0 5 4 7 1 6 3 6 2 1 6 0 5-4 4-1 6 7 1 5-5 3-5 7 0 5 1 2 4 4 3 1 2-1 6 0 5-2 6 0 5 5 1 9-2 4-4 4-2 1-8 0-4-3-4-10-3-2-15 1-9-5-11-4-9 0-4 3-8 16-8 8-3 5 0 7 3 5 0 12z"/>
<path fill="#f9de0f" d="M624 609l-2-2-5 0-2 1-2 3-1 8 10 0 0-4zM507 615l0 4 31 0 0-5-3-7-4-3-3 0-1-1-6 0-7 3-5 5zM333 566l-2-2-6-2-8-5-5-1-3 1-13 12-2 6-5 4-3 1-15 0-9 3-19 1-5 2-2 3 0 4 7 15 0 11 62 0-1-8-4-11 0-7 2-6 7-6 15-3 6-6zM162 557l-2-1-4 1-11 8-1 2 0 7 3 4 6 0 7-3 3 0 4-3 1-6-2-5zM0 556l0 63 68 0 0-20-1-1 0-4-2-4-6-6-15-9-17-3-9-6-3-4-5-4-6-2zM412 537l-14 6-3 3 0 2 6 9 1 7 5 9 3 10 5 3 5 0 8-3 10-9 9-15 0-4-1-2-15-14-6-2zM500 524l-1 2 6 13 4 3 4-1 3-3 4-9-3-3-5-2zM585 523l-4 0-10 11-3 1-6-1-13-8-5 0-4 2 3 8-1 10-1 1 0 6 2 4 15 14 2 4 2 12 1 1 0 5-2 4-6 6-3 7 0 9 48 0 0-24-3-6 0-7 6-5 3-4 0-3 1-1 0-18 2-7-1-1 0-3-4-6-13-6zM604 453l-3 3-3 6 0 16-1 2 2 5 6 8 4 14 5 6 4 2 4 0 1 1 16 0 0-52-5 0-5-2-7-8-7-3-6 0zM607 395l-2 3 2 4 0 5-2 3-3 2-2 0-2 3 6 5 6-3 4 0 1-1 20-2 2 2 0 2-2 2-10 1-1 1-7 0-6 2 20 7 8 0 0-39-24 1-1 1-5 0zM463 293l-1 5 1 1 1 11 3 4 2 1 5 0 1 1 12 0 5-3 1-3-2-5-16-16-6-1zM587 240l-4 7 0 5 4 7 3 3 3 9 3 5 5 2 9 6 11 1 1 1 7 0 1 1 9 0 0-50-16 1-1-1-15 0-5-2-9 0zM23 227l1 5 4 3 3 0 0-2-4-5zM272 226l-2-1-6 1-2 3 0 2 1 1 4 0 4-3zM69 207l-6-1-4 4-6 16 1 2 0 8-8 6 2 2 6-1 16-14 11-2 2-2 0-2-3-5zM95 118l-1 3 3 3 3 0 1-2-4-4zM639 68l-8 0-6 3-2 4 0 24-3 3-5 2-7 1-8 6-2 0-6 3-3 3-1 7 4 10 6 6 5 3 7 1 1 1 28 0zM483 61l-3 0-4 2-30 0-1 1-3 0-3 2-2 8-4 4-6 2-21 1-3 3 0 11-3 7 0 4 1 2 11 10 2 4 0 5 2 4 2 0 6-5 10-2 8-10 6-14 7-8 5-2 13-1 7-5 7-7 0-8-1-1 0-3zM532 56l-4 0-3 3-3 8-5 5-13-1-4 5 1 12 2 7 4 7 0 3 1 1-1 1 0 5 2 3 3 0 1 1 16 0 3-1 3-4 0-11 2-6 0-5 7-13 1-8-3-6-5-2zM257 41l-1 5 3 3 6 1 3-1 2-3-1-4-3-3-5-1zM453 0l0 12 1 2 11 7 8 0 9 3 4 0 3-1 9-7 0-3 1-1-1-12zM197 106l2 3 5 0 5-3 7-12 8-8 7-4 3 0 3 5-1 17 1 1 0 5 1 2 6 5 12 6 7 2 7 0 2-1 12-13 3 0 7 4 5 0 2-2 2-5 7-5 9 0 6 2 8 0 6-2 3-2 3-5 9-8 2-11 3-3 6-3 4-4 5-8 2-6 0-4 4-8 1-8 1-1 0-32-149 0 0 4 5 10 0 3 2 5 6 1 7-6 4 0 4 3 6 8 8 3 4 4 3 6 0 2 8 14 1 7-4 7-4 4-2 1-12 0-4-2-4-5-1-3-3-2-12 0-9-6-13-5-6 0-4 3-4 9-4 6-9 9-2 4 0 3 4 6zM246 70l1 3-3 2-1-3z"/>
<path fill="#f6c913" d="M511 615l0 4 24 0 0-5-2-5-3-3-3-1-5 0-5 2-4 4zM165 566l-3-5-4-1-8 4-3 5 2 2 14 0 2-3zM329 566l-12-7-6 0-4 3-6 8-2 9-2 2-7 2-18-1-1 1-10 1-1 1-10 0-1 1-8 1-3 5 1 1 0 3 5 9 1 14 58 0-1-7-4-9 0-18 1-3 2-2 9-3 10 0 3-1 5-5zM0 559l0 60 67 0 0-22-5-9-7-5-13-6-15-2-10-6-8-8-4-2zM415 538l-14 6-2 2 0 2 3 5 2 8 2 2 3 0 4-2 2 0 3 2 1 2-1 3-7 6 0 6 1 2 3 2 7 0 6-3 9-10 8-12 0-5-12-12-6-3zM593 531l-6-2-5 0-5 5-8 4-7-1-11-6-3 0-2 2-3 19 4 7 14 11 2 6 0 4 4 11-1 6-10 11-1 3 0 8 42 0 0-18-5-12 0-9 4-4 5-2 3-4 0-3 1-1 1-24-4-6zM504 525l-2 2 0 2 4 8 3 2 2 0 3-3 2-6-1-2-3-2zM606 454l-4 4-1 3 0 5 3 7-2 10 6 10 1 6 2 4 4 4 5 3 6 2 13 1 0-46-7 0-4-2-7-8-5-3-3 0-1-1zM608 397l0 3 2 3 0 6-6 7 3 3 3-2 4 0 1-1 20-2 2 2 0 2-2 2-21 3 3 0 17 6 5 0 0-36-20 1-1 1-7 0zM465 295l0 11 2 6 5 2 5 0 1 1 7 0 5-3 1-2-1-3-9-10-6-5-5-1zM589 240l-4 7 0 5 7 10 3 8 3 3 7 3 4 5 4 2 10 1 1 1 7 0 1 1 7 0 0-45-19 1-4-2-11-1-7-3-3 0zM67 208l-4 0-3 4-2 8-2 3 0 4 2 3 4 0 2-2 6-3 6-1 2-2-6-10zM590 119l0 8 4 8 5 4 9 4 31 0 0-37-27 0-13 7-6 2zM630 71l-4 4 0 12 1 3 2 2 10 0 0-22zM483 68l-2-2-36 0-4 3-1 6-7 6-3 0-1 1-12 0-1 1-6 0-4 3 0 3-1 1 1 1 0 16 1 2 8 7 2 7 2 2 4-2 10 0 6-8 4-11 7-12 13-8 13-2 6-6 1-2zM539 64l-11-1-2 2-2 7-3 3-12 1-2 1-1 2 0 6-1 1 1 9 6 8 1 6 3 3 4 0 6 2 3 0 4-2 1-24 2-5 5-5 2-5 0-5-1-2zM237 62l-7-4-3 0-5-2-2 0-4 3-2 6-7 8-8 7-2 4 2 5 5 5-4 7 0 4 1 1 4 0 3-2 3-9 15-14 9-3 2-2 3-8 0-3zM261 44l3 1 0-2zM456 0l0 12 4 4 6 3 8 0 8 3 3 0 2-1 6-7 0-14zM240 112l5 4 12 6 12 1 5-4 11-16 3 0 3 5 3 3 4-1 6-7 5-2 9 0 5 2 12 0 4-2 12-17 0-8 4-4 2 0 6-3 5-6 0-2 2-3 3-9 0-3 5-10 0-4 1-1 0-31-29 0 0 5-1 1 1 16-4 4-7 3-3 0-3-3 0-3 6-11 0-12-60 0 0 4-5 5-10-1-3-3 0-5-25 0 1 7 3 5 1 6 2 2 4-1 1-2 5-4 5 0 11 12 7 2 5 4 9 20 8 12-1 4-10 11-3 1-16-1-5-2-4-4-5-1-7 7-6 2-2 3 0 8-1 1 0 15z"/>
<path fill="#f2b316" d="M516 619l15 0 0-6-1-2-4-3-5 1-4 4zM293 589l-18-5-8 1-1 1-17 1-6 2-2 3 0 2 5 11 0 14 54 0 0-5-5-9 0-6-1-1 0-7zM0 563l0 56 66 0 0-22-2-5-5-5-9-4-4 0-7-4-15-2-4-2-12-10-4-2zM308 568l0 3 2 2 12 0 3-4-4-5-4-2-5 0zM415 540l-7 3-4 3 0 6 2 5 2 1 9 0 6 5-1 6-8 8 0 3 2 2 5 0 4-2 5-5 4-8 7-6 2-5-12-13-8-3zM596 535l-6-2-5 0-5 2-6 5-3 1-5 0-11-4-4 0-2 1-3 7 0 8 2 4 4 4 11 5 2 5 0 5 2 7 6 10-1 5-12 11-1 10 35 0 0-15-2-5-7-7-1-3 1-1 1-8 5-6 7-3 4-4 0-3 1-1 1-19-2-4zM506 528l0 3 2 2 2 0 1-1 0-3-1-1zM607 457l-2 3 0 2 3 5 3 11 7 6-1 3-4 5 1 5 4 3 8 0 8 7 5 0 0-34-12-2-4-3-3-5-5-5-2-1zM613 397l-1 1 0 3 2 3-1 13 2-1 20-2 2 2 0 2-2 2-12 2 9 3 7 0 0-31zM470 295l-3 4 1 10 4 3 14 1 2-2 0-2-8-10-5-4zM591 241l-3 5-1 4 2 5 10 14 7 2 4 4 1 3 6 4 10 1 1 1 11 0 0-40-5 0-12 5-5 5-2 0-2-3 0-3-2-4-11-5-6 0zM64 210l-3 6 0 4 2 2 6-1 2-2 0-4-4-5zM591 120l0 6 3 7 4 4 6 3 7 1 1 1 27-1 0-32-26-1-7 3-4 3-3 0-5 2zM254 76l-11 6-2 3 0 3-1 1 0 19 3 5 16 8 9 0 5-4 5-7 3-9 3-4 3-7-1-3-6-5-7-1-1-1-5 0-9-4zM634 73l-4 3 0 7 3 3 6 1 0-14zM473 70l-26 0-2 1-3 8-5 4-3 1-9 0-1 1-11 0-2 1-2 3 0 3 1 1 0 9 2 5 7 7 2 4 6 3 6-1 5-10 1-6 7-12 6-6 3-1 7-6 12-2 2-2 0-3zM539 69l-6 1-7 9-13 2-3 5 0 8 1 2 7 7 3 5 6 3 2 0 2-2 0-19-1-1 0-5 4-5 5-3 1-2 0-4zM235 66l-3-3-5-2-5 1-2 4-18 16 0 4 5 3 4 0 4-2 10-10 7-2 3-3zM460 0l0 11 1 2 6 3 9 0 4 2 6-1 2-5-1-12zM375 0l-17 0-1 11 4 9-7 6-6 3-2 0-8 5-5 0-3-3-1-9 3-6 0-8-5-3-23 0-5 2-7 8-7 2-3 2-10-3-2 1 2 3 9 0 2 2 2 5 1 8 6 14 12 14 0 3-8 9-3 14-1 1 1 7 3 5 3 0 9-3 9 0 1 1 13 2 1-1 3 0 4-3 6-13 0-7-4-6 3-3 5 0 1 1 1-1 6 0 7-5 2-10 9-20 0-11-1-1 0-5 1-1zM240 0l1 6 4 6 2 0 3-2 5-6 0-4z"/>
<path fill="#ea9e1d" d="M590 603l-5-4-5 0-2 1-13 12-1 7 27 0 0-13zM244 593l0 3 4 10 1 13 46 0 1-1-4-8-1-9-2-5-6-6-5-3-25 1-6 2zM0 568l0 51 66 0-1-23-4-6-7-4-10 0-8-5-12-1-6-3-9-7-4-2zM408 549l1 4 6 2 4 0 9 5 6 0 4-2 0-4-3-4-6-5-5-2-9 0-4 2zM594 537l-9-1-5 2-7 6-8 0-6-2-6 0-2 1-2 3-1 5 2 5 5 4 7 1 3 2 3 8 0 5 3 6 3 2 4 0 4-6 5-5 10-5 3-4 1-10 1-1 0-7-2-4zM639 396l-6 0-1 1-4 0-10 3 4 11 4 4 7-1 0-2 3-3 3 0zM471 300l0 7 2 2 10 1-1-4-6-6-2-1zM618 275l2 3 7 3 12 2 0-8-10 0-1 1-3 0-5-2zM596 242l-3 2-2 4 0 3 4 7 5 5 5 1 2-2-2-6 1-8-2-3zM593 120l-1 4 3 8 4 4 4 2 7 2 29-2 0-26-25-2-9 5-7 1zM426 106l-1 1 0 5 4 3 2-2 0-5-2-2zM517 87l-1 5 7 7 2 0 0-8-1-3-2-2zM245 83l-3 6 0 9-1 1 0 5 2 6 4 4 10 5 10 0 3-2 5-6 3-6 0-3 2-5 0-9-1-2-5-3-8-1-8-3-4 0zM305 11l-2 1-7 8-3 1-3 4 0 11 5 13 7 7 5 2 3 3 0 5-9 9-2 5 0 15 3 2 15 0 1 1 10 1 1 1 5-1 5-6 1-3 0-8-8-6 0-4 7-10 3-2 9 6 6 0 2-1 3-4 1-7 5-9 3-12-1-3-5-2-9 1-11 4-9 7-4 0-3-2-3-8 1-17-3-2z"/>
<path fill="#e08927" d="M586 606l-3-2-3 1-9 9-1 5 16 0 0-4 1-1 0-6zM248 592l-1 2 0 5 2 4 3 16 25 0 1-4 8-7 0-3 1-1-1-1 0-3-3-5-7-6-17 0-1 1-6 0zM0 572l0 47 64 0 0-22-1-3-3-3-6-3-12 1-7-5-14-2-16-10zM594 540l-6-2-5 1-10 9-7 0-1-1-9-1-4 3 0 5 5 4 6 0 2 1 4 5 1 7 2 4 2 2 3 0 5-4 13-7 4-6 1-11-2-5zM594 122l0 5 2 4 3 3 6 3 12 1 1-1 21-2 0-20-24-3-11 6-8 1zM250 83l-2 1-4 5 0 7-1 1 1 11 5 5 8 4 8 0 7-6 4-7 0-4 1-1-1-10-3-3-5-2-4 0-6-2zM365 33l-10 0-8 3-3 3-4 8 0 3 3 5 9 8 5 0 3-4 1-6 3-5 3-9 0-3zM309 15l-2 1-7 8-3 1-3 4 0 10 3 8 6 6 8 2 3 3 0 3 1 1-1 8-10 8-1 3 0 11 5 3 10 0 7 2 7 0 5-6 0-6-9-9 0-4 3-3 4-7 1-10 1-1-3-4-6-2-4-5-1-22-1-2-2-1z"/>
<path fill="#d47430" d="M252 592l-3 4 0 3 6 15 0 5 17 0 1-5 6-5 3-4 0-5-4-7-3-2-19 0-1 1zM0 576l0 43 63 0 0-21-1-3-5-4-7 0-4 2-4 0-9-6-8 0-18-10zM590 541l-6 0-4 3-2 5-4 4-4 1 0 5 1 1 1 7 2 4 2 1 5-1 11-6 5-6 0-3 1-1-1-7-1-2zM596 123l1 6 4 4 5 2 19-1 1-1 3 0 8-5 2 0 0-4-1 1-5-6-10-4-8 0-9 5-5 0zM250 86l-3 3-1 3 0 14 5 6 6 3 7 0 4-3 5-8 0-3 1-1-1-8-2-3-4-2-9-1-1-1zM309 79l-2 4 0 6 1 2 2 1 19 2 2-1 3-4-1-4-11-9-5 0zM361 37l-7 0-4 2-3 5-1 7 2 5 4 4 4 0 3-5 4-12 0-4zM310 19l-3 5-8 7-1 2 0 10 6 7 9 1 4 3 1 13 3 4 3 0 6-5 2-4 0-6-1-3-4-4-3-1-3-4-1-3 0-10 1-1-1-9-4-3z"/>
<path fill="#ca5f3a" d="M252 596l0 5 2 5 4 4 2 4 0 5 8 0 0-8 3-3 5-2 2-2 0-5-2-4-4-2-4 0-1 1-11-1zM54 593l-4 3 0 4 3 5 0 14 8 0 0-22-3-3zM0 581l0 38 37 0 0-12 1-1 0-8-1-2-4-4-3-1-10 0-2 1-7-8-7-3zM591 545l-2-1-5 0-2 3 0 7-7 6 0 5 1 2 2 1 5-1 11-8 1-2 0-6zM627 122l-4-3-7 0-8 4-6 0-2 1-1 3 2 3 4 2 7 0 6-2 6 0 3-3zM255 90l-2 1-3 4 0 9 6 7 5 1 2-1 6-8 0-7-1-2-4-3zM312 84l0 3 5 3 9 0 2-1 0-4-6-4-7 0zM322 53l-1 1 0 10 2 2 4-1 2-3 0-5-3-4zM357 42l-3 0-4 5 0 6 2 3 3 0 3-6 0-7zM315 22l-5 3-1 3-8 9 0 4 2 4 6 3 6-1 2-3 0-3-1-1 1-16z"/>
<path fill="#c4553f" d="M256 597l-1 3 2 2 2 0 2-2 0-2-1-1zM310 39l-3 1 2 2z"/>
</g>
</g>
<rect x="580.6" y="33.0" width="316.9" height="307.5" fill="none" stroke="#0a0a0a" stroke-width="1.7"/>
<line x1="631.5" y1="29.3" x2="631.5" y2="33.0" stroke="#111" stroke-width="0.8"/>
<line x1="631.5" y1="340.5" x2="631.5" y2="344.2" stroke="#111" stroke-width="0.8"/>
<line x1="738.4" y1="29.3" x2="738.4" y2="33.0" stroke="#111" stroke-width="0.8"/>
<line x1="738.4" y1="340.5" x2="738.4" y2="344.2" stroke="#111" stroke-width="0.8"/>
<line x1="845.3" y1="29.3" x2="845.3" y2="33.0" stroke="#111" stroke-width="0.8"/>
<line x1="845.3" y1="340.5" x2="845.3" y2="344.2" stroke="#111" stroke-width="0.8"/>
<line x1="576.9" y1="134.5" x2="580.6" y2="134.5" stroke="#111" stroke-width="0.8"/>
<line x1="897.5" y1="134.5" x2="901.2" y2="134.5" stroke="#111" stroke-width="0.8"/>
<line x1="576.9" y1="238" x2="580.6" y2="238" stroke="#111" stroke-width="0.8"/>
<line x1="897.5" y1="238" x2="901.2" y2="238" stroke="#111" stroke-width="0.8"/>
<text x="514.5" y="33.0" text-anchor="start" font-size="29.5" font-weight="bold" font-family="'Liberation Serif','DejaVu Serif',serif" fill="#111" textLength="38" lengthAdjust="spacingAndGlyphs">(b)</text>
<text x="631.3" y="25.3" text-anchor="middle" font-size="21.5" font-weight="bold" font-family="'Liberation Serif','DejaVu Serif',serif" fill="#111" textLength="97.5" lengthAdjust="spacingAndGlyphs">91°40'0&quot;E</text>
<text x="631.3" y="365.8" text-anchor="middle" font-size="21.5" font-weight="bold" font-family="'Liberation Serif','DejaVu Serif',serif" fill="#111" textLength="97.5" lengthAdjust="spacingAndGlyphs">91°40'0&quot;E</text>
<text x="738.4" y="25.3" text-anchor="middle" font-size="21.5" font-weight="bold" font-family="'Liberation Serif','DejaVu Serif',serif" fill="#111" textLength="86.5" lengthAdjust="spacingAndGlyphs">92°0'0&quot;E</text>
<text x="738.4" y="365.8" text-anchor="middle" font-size="21.5" font-weight="bold" font-family="'Liberation Serif','DejaVu Serif',serif" fill="#111" textLength="86.5" lengthAdjust="spacingAndGlyphs">92°0'0&quot;E</text>
<text x="845.5" y="25.3" text-anchor="middle" font-size="21.5" font-weight="bold" font-family="'Liberation Serif','DejaVu Serif',serif" fill="#111" textLength="97.5" lengthAdjust="spacingAndGlyphs">92°20'0&quot;E</text>
<text x="845.5" y="365.8" text-anchor="middle" font-size="21.5" font-weight="bold" font-family="'Liberation Serif','DejaVu Serif',serif" fill="#111" textLength="97.5" lengthAdjust="spacingAndGlyphs">92°20'0&quot;E</text>
<text x="572" y="135" text-anchor="middle" font-size="21.5" font-weight="bold" font-family="'Liberation Serif','DejaVu Serif',serif" fill="#111" textLength="98.5" lengthAdjust="spacingAndGlyphs" transform="rotate(-90 572 135)">31°40'0&quot;N</text>
<text x="920.6" y="135" text-anchor="middle" font-size="21.5" font-weight="bold" font-family="'Liberation Serif','DejaVu Serif',serif" fill="#111" textLength="98.5" lengthAdjust="spacingAndGlyphs" transform="rotate(-90 920.6 135)">31°40'0&quot;N</text>
<text x="572" y="238.5" text-anchor="middle" font-size="21.5" font-weight="bold" font-family="'Liberation Serif','DejaVu Serif',serif" fill="#111" textLength="98.5" lengthAdjust="spacingAndGlyphs" transform="rotate(-90 572 238.5)">31°20'0&quot;N</text>
<text x="920.6" y="238.5" text-anchor="middle" font-size="21.5" font-weight="bold" font-family="'Liberation Serif','DejaVu Serif',serif" fill="#111" textLength="98.5" lengthAdjust="spacingAndGlyphs" transform="rotate(-90 920.6 238.5)">31°20'0&quot;N</text>
<g transform="translate(976,41.3)">
<circle r="20.4" fill="#fff" stroke="#111" stroke-width="1.9"/>
<circle r="17.9" fill="none" stroke="#222" stroke-width="0.55"/>
<circle cx="8.76" cy="-21.16" r="0.5" fill="#333"/>
<circle cx="21.16" cy="-8.76" r="0.5" fill="#333"/>
<circle cx="21.16" cy="8.76" r="0.5" fill="#333"/>
<circle cx="8.76" cy="21.16" r="0.5" fill="#333"/>
<circle cx="-8.76" cy="21.16" r="0.5" fill="#333"/>
<circle cx="-21.16" cy="8.76" r="0.5" fill="#333"/>
<circle cx="-21.16" cy="-8.76" r="0.5" fill="#333"/>
<circle cx="-8.76" cy="-21.16" r="0.5" fill="#333"/>
<polygon points="0,0 0.00,-6.60 12.16,-12.16" fill="#fff" stroke="#111" stroke-width="0.45" stroke-linejoin="round"/><polygon points="0,0 6.60,-0.00 12.16,-12.16" fill="#111" stroke="#111" stroke-width="0.45" stroke-linejoin="round"/>
<polygon points="0,0 6.60,-0.00 12.16,12.16" fill="#fff" stroke="#111" stroke-width="0.45" stroke-linejoin="round"/><polygon points="0,0 0.00,6.60 12.16,12.16" fill="#111" stroke="#111" stroke-width="0.45" stroke-linejoin="round"/>
<polygon points="0,0 0.00,6.60 -12.16,12.16" fill="#fff" stroke="#111" stroke-width="0.45" stroke-linejoin="round"/><polygon points="0,0 -6.60,0.00 -12.16,12.16" fill="#111" stroke="#111" stroke-width="0.45" stroke-linejoin="round"/>
<polygon points="0,0 -6.60,0.00 -12.16,-12.16" fill="#fff" stroke="#111" stroke-width="0.45" stroke-linejoin="round"/><polygon points="0,0 -0.00,-6.60 -12.16,-12.16" fill="#111" stroke="#111" stroke-width="0.45" stroke-linejoin="round"/>
<polygon points="0,0 -3.82,-3.82 0.00,-24.20" fill="#fff" stroke="#111" stroke-width="0.45" stroke-linejoin="round"/><polygon points="0,0 3.82,-3.82 0.00,-24.20" fill="#111" stroke="#111" stroke-width="0.45" stroke-linejoin="round"/>
<polygon points="0,0 3.82,-3.82 24.20,-0.00" fill="#fff" stroke="#111" stroke-width="0.45" stroke-linejoin="round"/><polygon points="0,0 3.82,3.82 24.20,-0.00" fill="#111" stroke="#111" stroke-width="0.45" stroke-linejoin="round"/>
<polygon points="0,0 3.82,3.82 0.00,24.20" fill="#fff" stroke="#111" stroke-width="0.45" stroke-linejoin="round"/><polygon points="0,0 -3.82,3.82 0.00,24.20" fill="#111" stroke="#111" stroke-width="0.45" stroke-linejoin="round"/>
<polygon points="0,0 -3.82,3.82 -24.20,0.00" fill="#fff" stroke="#111" stroke-width="0.45" stroke-linejoin="round"/><polygon points="0,0 -3.82,-3.82 -24.20,0.00" fill="#111" stroke="#111" stroke-width="0.45" stroke-linejoin="round"/>
</g>
<text x="976" y="14.099999999999998" text-anchor="middle" font-size="11" font-family="'Liberation Serif','DejaVu Serif',serif" fill="#111">N</text>
<text x="976" y="75.5" text-anchor="middle" font-size="11" font-family="'Liberation Serif','DejaVu Serif',serif" fill="#111">S</text>
<text x="946.3" y="45.0" text-anchor="middle" font-size="11" font-family="'Liberation Serif','DejaVu Serif',serif" fill="#111">W</text>
<text x="1005.3" y="45.0" text-anchor="middle" font-size="11" font-family="'Liberation Serif','DejaVu Serif',serif" fill="#111">E</text>
<text x="975" y="118.8" text-anchor="middle" font-size="21" font-weight="bold" font-family="'Liberation Serif','DejaVu Serif',serif" fill="#111" textLength="89.4" lengthAdjust="spacingAndGlyphs">DEM (m)</text>
<rect x="948.5" y="132" width="19" height="203.5" fill="url(#cb)"/>
<text x="971.3" y="147.6" text-anchor="start" font-size="21" font-weight="bold" font-family="'Liberation Serif','DejaVu Serif',serif" fill="#111" textLength="43.4" lengthAdjust="spacingAndGlyphs">5885</text>
<text x="975.5" y="334.2" text-anchor="start" font-size="21" font-weight="bold" font-family="'Liberation Serif','DejaVu Serif',serif" fill="#111" textLength="41" lengthAdjust="spacingAndGlyphs">4300</text>
</svg></body></html>
